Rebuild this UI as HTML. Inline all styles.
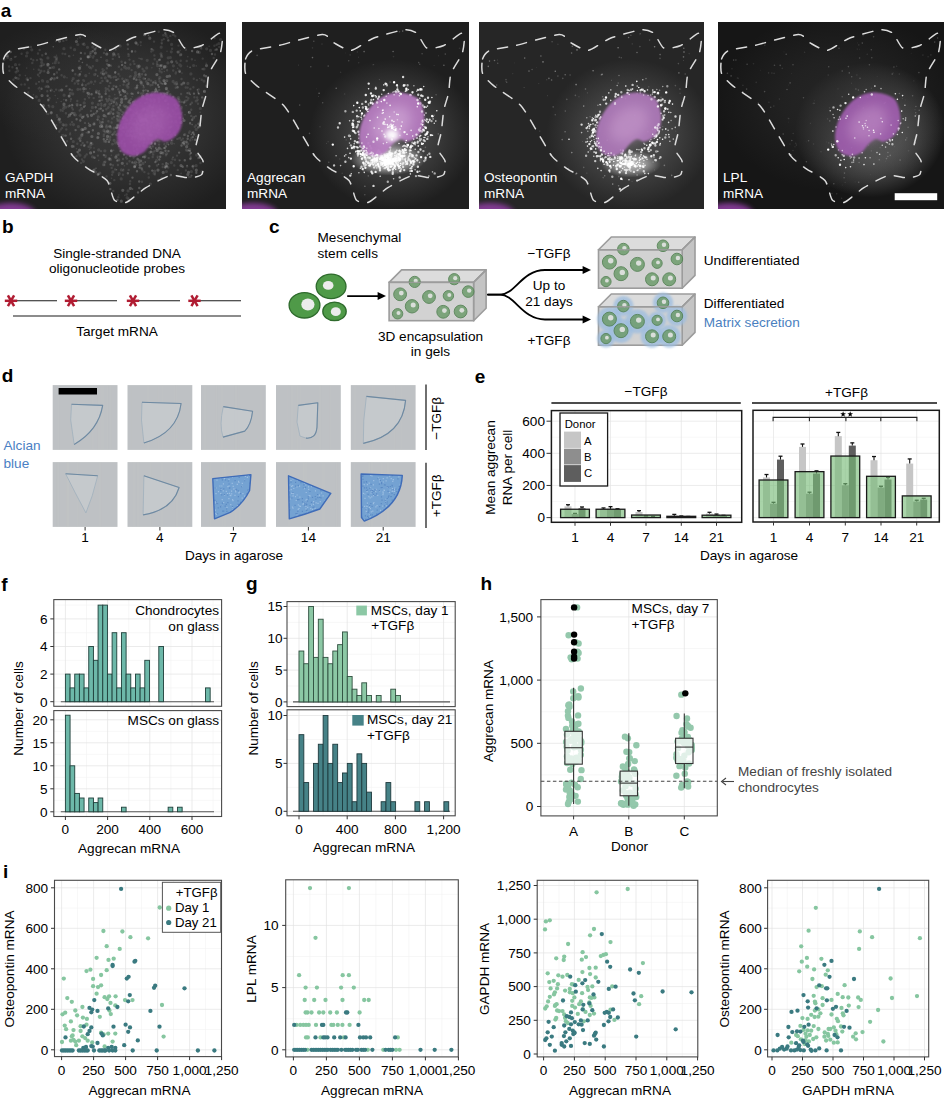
<!DOCTYPE html>
<html><head><meta charset="utf-8"><title>Figure</title>
<style>
html,body{margin:0;padding:0;background:#fff;}
body{width:946px;height:1099px;overflow:hidden;}
svg{display:block;font-family:"Liberation Sans", sans-serif;}
</style></head><body>
<svg width="946" height="1099" viewBox="0 0 946 1099">
<defs>
<filter id="blur05" x="-20%" y="-20%" width="140%" height="140%"><feGaussianBlur stdDeviation="0.75"/></filter>
<filter id="blur1" x="-20%" y="-20%" width="140%" height="140%"><feGaussianBlur stdDeviation="1"/></filter>
<filter id="blur2" x="-50%" y="-50%" width="200%" height="200%"><feGaussianBlur stdDeviation="2.5"/></filter>
<filter id="blur6" x="-50%" y="-50%" width="200%" height="200%"><feGaussianBlur stdDeviation="6"/></filter>
<filter id="blur10" x="-80%" y="-80%" width="260%" height="260%"><feGaussianBlur stdDeviation="10"/></filter>
</defs>
<rect x="0" y="0" width="946" height="1099" fill="#fff"/>
<text x="0.8" y="16.8" font-size="19" fill="#000" font-weight="bold">a</text>
<clipPath id="clipa1"><rect x="0" y="0" width="226" height="187"/></clipPath>
<g transform="translate(0,22)" clip-path="url(#clipa1)">
<rect x="0.00" y="0.00" width="226.00" height="187.00" fill="#1f1f1f"/>
<radialGradient id="ga1_0"><stop offset="0" stop-color="#404040" stop-opacity="0.9"/><stop offset="0.45" stop-color="#404040" stop-opacity="0.63"/><stop offset="1" stop-color="#404040" stop-opacity="0"/></radialGradient>
<ellipse cx="130" cy="95" rx="127.5" ry="105.0" fill="url(#ga1_0)"/>
<radialGradient id="ga1_1"><stop offset="0" stop-color="#303030" stop-opacity="0.7"/><stop offset="0.45" stop-color="#303030" stop-opacity="0.49"/><stop offset="1" stop-color="#303030" stop-opacity="0"/></radialGradient>
<ellipse cx="60" cy="60" rx="82.5" ry="60.0" fill="url(#ga1_1)"/>
<g filter="url(#blur05)"><path d="M147.8 115.1h0M26.7 46.1h0M3.7 50.3h0M39.8 69.0h0M156.2 109.3h0M187.5 44.4h0M124.4 143.7h0M127.2 91.8h0M209.1 24.2h0M113.6 128.2h0M116.5 80.4h0M11.4 36.5h0M61.2 79.5h0M123.6 147.4h0M163.6 62.0h0M87.2 62.0h0M187.8 34.7h0M86.3 110.7h0M128.4 62.1h0M55.1 56.0h0M89.8 66.7h0M99.5 98.8h0M195.0 38.3h0M156.2 67.8h0M70.6 79.3h0M66.0 64.5h0M196.3 43.9h0M158.5 103.4h0M73.4 33.2h0M211.0 47.0h0M180.1 28.4h0M136.3 129.9h0M156.8 87.2h0M168.0 112.4h0M151.9 45.8h0M123.7 74.8h0M124.8 173.4h0M150.6 102.5h0M110.0 43.3h0M164.3 49.5h0M193.3 146.8h0M16.2 34.6h0M214.1 15.2h0M140.8 23.4h0M119.3 35.4h0M159.5 85.4h0M56.4 33.3h0M122.8 109.1h0M70.2 110.7h0M33.5 72.8h0M198.2 71.2h0M25.4 53.6h0M114.8 72.6h0M139.0 36.2h0M32.5 75.5h0M84.1 21.1h0M200.2 90.3h0M48.3 83.4h0M157.4 136.1h0M208.2 56.6h0M95.9 52.0h0M104.5 48.1h0M189.6 71.4h0M67.0 55.7h0M191.8 153.6h0M153.8 102.5h0M89.2 51.4h0M185.0 92.8h0M118.9 173.0h0M52.7 41.4h0M97.9 115.2h0M55.2 73.5h0M54.2 69.6h0M182.0 51.1h0M177.6 46.4h0M173.7 92.0h0M167.0 29.2h0M136.4 98.2h0M33.7 47.3h0M82.4 61.3h0M68.7 34.1h0M87.6 74.0h0M194.6 94.8h0M192.7 117.8h0M158.5 38.7h0M81.1 49.8h0M120.1 63.7h0M76.5 126.8h0M128.0 32.0h0M132.2 74.7h0M140.3 36.8h0M39.1 54.4h0M206.2 41.3h0M125.0 43.7h0M89.5 127.2h0M128.9 60.3h0M178.3 105.5h0M93.7 62.3h0M161.9 22.0h0M57.7 76.5h0M179.8 138.5h0M39.6 65.3h0M138.0 55.1h0M131.1 102.4h0M111.5 156.2h0M149.9 123.4h0M190.5 82.2h0M136.3 98.8h0M136.4 87.6h0M145.9 97.2h0M203.8 69.4h0M156.8 100.4h0M147.8 91.8h0M63.8 77.6h0M140.7 99.4h0M186.1 83.5h0M56.4 80.4h0M129.4 55.0h0M142.2 103.1h0M164.5 102.0h0M133.1 88.9h0M137.4 105.8h0M77.6 16.9h0M181.1 151.4h0M124.8 106.3h0M137.3 111.9h0M146.1 96.6h0M133.5 126.0h0M163.1 110.4h0M143.6 97.1h0M111.4 133.2h0M143.5 98.9h0M108.9 76.6h0M144.1 105.2h0M160.2 107.0h0M159.6 107.0h0M143.9 104.7h0M167.1 59.2h0M120.0 114.1h0M155.3 112.5h0M116.1 76.5h0M157.1 110.6h0M199.7 56.5h0M164.1 91.4h0M94.0 126.1h0M169.9 74.1h0M140.0 93.3h0M117.3 105.7h0M118.4 122.2h0M117.7 103.6h0M196.0 114.6h0M136.9 140.4h0M150.4 108.4h0M141.1 114.8h0M181.9 90.7h0M140.7 80.6h0M72.9 83.3h0M155.0 78.0h0M147.7 95.3h0M174.2 121.8h0M160.9 131.7h0M90.5 45.0h0M137.1 92.5h0M98.7 138.4h0M138.3 101.2h0M119.9 54.1h0" stroke="#fff" stroke-width="1.6" stroke-linecap="round" stroke-opacity="0.1" fill="none"/><path d="M158.5 142.4h0M82.4 40.5h0M173.0 135.3h0M198.8 71.4h0M187.1 143.6h0M159.4 46.8h0M180.3 95.7h0M148.5 13.4h0M126.9 101.8h0M143.5 115.0h0M191.3 112.5h0M88.6 101.3h0M118.7 153.2h0M62.9 89.0h0M39.0 59.9h0M175.1 84.7h0M97.7 54.0h0M132.6 167.1h0M188.6 128.4h0M140.3 107.1h0M136.8 100.0h0M119.4 71.3h0M154.0 80.2h0M174.4 82.9h0M122.1 92.8h0M147.0 98.2h0M142.7 93.8h0M150.0 101.6h0M143.4 63.6h0M192.1 102.6h0M190.1 45.4h0M151.4 126.6h0M171.5 118.3h0M188.6 90.1h0M160.8 100.1h0M101.0 35.2h0M145.2 140.1h0M111.6 81.3h0M147.1 106.9h0M168.6 122.7h0M148.6 109.1h0M50.5 68.7h0M135.0 96.8h0M138.0 106.7h0M190.2 72.5h0M124.9 121.5h0M149.6 109.1h0M125.0 85.0h0M197.4 67.9h0M96.0 146.2h0M158.9 37.7h0M141.7 97.5h0M157.2 69.7h0M116.5 147.8h0M85.2 83.9h0M153.7 105.5h0M99.1 69.0h0M155.9 66.4h0M141.4 103.7h0M145.3 56.6h0M53.3 24.8h0M107.1 117.5h0M175.2 87.3h0M136.5 91.4h0M155.7 126.0h0M183.2 96.4h0M162.2 61.9h0" stroke="#fff" stroke-width="1.6" stroke-linecap="round" stroke-opacity="0.2" fill="none"/><path d="M114.8 109.8h0M142.4 148.3h0M117.3 119.7h0M189.9 132.4h0M175.9 50.4h0M180.1 33.2h0M48.2 48.3h0M129.9 162.0h0M141.2 71.5h0M164.6 72.6h0M108.7 43.1h0M73.9 124.5h0M198.9 71.9h0M62.6 31.6h0M48.4 77.4h0M142.2 83.5h0M154.7 37.3h0M161.4 33.5h0M193.4 65.2h0M214.5 16.1h0M144.4 97.8h0M129.5 37.6h0M60.8 88.5h0M107.7 59.3h0M43.9 42.5h0M56.6 37.0h0M84.9 77.3h0M58.6 18.1h0M178.5 23.6h0M124.7 96.3h0M104.4 143.0h0M158.4 157.9h0M167.1 75.8h0M142.2 75.6h0M168.2 145.5h0M157.0 143.5h0M163.3 13.2h0M150.5 63.2h0M139.1 138.2h0M119.0 111.8h0M118.3 175.3h0M136.4 21.5h0M119.4 23.2h0M103.0 49.0h0M177.3 116.9h0M154.8 105.6h0M124.4 118.0h0M182.9 116.6h0M95.9 48.3h0M127.5 90.7h0M175.3 14.2h0M18.5 56.8h0M82.8 22.0h0M181.5 57.0h0M56.1 67.6h0M89.4 72.5h0M180.1 101.1h0M117.9 143.0h0M111.6 100.5h0M118.4 132.8h0M84.9 31.4h0M13.4 57.7h0M134.4 41.9h0M70.5 102.5h0M181.1 72.0h0M161.2 113.3h0M191.2 153.7h0M161.9 18.2h0M193.8 56.8h0M186.7 39.0h0M105.6 133.7h0M160.5 44.4h0M180.7 38.7h0M85.0 100.9h0M88.6 124.7h0M153.2 132.5h0M189.1 110.8h0M77.3 121.7h0M115.1 147.5h0M79.7 93.6h0M141.7 37.0h0M122.8 104.9h0M45.1 87.5h0M128.7 32.5h0M106.2 76.9h0M165.4 111.7h0M118.9 44.7h0M202.7 36.6h0M50.5 57.4h0M19.7 53.3h0M113.0 33.6h0M81.3 123.1h0M114.3 158.1h0M215.0 32.5h0M177.8 147.9h0M128.6 101.6h0M140.4 98.3h0M38.8 47.7h0M201.2 26.5h0M172.5 137.3h0M48.7 65.0h0M37.0 38.1h0M161.6 50.2h0M159.7 48.7h0M33.3 38.3h0M74.2 93.0h0M91.0 88.9h0M77.3 79.0h0M132.4 87.7h0M141.8 116.1h0M43.5 42.7h0M89.0 44.8h0M110.9 105.4h0M169.3 99.9h0M57.4 94.9h0M161.8 47.1h0M190.5 154.9h0M28.3 70.5h0M219.3 25.0h0M122.6 90.3h0M156.9 102.1h0M127.9 26.9h0M51.4 90.2h0M201.7 57.8h0M109.4 77.5h0M81.1 140.9h0M130.4 42.5h0M148.5 151.6h0M21.3 62.6h0M168.0 102.1h0M23.9 26.7h0M49.6 76.3h0M143.4 70.7h0M155.9 84.8h0M86.9 43.0h0M141.8 83.6h0M111.0 43.8h0M198.1 136.1h0M76.7 59.0h0M166.4 67.4h0M78.3 131.6h0M202.4 47.1h0M84.6 135.2h0M106.0 67.6h0M47.3 69.2h0M167.6 15.6h0M165.2 145.1h0M68.2 94.9h0M115.8 55.0h0M49.2 84.5h0M166.0 133.3h0M113.2 169.0h0M167.1 48.3h0M107.8 67.0h0M84.1 58.8h0M82.6 111.8h0M137.7 110.2h0M56.9 50.5h0M194.4 75.2h0M176.6 82.4h0M101.2 81.7h0M126.6 172.5h0M45.7 64.8h0M133.7 97.2h0M190.4 67.0h0M85.3 134.0h0M128.4 103.1h0M177.2 40.9h0M137.8 22.6h0M121.4 47.4h0M61.6 53.3h0M137.7 101.7h0M119.1 34.5h0M112.8 36.9h0M30.5 56.1h0M133.5 128.2h0M187.5 128.7h0M188.3 76.2h0M59.3 109.5h0M39.7 28.0h0M177.1 62.2h0M41.7 43.4h0M164.2 126.1h0M213.7 36.0h0M69.4 34.2h0M122.1 106.2h0M36.2 61.8h0M103.9 112.8h0M112.8 122.1h0M9.4 48.7h0M106.9 116.7h0M94.2 101.0h0M65.2 32.0h0M60.8 107.4h0M113.7 64.0h0M181.1 33.0h0M196.9 58.1h0M128.6 176.4h0M156.9 96.5h0M75.3 52.2h0M121.0 88.5h0M93.7 76.1h0M216.7 22.8h0M164.3 59.7h0M16.1 50.4h0M129.5 139.2h0M160.0 83.8h0M102.4 59.0h0M90.7 125.5h0M148.2 125.1h0M173.2 48.5h0M168.7 108.3h0M62.0 106.1h0M94.9 27.2h0M17.0 56.2h0M187.2 71.1h0M84.6 122.9h0M179.5 138.2h0M38.7 66.4h0M39.9 51.0h0M72.9 87.4h0M80.4 67.3h0M191.2 87.7h0M200.5 141.0h0M156.5 93.6h0M113.9 87.6h0M180.0 116.0h0M154.5 129.3h0M133.8 108.9h0M49.0 83.6h0M72.6 48.5h0M127.3 71.6h0M14.9 34.9h0M141.9 71.6h0M112.9 143.2h0M38.0 31.5h0M86.7 132.4h0M142.1 52.3h0M59.3 68.4h0M191.9 37.2h0M95.1 59.4h0M167.6 86.6h0M93.6 34.3h0M109.4 74.4h0M153.2 28.2h0M136.1 142.8h0M56.2 103.2h0M168.1 142.0h0M21.6 31.7h0M145.7 68.2h0M135.1 114.7h0M91.9 121.2h0M82.7 121.0h0M87.3 120.2h0M79.7 88.5h0M144.4 150.1h0M151.3 29.5h0M116.5 133.4h0M178.3 154.3h0M99.2 87.0h0M15.7 50.0h0M150.7 77.2h0M31.1 36.9h0M28.8 65.9h0M162.7 145.1h0M105.7 69.2h0M160.8 61.0h0M83.3 58.2h0M68.4 84.5h0M181.9 22.7h0M93.2 102.2h0M152.4 62.8h0M198.6 67.4h0M177.5 104.1h0M152.3 86.3h0M175.7 51.4h0M24.8 62.4h0M51.6 45.7h0M115.1 50.7h0M152.7 124.4h0M181.4 86.4h0M89.9 45.8h0M137.6 136.8h0M69.0 73.9h0M65.9 91.3h0M58.7 40.8h0M214.4 23.7h0M130.8 77.3h0M79.9 15.4h0M157.0 41.8h0M63.6 103.5h0M137.0 89.1h0M30.9 25.0h0M181.0 154.6h0M188.7 155.0h0M178.3 106.6h0M96.0 25.7h0M195.9 103.5h0M189.7 109.4h0M131.6 48.1h0M140.7 108.9h0M123.6 96.9h0M153.3 104.3h0M66.3 107.5h0M19.3 42.6h0M118.3 32.2h0M141.2 89.8h0M139.3 102.6h0M162.4 115.2h0M167.7 112.9h0M150.8 104.7h0M144.1 86.0h0M106.5 103.4h0M110.2 53.9h0M98.9 78.9h0M123.5 62.6h0M99.1 75.0h0M54.6 35.0h0M115.2 33.2h0M44.3 49.2h0M155.4 59.3h0M115.7 27.5h0M91.2 46.3h0M154.5 79.5h0M134.7 86.1h0M145.9 76.9h0M187.1 144.4h0M56.0 19.1h0M138.4 102.7h0M72.1 58.7h0M101.4 83.5h0M187.4 78.1h0M112.1 152.8h0M142.0 159.8h0M106.3 87.2h0M154.4 33.4h0M87.1 70.8h0M170.4 13.9h0M190.3 118.2h0M78.7 45.4h0M74.4 135.2h0M110.9 55.6h0M123.0 137.0h0M108.3 53.5h0M154.0 19.6h0M92.4 122.1h0M47.0 91.6h0M12.4 45.3h0M139.1 91.7h0M40.5 36.9h0M104.0 31.0h0M105.3 139.7h0M126.1 135.4h0M150.7 82.0h0M82.0 137.4h0M118.2 56.9h0M109.2 68.6h0M175.7 94.8h0M121.6 39.8h0M158.8 9.8h0M42.2 33.3h0M32.3 41.0h0M70.1 112.2h0M175.8 65.8h0M56.9 93.1h0M134.4 123.6h0M138.6 114.6h0M138.9 140.8h0M63.3 18.9h0M154.9 152.4h0M175.0 137.7h0M215.3 27.9h0M163.8 17.1h0M63.7 84.2h0M79.1 39.1h0M99.0 152.1h0M102.6 47.3h0M9.1 44.5h0M174.4 100.9h0M66.4 17.7h0M145.5 86.4h0M121.9 109.3h0M168.1 82.0h0M122.4 56.8h0M178.5 77.0h0M147.7 80.8h0M144.8 56.9h0M130.5 54.3h0M74.8 61.4h0M111.7 145.9h0M93.0 35.5h0M133.5 39.2h0M191.2 93.9h0M151.1 58.6h0M114.1 94.9h0M186.5 74.9h0M142.6 85.2h0M148.1 106.0h0M104.8 109.8h0M149.6 99.0h0M143.2 87.8h0M128.2 85.4h0M103.8 114.0h0M102.9 97.3h0M115.5 112.6h0M135.3 86.2h0M132.1 29.3h0M81.4 94.4h0M113.5 55.2h0M161.4 127.1h0M130.4 85.9h0M159.2 119.4h0M105.5 134.7h0M132.4 99.6h0M66.5 63.9h0M181.7 85.2h0M191.9 80.8h0M153.2 41.7h0M143.4 76.0h0M123.9 127.9h0M146.2 59.5h0M171.4 100.8h0M38.0 52.8h0M190.4 82.4h0M137.7 85.3h0M148.2 93.2h0M101.5 55.9h0M203.9 77.7h0M138.5 121.5h0M150.5 93.1h0M154.9 92.3h0M144.4 106.1h0M125.9 92.6h0M118.5 52.0h0M140.5 97.0h0M90.2 32.3h0M179.2 116.2h0M143.9 97.9h0M177.1 100.5h0M105.4 82.3h0M125.6 57.8h0M143.3 105.2h0M71.0 77.3h0M149.5 86.2h0M105.5 119.3h0M155.0 122.0h0M160.6 91.1h0M109.2 91.3h0M154.1 97.3h0M106.5 154.4h0M131.3 94.7h0M150.0 99.8h0M137.1 111.1h0M181.4 118.1h0M123.0 152.8h0M161.7 20.9h0M130.4 93.5h0M113.4 84.0h0M124.8 77.0h0M130.2 159.2h0M126.4 84.3h0M154.7 99.3h0M142.6 100.4h0M179.6 90.9h0M107.9 85.9h0M139.5 57.7h0M139.9 111.7h0M150.1 89.1h0M121.7 107.7h0M172.3 118.4h0M100.4 60.9h0M154.7 93.9h0M143.4 102.7h0M169.0 93.2h0M71.9 85.5h0M134.9 117.2h0M126.6 63.4h0M105.7 66.2h0M191.3 116.1h0M179.4 96.4h0M133.3 106.8h0M109.0 64.3h0M168.0 94.8h0M151.8 89.9h0M155.9 99.8h0M110.5 105.2h0M145.7 98.3h0M128.8 61.7h0M141.5 99.2h0M129.8 98.7h0M117.0 96.8h0M190.7 135.3h0M174.5 61.4h0M107.1 42.1h0M130.0 88.2h0M152.1 94.0h0M142.6 98.4h0M150.9 106.1h0M85.9 67.0h0M151.6 121.8h0M198.1 69.9h0M110.3 60.9h0M97.9 133.6h0M154.5 72.3h0M155.7 115.6h0M159.8 49.2h0M143.0 123.3h0M106.3 110.1h0M142.3 100.4h0M144.1 94.2h0M106.9 46.2h0M152.3 97.2h0M137.1 101.7h0M117.5 90.5h0M161.3 104.7h0M128.7 147.9h0M132.1 101.9h0M140.9 102.6h0M151.5 79.3h0M117.5 76.1h0M89.1 75.6h0M137.8 94.4h0M143.2 97.0h0M80.3 44.5h0M76.8 59.6h0M145.8 98.6h0M109.3 137.8h0M159.2 57.1h0M192.3 111.0h0M162.7 142.3h0M161.1 72.0h0M78.8 116.7h0M157.0 39.7h0M102.0 78.1h0M126.9 136.6h0M180.7 91.9h0M147.1 80.4h0M185.7 65.5h0M101.7 75.7h0M72.0 100.1h0M152.7 135.0h0M175.4 94.8h0M141.7 121.7h0M143.2 97.2h0M112.2 96.4h0M177.6 91.6h0M157.7 134.8h0M124.7 59.9h0M159.3 67.9h0M159.7 112.4h0M140.7 95.2h0M142.7 121.4h0M142.1 96.4h0M131.6 95.2h0M135.6 87.8h0M118.2 67.2h0M105.9 94.4h0M161.0 92.1h0M117.5 98.7h0M133.6 135.5h0M153.7 90.6h0M136.4 91.5h0M140.2 81.5h0M133.6 88.2h0M162.7 130.6h0M140.2 117.0h0M124.4 122.4h0M105.3 27.8h0M143.1 86.0h0M134.4 93.3h0M143.7 111.3h0M134.9 93.2h0M197.1 75.5h0M122.6 128.4h0M127.7 88.5h0M174.3 143.5h0M144.1 117.2h0M172.1 26.7h0M184.2 112.9h0M164.4 122.3h0M152.5 130.3h0M85.7 63.3h0M129.8 119.7h0M177.0 133.6h0M156.7 83.7h0M140.2 96.4h0M141.8 98.1h0M130.6 93.2h0M185.9 27.8h0M135.3 29.4h0M148.8 155.5h0M143.1 95.7h0M143.7 65.2h0M176.0 93.1h0M116.9 105.7h0M164.9 92.1h0M130.8 110.0h0M173.7 111.3h0M185.9 148.4h0M140.7 98.7h0M113.8 80.3h0M198.0 81.8h0M123.8 99.1h0M142.2 97.7h0M88.7 61.5h0M83.6 69.4h0M95.9 91.1h0M142.0 97.6h0M143.6 56.5h0M142.6 46.9h0M140.9 138.9h0M113.9 111.2h0M135.9 125.1h0M72.0 68.2h0M88.2 35.1h0M136.4 97.4h0M101.0 129.1h0M140.5 105.1h0M93.1 148.3h0M132.9 71.9h0M166.0 90.7h0M179.6 80.1h0M104.3 119.4h0M160.2 110.2h0M194.8 104.7h0M123.2 148.4h0M139.7 125.3h0M112.3 122.2h0M108.5 85.2h0M159.1 122.6h0M134.5 141.4h0M146.5 113.5h0M158.2 108.2h0M142.0 98.5h0M149.6 91.1h0M60.7 88.0h0M181.8 80.0h0M145.4 112.1h0M105.1 110.2h0M92.8 44.3h0M190.1 137.0h0M195.9 94.1h0M187.6 65.6h0M174.5 95.4h0M133.5 125.9h0M148.7 136.1h0M139.7 83.9h0M78.2 61.7h0M152.4 109.9h0M136.6 106.6h0M162.5 110.0h0M197.7 77.8h0M156.3 126.7h0M134.5 100.9h0M141.8 77.8h0M83.9 94.4h0M133.7 109.6h0M148.6 117.2h0M147.5 120.8h0M115.2 54.6h0M157.4 90.6h0M170.3 72.2h0M118.4 104.8h0M144.2 95.9h0M80.7 92.6h0M144.1 98.4h0M76.6 134.1h0M67.1 119.2h0M159.5 59.3h0M142.0 98.0h0M137.1 90.9h0M128.6 33.9h0M162.9 71.3h0M146.3 98.6h0M77.2 83.5h0M148.1 92.6h0M70.8 25.7h0M154.7 103.5h0M146.5 59.5h0M48.2 92.0h0M140.7 20.3h0M149.8 89.3h0M120.8 102.8h0M136.7 113.9h0M127.4 62.8h0M178.6 104.2h0M127.1 141.8h0M142.2 98.3h0M140.2 105.1h0M176.2 39.5h0M108.4 99.2h0M122.5 68.0h0M123.4 90.8h0M134.1 89.3h0M157.7 118.7h0" stroke="#fff" stroke-width="2.4" stroke-linecap="round" stroke-opacity="0.1" fill="none"/><path d="M102.2 104.7h0M173.2 74.9h0M47.6 73.7h0M84.0 84.7h0M138.8 52.4h0M94.3 147.8h0M45.8 31.7h0M189.8 128.9h0M144.3 99.0h0M120.5 72.9h0M124.3 95.0h0M97.1 89.3h0M123.0 106.1h0M72.7 48.5h0M165.3 61.6h0M151.6 27.1h0M84.2 123.8h0M51.8 56.3h0M110.6 142.4h0M82.3 63.0h0M77.6 129.9h0M69.7 83.6h0M91.6 72.3h0M127.9 151.2h0M69.7 67.4h0M80.0 52.2h0M41.5 66.8h0M139.3 166.0h0M102.6 100.3h0M80.8 36.7h0M152.9 85.1h0M192.1 29.0h0M127.8 22.4h0M110.1 104.3h0M199.5 135.8h0M131.9 29.5h0M108.9 119.9h0M138.0 170.4h0M206.0 54.3h0M80.3 98.5h0M102.9 88.6h0M158.0 63.0h0M128.8 113.9h0M16.8 46.2h0M116.3 57.9h0M54.2 52.2h0M190.9 131.0h0M92.8 29.2h0M10.7 30.0h0M170.9 153.0h0M212.0 32.0h0M66.1 78.3h0M165.3 11.3h0M137.0 65.4h0M110.3 167.1h0M94.0 130.0h0M138.8 119.4h0M187.7 116.8h0M192.7 144.4h0M115.3 50.3h0M138.4 116.3h0M172.7 88.5h0M184.8 138.3h0M126.3 76.5h0M159.0 80.0h0M80.9 30.9h0M71.2 91.8h0M193.2 110.5h0M132.4 140.4h0M97.9 152.5h0M57.2 55.7h0M15.5 55.8h0M163.3 106.3h0M198.5 101.8h0M95.7 85.3h0M196.3 150.8h0M216.7 27.4h0M49.8 46.0h0M179.1 130.6h0M184.2 122.3h0M65.7 113.6h0M186.5 119.7h0M113.2 91.8h0M103.9 133.1h0M121.5 121.0h0M94.3 102.2h0M144.9 96.8h0M122.1 42.9h0M158.9 64.9h0M128.6 80.3h0M133.9 56.7h0M156.5 103.4h0M123.9 102.1h0M76.6 97.3h0M124.0 94.8h0M109.3 104.4h0M80.3 118.8h0M48.3 78.3h0M80.5 83.1h0M157.1 89.4h0M121.9 118.9h0M146.3 95.8h0M155.0 121.5h0M140.4 93.2h0M143.5 111.4h0M131.0 109.2h0M147.4 101.7h0M112.5 112.6h0M179.7 49.7h0M129.9 107.5h0M101.6 74.6h0M141.7 94.9h0M149.3 144.2h0M153.3 60.4h0M152.8 89.4h0M99.5 72.2h0M135.7 123.6h0M145.5 92.4h0M137.0 149.2h0M139.2 159.5h0M147.9 69.0h0M164.9 78.9h0M137.2 63.6h0M164.7 125.9h0M159.8 37.7h0M120.3 103.8h0M123.0 68.1h0M97.6 97.6h0M199.8 104.2h0M176.6 86.0h0M83.2 107.8h0M123.1 96.3h0M153.7 82.8h0M130.3 101.1h0M155.4 140.1h0M150.1 111.9h0M143.9 102.0h0M155.7 61.3h0M134.9 91.4h0M175.1 112.7h0M138.6 116.7h0M132.7 114.3h0M150.9 129.7h0M159.9 87.2h0M168.5 129.1h0M142.2 98.5h0M92.9 108.2h0M142.0 97.9h0M159.6 104.3h0M158.9 75.4h0M143.4 68.6h0M121.5 112.5h0M140.8 103.3h0M140.0 112.4h0M125.8 102.0h0M169.5 92.5h0M105.7 71.8h0M160.2 134.8h0M124.0 132.6h0M108.1 91.7h0M171.3 94.4h0M131.8 96.1h0M182.6 121.1h0M144.4 117.5h0M194.0 112.4h0M125.5 96.1h0M204.2 53.5h0M125.9 103.5h0M151.2 84.8h0M156.0 114.1h0M192.2 97.8h0M145.4 97.7h0M145.1 81.1h0M120.1 83.3h0M151.5 101.0h0M155.1 70.0h0M164.5 71.6h0M147.9 100.6h0M125.2 40.7h0M178.6 83.6h0M162.0 89.6h0M27.8 58.0h0M59.2 47.4h0M152.3 148.6h0M156.7 106.1h0M147.0 77.1h0M177.6 65.2h0M136.1 102.5h0M166.6 109.4h0M155.2 93.6h0M153.2 97.6h0M143.1 98.0h0M139.4 110.7h0M168.3 82.2h0M141.7 146.5h0M88.8 109.9h0M126.5 90.8h0M82.3 95.7h0M134.3 112.3h0M119.6 105.7h0M150.4 113.0h0M159.3 137.5h0M138.7 96.4h0M141.6 96.2h0M134.6 123.0h0M119.1 123.9h0M152.5 89.7h0M96.1 70.4h0M120.5 129.1h0M151.0 103.8h0M166.3 141.3h0M117.4 178.0h0M87.9 94.4h0M100.9 86.6h0M137.0 132.8h0M195.2 117.8h0M192.8 115.0h0M132.5 155.6h0M171.0 104.9h0M75.6 108.1h0M168.1 85.7h0M100.1 78.6h0M131.2 120.3h0M134.4 129.1h0M111.2 128.8h0M72.3 90.9h0M168.3 18.4h0M164.5 73.9h0M145.2 97.5h0M190.1 101.2h0M131.6 71.6h0M187.9 114.0h0M129.4 78.8h0M146.9 109.0h0M140.4 92.5h0M144.6 135.3h0M123.8 59.2h0M125.5 74.3h0M194.0 71.6h0M109.7 136.6h0M140.3 107.4h0M152.5 91.0h0M143.1 134.9h0M165.5 128.8h0M151.7 95.5h0M119.5 69.8h0M90.9 121.0h0M159.0 107.7h0M142.3 97.8h0M181.5 123.5h0M118.5 85.4h0M99.2 71.8h0M138.5 94.7h0M93.7 92.0h0M94.5 135.7h0M165.8 124.4h0M190.6 136.6h0M129.7 112.4h0M169.8 109.9h0M144.0 120.7h0M132.2 116.8h0M160.8 43.4h0M152.5 93.6h0M138.2 70.8h0M146.7 102.7h0M161.4 102.5h0M103.8 117.3h0M82.9 95.0h0M144.6 86.5h0M133.5 123.4h0M123.2 69.1h0M179.5 95.5h0M120.6 106.9h0M50.9 57.2h0M144.1 98.4h0M134.8 144.6h0M167.0 144.4h0M142.3 102.8h0M140.3 99.7h0M72.1 83.0h0M136.4 57.7h0M133.6 91.6h0M158.3 75.6h0M157.6 89.7h0M171.9 99.4h0M181.6 62.4h0M87.3 93.0h0M116.2 64.7h0M130.8 87.8h0M117.2 138.6h0M202.2 75.4h0M184.0 80.4h0M121.4 113.3h0M198.2 105.4h0M130.2 134.0h0M140.8 98.3h0M137.0 98.9h0M141.2 93.4h0M146.5 98.8h0M78.5 58.6h0M151.8 120.4h0M148.0 110.6h0M158.9 104.6h0M145.6 52.7h0M71.1 116.7h0M165.3 145.6h0M139.6 145.6h0M130.2 81.1h0M142.3 98.2h0M149.9 84.2h0M139.4 51.9h0M182.7 144.7h0M123.9 109.8h0M117.5 94.0h0M150.2 125.2h0M161.4 103.6h0M131.1 105.6h0M142.3 98.3h0" stroke="#fff" stroke-width="2.4" stroke-linecap="round" stroke-opacity="0.2" fill="none"/><path d="M56.4 35.5h0M134.8 54.9h0M15.5 42.7h0M109.0 136.6h0M166.6 131.6h0M160.2 106.7h0M157.6 97.3h0M147.2 38.3h0M145.0 134.2h0M121.4 147.9h0M180.8 32.3h0M31.8 27.8h0M70.4 71.3h0M80.3 115.9h0M193.6 43.5h0M204.0 59.1h0M200.6 25.0h0M4.0 37.6h0M218.9 21.6h0M41.7 38.1h0M201.9 149.9h0M144.3 116.7h0M148.1 104.8h0M165.9 44.6h0M170.3 35.5h0M47.6 64.3h0M73.5 102.6h0M96.6 69.1h0M63.9 26.7h0M146.7 45.9h0M95.0 27.3h0M41.7 40.6h0M206.6 64.0h0M60.2 100.0h0M115.6 121.0h0M161.7 156.2h0M130.3 130.4h0M81.6 86.6h0M184.8 112.5h0M148.8 57.5h0M171.3 140.6h0M92.4 81.1h0M118.9 98.2h0M150.4 162.0h0M128.1 168.9h0M106.8 38.6h0M161.2 25.2h0M40.9 44.0h0M135.5 53.2h0M63.1 102.5h0M104.3 140.4h0M137.4 44.0h0M134.9 133.7h0M98.2 82.6h0M124.7 45.2h0M200.3 86.5h0M41.1 49.1h0M72.8 71.9h0M123.9 116.8h0M174.5 89.9h0M159.8 116.5h0M64.1 73.2h0M148.5 116.5h0M119.2 151.5h0M91.2 60.1h0M114.1 106.2h0M210.5 28.4h0M166.8 58.5h0M196.6 133.1h0M177.9 91.8h0M193.2 144.1h0M26.5 34.0h0M92.4 85.4h0M94.7 52.6h0M133.5 102.1h0M187.3 121.5h0M90.7 122.7h0M140.8 138.8h0M121.1 99.8h0M17.7 48.8h0M74.3 91.4h0M187.9 61.4h0M166.5 78.2h0M166.0 13.4h0M121.2 156.9h0M97.6 70.6h0M111.6 128.9h0M157.6 43.7h0M52.8 84.7h0M127.9 65.2h0M152.5 85.1h0M58.8 97.8h0M55.2 40.7h0M87.5 25.3h0M85.8 53.7h0M206.7 26.8h0M84.1 22.5h0M199.3 30.4h0M78.4 104.6h0M180.8 43.8h0M113.9 79.7h0M110.7 90.2h0M154.8 149.1h0M196.1 143.7h0M179.8 42.8h0M172.3 103.8h0M204.0 47.0h0M110.0 109.9h0M27.1 56.9h0M115.0 76.8h0M88.4 110.4h0M176.4 60.7h0M128.7 178.3h0M107.1 58.7h0M77.1 82.3h0M51.2 68.1h0M127.1 175.7h0M143.9 49.0h0M161.6 34.6h0M74.6 27.7h0M7.6 35.4h0M140.0 139.5h0M64.3 54.8h0M161.8 43.5h0M186.3 127.9h0M120.1 24.0h0M77.8 22.5h0M199.8 103.6h0M65.6 85.2h0M136.4 88.0h0M191.4 149.6h0M196.2 107.4h0M171.3 120.8h0M176.0 62.0h0M188.8 71.0h0M27.2 30.8h0M42.7 59.0h0M179.4 48.9h0M189.7 127.3h0M169.8 94.1h0M170.0 115.2h0M110.5 137.5h0M53.6 45.3h0M162.0 88.4h0M73.3 119.5h0M150.9 113.4h0M95.6 150.0h0M79.0 53.2h0M141.1 113.1h0M163.0 131.2h0M111.6 78.5h0M158.7 43.5h0M164.3 45.7h0M99.8 151.1h0M125.2 100.3h0M154.1 151.2h0M10.9 37.4h0M63.3 113.4h0M138.0 45.2h0M128.8 46.2h0M104.9 128.8h0M84.2 80.9h0M161.0 31.8h0M135.4 50.7h0M140.1 88.5h0M98.7 127.9h0M100.6 100.6h0M173.3 12.6h0M173.4 43.8h0M54.1 56.8h0M142.9 141.4h0M132.5 133.3h0M66.0 103.1h0M118.7 137.9h0M137.5 123.1h0M36.3 74.8h0M80.0 133.2h0M101.5 50.8h0M171.3 29.8h0M137.8 137.3h0M105.9 50.8h0M187.7 121.8h0M145.9 124.6h0M169.0 112.3h0M167.3 121.4h0M104.4 83.4h0M63.5 86.5h0M62.4 113.5h0M166.4 149.5h0M171.6 22.4h0M157.2 69.6h0M112.9 149.9h0M39.1 78.4h0M156.5 138.5h0M98.2 152.1h0M47.9 43.4h0M220.7 17.5h0M47.9 35.9h0M42.4 58.6h0M47.5 59.6h0M193.6 95.6h0M149.8 130.6h0M144.3 87.8h0M171.8 121.3h0M176.8 102.8h0M173.1 59.4h0M152.8 70.4h0M92.5 134.8h0M136.5 83.8h0M103.9 108.5h0M133.3 93.7h0M139.6 98.3h0M83.4 139.3h0M119.4 87.5h0M161.3 92.7h0M92.8 24.9h0M114.1 118.3h0M126.6 106.1h0M119.1 91.6h0M139.7 95.0h0M179.2 78.4h0M154.4 150.9h0M167.8 95.9h0M109.8 115.2h0M132.8 108.9h0M151.7 86.4h0M149.1 108.3h0M96.9 38.4h0M135.9 66.1h0M117.2 112.6h0M129.5 110.0h0M137.2 88.8h0M108.7 110.3h0M154.2 109.8h0M127.0 85.9h0M103.5 142.7h0M153.1 100.3h0M142.4 97.4h0M131.3 99.4h0M147.5 89.2h0M147.6 77.3h0M160.8 71.6h0M128.6 101.6h0M168.2 35.8h0M185.3 79.1h0M137.3 87.0h0M149.8 95.0h0M144.2 100.5h0M135.4 140.1h0M131.3 83.6h0M112.6 87.2h0M133.8 101.4h0M167.9 40.9h0M142.1 98.0h0M124.5 121.0h0M139.8 54.4h0M159.7 89.1h0M149.1 109.7h0M105.3 55.8h0M178.4 75.5h0M161.4 105.2h0M153.3 77.1h0M144.5 97.1h0M135.6 90.1h0M56.2 38.4h0M141.6 91.7h0M106.5 105.1h0M168.0 69.6h0M77.9 67.3h0M119.5 94.9h0M146.3 121.0h0M122.5 105.3h0M132.9 89.5h0M75.4 92.9h0M132.3 114.8h0M155.7 118.0h0M151.9 117.0h0M160.4 97.2h0M147.2 99.1h0M161.6 116.5h0M141.7 61.9h0M109.9 82.1h0M136.5 106.3h0M143.9 100.9h0M109.8 91.3h0M105.9 119.6h0M90.2 34.3h0M147.8 103.5h0M107.4 78.9h0M141.5 114.4h0M132.3 83.1h0M126.1 46.1h0M141.7 98.3h0M159.8 55.5h0M196.2 79.0h0M131.3 93.8h0M109.7 117.7h0M135.0 79.2h0M127.3 58.4h0M190.9 51.9h0M87.9 34.7h0M142.0 97.4h0M109.1 54.5h0M174.9 82.7h0M175.0 91.5h0M48.5 42.5h0M157.3 117.8h0M174.5 109.9h0M148.3 100.2h0M148.5 95.2h0M90.8 30.4h0M116.7 82.1h0M153.3 84.8h0M125.8 107.0h0M98.3 94.8h0M144.4 97.4h0M127.0 98.7h0M124.2 83.8h0M73.2 56.6h0M157.1 104.0h0M161.9 96.3h0" stroke="#fff" stroke-width="3.2" stroke-linecap="round" stroke-opacity="0.1" fill="none"/><path d="M103.4 52.0h0M48.1 50.5h0M79.5 128.1h0M85.2 106.4h0M121.7 77.4h0M175.8 99.3h0M186.7 124.7h0M90.6 130.9h0M7.2 33.7h0M69.6 93.2h0M106.8 32.1h0M164.0 58.5h0M82.0 107.7h0M157.2 128.4h0M142.7 74.2h0M151.6 113.2h0M91.9 114.5h0M155.8 68.1h0M197.5 29.9h0M83.8 66.7h0M206.5 43.6h0M188.5 150.3h0M89.8 103.4h0M42.0 73.6h0M81.8 113.2h0M130.4 166.4h0M43.3 83.7h0M137.2 127.5h0M147.3 87.9h0M76.4 19.5h0M98.4 111.5h0M59.5 19.1h0M47.8 42.3h0M144.5 12.7h0M158.4 111.2h0M72.3 124.3h0M61.7 68.0h0M123.8 104.8h0M147.1 72.4h0M108.9 43.3h0M51.2 90.8h0M135.3 114.8h0M166.4 66.4h0M109.9 161.3h0M159.2 126.2h0M171.7 39.8h0M146.1 93.3h0M121.5 80.3h0M165.7 78.5h0M189.4 90.4h0M136.3 108.5h0M122.8 168.3h0M183.7 61.0h0M178.1 30.0h0M134.6 144.7h0M145.7 97.3h0M132.7 93.3h0M107.6 109.1h0M113.7 31.8h0M112.7 67.0h0M64.0 82.2h0M97.8 115.6h0M130.8 97.5h0M167.2 54.5h0M143.8 97.0h0M184.0 98.5h0M196.3 148.2h0M122.3 141.3h0M142.8 98.0h0M151.5 73.1h0M118.5 121.6h0M139.7 95.9h0M59.5 97.1h0M143.1 97.9h0M156.9 52.6h0M142.3 98.3h0M154.7 78.2h0M104.1 93.6h0M69.2 74.1h0M151.2 79.0h0M126.7 98.0h0M139.1 44.2h0M148.0 85.6h0M143.2 87.6h0M95.3 31.1h0M184.0 120.2h0M141.0 60.2h0M127.8 109.1h0M149.6 83.3h0M150.7 121.2h0M165.3 61.5h0M136.9 90.8h0M88.3 34.9h0M147.9 61.7h0M149.8 16.2h0M91.5 93.3h0M187.9 152.4h0M141.3 117.4h0M133.4 80.3h0M142.7 88.2h0M166.9 71.5h0M149.3 113.0h0M138.8 93.1h0M141.2 99.2h0M166.0 143.8h0M137.9 101.5h0M141.5 111.9h0M115.9 135.2h0M116.6 105.5h0M133.9 102.3h0M163.2 150.4h0M158.3 101.4h0M88.3 71.3h0M100.5 104.3h0M126.8 113.7h0M158.0 148.1h0M129.9 87.5h0M152.2 93.6h0M160.9 130.7h0M169.5 54.0h0M150.2 77.8h0M107.5 114.3h0M141.2 98.7h0M121.3 179.2h0M169.4 105.6h0M79.6 46.3h0M143.6 123.9h0M152.4 92.9h0M117.6 103.3h0M125.8 105.2h0M131.0 113.4h0M134.1 82.3h0M137.5 131.2h0M146.8 99.0h0M142.1 97.2h0M139.8 123.6h0M127.8 129.0h0M124.8 123.8h0M181.0 143.6h0M164.5 44.7h0M136.0 104.4h0M124.8 69.7h0M140.3 98.0h0M181.0 100.4h0M145.9 93.7h0M135.9 20.8h0M159.1 77.6h0M200.0 134.6h0M162.6 75.3h0M204.5 69.4h0M171.3 113.0h0M126.3 112.1h0M140.2 143.0h0M162.8 93.5h0M140.4 98.4h0M101.4 103.5h0" stroke="#fff" stroke-width="3.2" stroke-linecap="round" stroke-opacity="0.2" fill="none"/></g>
<path d="M155.6,70.4 C161.7,70.4 170.6,72.5 175.0,75.8 C179.4,79.1 180.8,85.5 181.8,90.4 C182.8,95.3 182.2,101.0 181.1,105.0 C180.0,109.0 177.6,112.3 175.0,114.7 C172.4,117.1 168.1,119.2 165.3,119.6 C162.5,120.0 160.4,116.7 158.0,117.1 C155.6,117.5 153.1,119.8 150.7,122.0 C148.3,124.2 146.4,128.5 143.4,130.5 C140.4,132.5 136.1,134.3 132.5,134.1 C128.9,133.9 124.1,132.1 121.6,129.3 C119.0,126.5 117.6,121.6 117.2,117.1 C116.8,112.6 117.6,107.3 119.1,102.5 C120.6,97.7 123.2,92.5 126.4,88.0 C129.7,83.5 133.7,78.7 138.6,75.8 C143.5,72.9 149.5,70.4 155.6,70.4Z" fill="#9a4ea6" opacity="0.93" filter="url(#blur1)"/>
<ellipse cx="150" cy="102" rx="22" ry="16" transform="rotate(-40 150 102)" fill="#b070b8" opacity="0.35" filter="url(#blur6)"/>
<g></g>
<ellipse cx="11" cy="191" rx="24" ry="10" fill="#8c3c9e" opacity="0.9" filter="url(#blur2)"/>
<path d="M3.6,36.9 C4.4,34.3 7.2,29.9 10.9,28.4 C14.6,26.9 28.8,25.3 36.5,23.5 C44.2,21.7 74.0,12.9 80.2,12.6 C86.4,12.3 89.2,19.3 92.4,21.1 C95.6,22.9 105.1,28.9 109.4,28.4 C113.7,27.9 125.4,18.5 131.3,16.2 C137.2,13.9 158.0,8.2 162.9,7.7 C167.8,7.2 172.6,9.4 175.0,11.4 C177.4,13.4 181.8,24.7 184.8,26.0 C187.8,27.3 198.0,25.1 201.8,23.5 C205.6,21.9 216.5,12.2 218.8,11.4 C221.1,10.6 222.3,13.9 222.4,16.2 C222.5,18.5 221.5,28.1 220.0,32.0 C218.5,35.9 210.5,47.2 209.0,51.5 C207.5,55.8 207.4,66.9 206.6,71.0 C205.8,75.1 202.6,83.7 201.8,88.0 C201.0,92.3 200.0,105.5 199.3,109.8 C198.6,114.1 195.3,123.6 195.7,126.8 C196.1,130.0 202.3,136.2 203.0,139.0 C203.7,141.8 203.3,150.5 201.8,152.4 C200.3,154.3 193.1,155.9 189.6,156.0 C186.1,156.1 175.1,152.5 170.2,153.6 C165.3,154.7 150.8,162.7 145.9,165.7 C141.0,168.7 129.9,178.9 126.4,180.3 C122.9,181.7 116.5,180.3 114.3,177.9 C112.1,175.5 110.0,161.9 107.0,158.4 C104.0,154.9 91.3,149.0 87.5,146.3 C83.7,143.6 76.1,138.2 72.9,134.1 C69.7,130.0 61.8,115.5 58.3,109.8 C54.8,104.1 46.2,88.1 41.3,83.0 C36.4,77.9 18.8,67.1 14.6,63.6 C10.4,60.1 4.8,54.5 3.6,51.5 C2.4,48.5 2.8,39.5 3.6,36.9Z" fill="none" stroke="#dcdcdc" stroke-width="1.5" stroke-dasharray="10 9.5" stroke-linecap="round"/>
<text x="5.0" y="159.7" font-size="13.6" fill="#fff">GAPDH</text>
<text x="5.0" y="176.2" font-size="13.6" fill="#fff">mRNA</text>
</g>
<clipPath id="clipa2"><rect x="0" y="0" width="227" height="187"/></clipPath>
<g transform="translate(242,22)" clip-path="url(#clipa2)">
<rect x="0.00" y="0.00" width="227.00" height="187.00" fill="#1f1f1f"/>
<radialGradient id="ga2_0"><stop offset="0" stop-color="#555555" stop-opacity="0.85"/><stop offset="0.45" stop-color="#555555" stop-opacity="0.59"/><stop offset="1" stop-color="#555555" stop-opacity="0"/></radialGradient>
<ellipse cx="150" cy="112" rx="82.5" ry="75.0" fill="url(#ga2_0)"/>
<radialGradient id="ga2_1"><stop offset="0" stop-color="#f0f0f0" stop-opacity="0.95"/><stop offset="0.45" stop-color="#f0f0f0" stop-opacity="0.66"/><stop offset="1" stop-color="#f0f0f0" stop-opacity="0"/></radialGradient>
<ellipse cx="146" cy="137" rx="37.5" ry="16.5" fill="url(#ga2_1)"/>
<g><path d="M74.5 66.8h0M154.5 133.5h0M103.3 31.0h0" stroke="#fff" stroke-width="0.8" stroke-linecap="round" stroke-opacity="0.1" fill="none"/><path d="M196.6 33.8h0M56.5 43.1h0M192.1 43.6h0M116.4 35.2h0M172.9 72.3h0M109.1 149.9h0M76.6 74.4h0M131.8 42.6h0M84.6 121.4h0" stroke="#fff" stroke-width="0.8" stroke-linecap="round" stroke-opacity="0.2" fill="none"/><path d="M155.8 150.8h0M137.3 57.6h0" stroke="#fff" stroke-width="0.8" stroke-linecap="round" stroke-opacity="0.3" fill="none"/><path d="M217.5 26.2h0M151.5 34.6h0M152.8 98.8h0M144.0 63.7h0M98.6 50.3h0M80.0 22.1h0M86.2 119.7h0M116.7 40.7h0M70.5 25.9h0M104.2 117.9h0M130.0 112.6h0M100.2 151.2h0M115.4 30.0h0M108.1 32.9h0M131.1 42.7h0M97.7 137.0h0M78.0 104.8h0M102.6 72.0h0" stroke="#fff" stroke-width="1.6" stroke-linecap="round" stroke-opacity="0.1" fill="none"/><path d="M41.8 22.6h0M158.5 114.5h0M114.9 96.7h0M208.0 57.5h0M67.5 111.4h0M80.7 80.7h0M203.3 32.1h0M121.5 148.8h0M157.5 9.7h0M192.2 93.2h0M107.4 136.0h0M178.0 153.3h0M106.7 38.8h0M86.8 140.3h0M190.4 95.3h0M86.2 44.1h0M196.3 111.9h0M15.1 33.4h0M141.3 138.3h0M148.1 60.1h0M71.8 19.3h0M183.4 125.4h0M176.7 40.6h0M68.8 44.8h0M126.3 153.9h0M177.7 42.2h0M57.7 83.1h0M122.8 172.7h0M194.1 72.7h0M180.1 31.7h0" stroke="#fff" stroke-width="1.6" stroke-linecap="round" stroke-opacity="0.2" fill="none"/><path d="M201.9 43.3h0M160.7 9.1h0M70.5 35.6h0M151.1 29.5h0M94.2 66.2h0M122.9 164.2h0M77.1 71.2h0M122.1 29.6h0" stroke="#fff" stroke-width="1.6" stroke-linecap="round" stroke-opacity="0.3" fill="none"/><path d="M150.8 70.3h0M116.9 112.1h0" stroke="#fff" stroke-width="1.6" stroke-linecap="round" stroke-opacity="0.5" fill="none"/><path d="M142.9 142.2h0M131.5 73.8h0M170.1 120.9h0M136.6 141.3h0M151.9 69.7h0M191.1 96.9h0M187.5 98.0h0M115.9 134.1h0M126.8 83.1h0M147.7 132.5h0M171.9 63.8h0M163.6 136.3h0M120.3 126.6h0M110.7 105.4h0M186.0 114.8h0M120.8 128.0h0M128.8 80.0h0M136.5 141.9h0M186.1 100.7h0M119.5 93.1h0M160.9 137.2h0M134.1 75.5h0M177.3 113.9h0M126.4 82.1h0M153.2 137.0h0M154.6 133.1h0M116.8 116.2h0M174.7 69.3h0M155.6 68.7h0M179.6 120.9h0M155.5 65.1h0M163.4 128.6h0M124.0 135.9h0M115.6 125.2h0M184.1 106.6h0M176.4 123.9h0M107.5 121.1h0M133.8 65.2h0M170.4 70.8h0M170.2 120.3h0M167.7 73.7h0M146.6 139.2h0M146.9 138.5h0M163.5 142.4h0M145.1 133.6h0M151.6 136.9h0M169.3 128.6h0M134.7 145.9h0M142.1 146.6h0M149.7 140.5h0M145.3 139.3h0M94.1 133.7h0M190.5 149.9h0M140.6 141.2h0M158.0 132.3h0M141.2 140.3h0M138.6 137.8h0M136.8 128.1h0M153.5 140.9h0M110.2 101.2h0M164.8 122.4h0" stroke="#fff" stroke-width="1.6" stroke-linecap="round" stroke-opacity="0.6" fill="none"/><path d="M112.0 126.6h0M166.2 135.4h0M162.2 130.7h0M145.1 138.5h0M130.9 134.9h0M147.0 132.1h0M178.9 73.7h0M172.3 135.7h0M120.1 136.7h0M163.0 137.0h0M130.2 133.5h0M177.9 118.9h0M142.8 139.9h0M139.4 140.1h0M111.5 105.2h0M139.7 72.2h0M103.9 132.7h0M173.2 122.8h0M122.3 132.0h0M119.7 97.1h0M183.4 98.5h0M118.7 134.4h0M130.8 137.5h0M140.0 140.9h0M116.4 129.2h0M177.8 76.4h0M115.2 131.7h0M160.4 128.1h0M183.1 115.5h0M146.1 140.3h0M161.9 129.6h0M187.7 80.2h0M141.7 62.9h0M112.9 124.9h0M113.8 129.9h0M114.5 124.9h0M148.6 136.9h0M141.5 140.8h0M177.5 140.4h0M147.5 135.5h0M173.1 147.8h0M116.9 150.7h0M154.2 138.5h0M128.8 138.3h0M157.8 130.9h0M138.3 135.1h0M151.6 156.7h0M151.2 140.0h0M185.5 133.0h0M170.5 138.8h0M140.6 142.7h0M145.2 139.0h0M146.8 133.9h0M150.6 140.5h0M123.2 131.5h0M135.7 139.2h0M156.3 140.9h0M143.4 140.9h0M142.3 137.8h0M132.8 141.4h0M186.9 154.1h0M167.9 143.1h0M166.7 134.5h0M142.6 132.6h0M106.7 135.6h0M177.7 149.3h0M138.4 131.7h0M170.2 144.2h0M98.6 143.6h0M140.1 134.1h0M150.8 139.3h0M107.6 98.8h0M148.4 128.0h0" stroke="#fff" stroke-width="1.6" stroke-linecap="round" stroke-opacity="0.7" fill="none"/><path d="M132.9 136.3h0M120.0 137.4h0M112.6 124.6h0M179.3 117.0h0M192.3 101.2h0M182.2 97.7h0M108.7 116.9h0M184.6 99.6h0M185.5 84.1h0M161.7 123.7h0M115.9 125.8h0M128.9 140.1h0M184.0 91.1h0M166.4 67.5h0M112.2 121.8h0M181.7 64.5h0M126.5 87.0h0M105.5 126.4h0M112.6 110.4h0M139.6 138.1h0M173.2 127.3h0M139.3 133.9h0M116.8 94.7h0M160.4 127.9h0M157.4 128.2h0M123.3 84.6h0M130.1 80.2h0M162.2 123.3h0M144.6 61.8h0M157.3 139.0h0M138.0 139.6h0M111.0 105.5h0M176.2 124.0h0M130.9 140.4h0M157.0 137.0h0M143.4 136.2h0M168.4 151.9h0M129.4 142.1h0M144.7 142.7h0M151.9 139.1h0M139.6 131.2h0M160.5 134.7h0M144.9 138.2h0M166.0 138.4h0M161.3 129.9h0M151.2 141.7h0M121.6 142.2h0M118.4 146.2h0M109.3 151.7h0M122.3 150.4h0M126.3 131.9h0M143.2 142.1h0M138.2 154.3h0M169.4 132.3h0M164.4 130.4h0M127.1 131.2h0M148.2 144.2h0M126.6 143.6h0M163.4 140.1h0M184.3 85.2h0M134.3 74.5h0M182.1 104.6h0" stroke="#fff" stroke-width="1.6" stroke-linecap="round" stroke-opacity="0.8" fill="none"/><path d="M136.6 144.3h0M118.3 88.9h0M152.8 143.9h0M193.8 99.0h0M163.4 69.3h0M111.7 83.6h0M119.9 125.3h0M117.4 129.2h0M171.4 121.4h0M144.3 139.7h0M177.7 114.8h0M140.3 137.7h0M119.2 128.5h0M131.5 77.6h0M194.8 88.7h0M171.7 117.2h0M133.5 73.7h0M171.4 116.6h0M154.9 128.2h0M102.6 115.1h0M163.6 120.5h0M186.1 100.2h0M161.6 63.0h0M154.9 134.4h0M170.7 124.1h0M191.0 94.5h0M168.4 128.3h0M186.6 99.7h0M160.9 124.3h0M149.1 134.5h0M189.9 75.5h0M178.7 113.6h0M115.6 99.7h0M173.9 136.2h0M162.7 126.7h0M138.2 135.1h0M134.9 135.7h0M154.0 138.5h0M156.7 69.4h0M150.9 137.2h0M134.3 131.6h0M144.6 135.5h0M147.0 137.1h0M146.7 141.6h0M145.2 139.0h0M148.8 138.7h0M170.0 144.6h0M140.5 142.3h0M153.7 147.3h0M131.2 137.8h0M140.7 141.2h0M149.9 144.5h0M147.3 125.2h0M119.4 136.8h0M145.9 139.0h0M155.0 138.7h0M168.1 146.6h0M154.4 141.0h0M144.6 139.2h0M149.5 144.2h0M143.6 140.9h0M148.3 138.3h0M102.6 134.0h0M141.2 138.6h0M142.2 136.1h0M146.4 138.9h0M146.6 138.8h0M147.8 138.6h0M147.2 138.2h0M149.4 134.2h0M147.0 138.6h0M158.1 145.5h0M117.0 112.7h0M173.0 137.2h0M122.7 93.2h0M126.6 66.7h0" stroke="#fff" stroke-width="1.6" stroke-linecap="round" stroke-opacity="0.9" fill="none"/><path d="M181.3 121.6h0M158.5 141.5h0M190.5 113.2h0M128.3 142.4h0M147.8 138.3h0M117.3 85.6h0M132.4 136.6h0M119.1 95.2h0M121.0 130.6h0M115.8 130.1h0M182.1 115.5h0M148.5 137.8h0M114.0 129.2h0M146.4 71.5h0M172.0 121.8h0M138.1 133.2h0M130.3 134.2h0M146.9 138.9h0M139.6 133.3h0M127.6 132.1h0M108.0 131.3h0M163.7 139.4h0M163.1 137.9h0M152.9 133.6h0M143.8 141.1h0M158.3 143.5h0M157.0 146.4h0M145.9 138.2h0M163.2 128.4h0M182.2 93.0h0M157.0 121.5h0" stroke="#fff" stroke-width="1.6" stroke-linecap="round" stroke-opacity="1.0" fill="none"/><path d="M131.5 73.5h0M120.9 85.5h0M129.3 77.9h0M107.0 113.8h0M115.9 102.8h0M137.5 144.6h0M165.6 63.2h0M180.7 83.5h0M181.4 129.1h0M154.2 134.5h0M156.0 142.9h0M177.7 117.0h0M189.5 99.1h0M172.7 121.3h0M122.2 93.9h0M115.9 132.8h0M107.9 114.0h0M154.9 142.1h0M162.4 128.2h0M108.9 123.4h0M168.1 73.0h0M178.3 81.2h0M144.9 63.2h0M179.7 67.5h0M116.6 120.4h0M115.5 125.4h0M150.6 131.6h0M147.4 129.4h0M110.8 89.9h0M103.4 89.2h0M175.5 120.8h0M119.4 128.5h0M182.9 119.1h0M143.7 137.9h0M174.9 115.9h0M149.7 133.5h0M178.3 118.0h0M145.8 159.7h0M146.5 139.9h0M159.1 147.3h0M146.5 139.0h0M141.4 140.9h0M151.4 139.2h0M144.8 141.7h0M134.3 137.5h0M146.1 137.6h0M174.0 154.1h0M146.7 138.8h0M187.4 131.7h0M126.4 121.2h0M149.1 135.2h0M182.3 139.0h0M146.9 134.9h0M135.5 132.3h0M168.3 149.1h0M192.7 151.4h0M171.1 134.3h0M183.4 137.8h0M129.2 126.2h0M122.4 143.8h0M149.2 141.0h0M135.6 134.0h0M140.4 137.2h0M142.3 138.3h0M160.2 135.8h0M145.9 137.9h0M120.2 81.9h0" stroke="#fff" stroke-width="2.4" stroke-linecap="round" stroke-opacity="0.6" fill="none"/><path d="M153.0 131.2h0M190.1 93.9h0M118.2 124.5h0M187.7 97.6h0M172.8 120.4h0M178.7 109.0h0M163.3 124.1h0M143.5 139.1h0M113.5 111.1h0M130.2 141.0h0M120.7 131.9h0M142.3 132.5h0M114.7 105.3h0M131.6 136.7h0M162.6 130.7h0M166.6 137.0h0M112.9 119.2h0M116.8 129.4h0M162.7 63.1h0M147.4 138.2h0M154.4 70.5h0M111.4 104.7h0M162.9 127.4h0M178.0 67.5h0M156.5 69.7h0M167.8 128.5h0M114.7 88.6h0M176.2 72.8h0M123.6 137.3h0M110.4 103.1h0M175.8 119.6h0M158.4 131.8h0M180.0 109.5h0M115.2 104.6h0M159.0 134.3h0M178.2 81.9h0M176.4 130.0h0M181.8 118.2h0M122.8 135.5h0M168.0 138.5h0M149.8 140.3h0M123.8 142.7h0M155.5 132.2h0M103.4 139.7h0M149.3 136.7h0M147.9 148.0h0M161.1 145.0h0M143.9 138.3h0M161.3 141.1h0M144.5 134.3h0M143.9 140.1h0M143.6 140.6h0M147.1 141.4h0M157.7 155.4h0M134.2 139.7h0M132.4 134.5h0M146.7 138.9h0M143.8 139.3h0M126.1 140.5h0M165.0 139.9h0M144.7 134.9h0M152.8 142.9h0M147.2 138.1h0M126.1 135.5h0M143.3 146.0h0M119.5 144.8h0M160.5 142.2h0M157.1 132.8h0M120.2 136.3h0M152.8 136.0h0M145.9 141.8h0M150.4 138.3h0M92.1 143.4h0M164.7 141.6h0M127.7 141.5h0M148.7 136.5h0M171.4 138.9h0M142.2 141.6h0M171.4 141.3h0M144.5 132.3h0M123.0 141.6h0M148.2 125.5h0M141.5 137.8h0M141.2 144.1h0M143.4 139.1h0M167.6 133.6h0M132.2 145.4h0M155.5 139.3h0M128.1 124.0h0M145.0 134.3h0M170.0 134.2h0M145.9 133.6h0M156.8 133.7h0M155.0 136.7h0M144.1 139.3h0M150.8 150.1h0M136.3 129.4h0M156.5 137.3h0M129.7 133.0h0M147.5 140.8h0M96.0 105.5h0M164.0 127.9h0M117.1 99.7h0M185.3 116.9h0" stroke="#fff" stroke-width="2.4" stroke-linecap="round" stroke-opacity="0.7" fill="none"/><path d="M165.2 124.5h0M174.5 133.4h0M115.1 94.3h0M133.8 66.5h0M124.2 85.3h0M153.7 69.5h0M161.1 55.0h0M117.6 129.4h0M111.2 103.0h0M161.8 63.7h0M125.6 131.3h0M123.8 79.7h0M116.4 109.8h0M188.0 79.6h0M145.4 133.6h0M180.6 74.1h0M135.0 138.4h0M175.9 67.9h0M170.5 70.3h0M140.7 137.7h0M161.0 128.5h0M158.7 129.6h0M139.8 133.9h0M110.9 108.8h0M143.0 135.5h0M182.0 108.4h0M186.0 75.8h0M137.0 74.7h0M190.2 94.1h0M170.5 133.2h0M168.6 73.3h0M187.6 80.8h0M123.6 132.0h0M179.4 73.5h0M136.0 76.7h0M178.5 127.5h0M97.7 101.2h0M142.3 134.3h0M111.2 98.6h0M184.8 97.5h0M183.8 105.8h0M136.6 144.4h0M169.3 146.3h0M126.3 141.3h0M108.3 153.6h0M144.5 142.2h0M157.4 128.9h0M162.2 148.1h0M139.1 142.7h0M155.8 143.1h0M146.4 145.7h0M161.1 130.7h0M146.2 132.0h0M175.3 138.3h0M150.2 142.4h0M139.0 141.1h0M135.4 130.6h0M146.1 136.6h0M139.5 142.3h0M150.1 139.1h0M165.2 141.8h0M137.9 146.2h0M148.8 141.0h0M156.5 138.0h0M131.5 163.9h0M138.0 148.3h0M138.0 130.0h0M142.9 140.9h0M168.9 141.0h0M146.7 136.6h0M152.0 138.8h0M148.2 140.2h0M144.3 140.2h0M168.0 131.6h0M147.9 139.6h0M172.4 139.6h0M146.2 143.6h0M169.3 123.8h0M130.5 138.8h0M152.3 137.4h0M127.8 135.7h0M175.9 144.8h0M153.7 129.9h0M146.8 140.5h0M188.3 134.9h0M171.4 142.6h0M148.5 139.0h0M145.0 138.4h0M144.0 138.6h0M157.8 135.9h0M150.7 151.8h0M133.9 143.5h0M147.7 138.6h0" stroke="#fff" stroke-width="2.4" stroke-linecap="round" stroke-opacity="0.8" fill="none"/><path d="M116.4 131.5h0M135.7 141.9h0M182.5 85.0h0M153.7 139.6h0M115.7 128.9h0M109.9 126.0h0M123.8 73.0h0M183.2 77.8h0M121.1 130.6h0M146.6 148.2h0M141.0 136.0h0M155.4 67.4h0M112.1 109.2h0M111.7 124.8h0M122.8 135.1h0M152.9 144.4h0M185.5 110.3h0M141.7 68.1h0M115.2 120.2h0M183.4 105.6h0M180.0 121.9h0M178.8 67.2h0M135.0 137.2h0M132.4 139.6h0M155.0 63.3h0M188.9 113.1h0M123.4 145.8h0M142.7 140.3h0M157.7 138.2h0M183.5 112.8h0M129.0 71.4h0M132.5 138.5h0M149.1 131.6h0M160.7 133.8h0M164.5 68.2h0M143.6 61.7h0M126.7 61.6h0M128.7 81.0h0M139.8 135.4h0M134.2 137.9h0M135.5 135.7h0M129.5 149.8h0M150.8 147.5h0M154.1 136.4h0M169.8 148.9h0M108.9 136.6h0M133.6 149.9h0M124.3 139.5h0M175.5 149.7h0M144.0 137.7h0M143.7 142.5h0M130.3 151.3h0M162.4 133.8h0M145.9 147.1h0M147.0 140.4h0M142.8 142.6h0M148.3 142.0h0M147.5 139.2h0M148.2 141.5h0M135.3 135.9h0M146.3 141.5h0M169.0 139.8h0M143.3 133.9h0M151.7 138.8h0M146.3 138.5h0M122.5 133.3h0M148.6 138.7h0M148.8 144.8h0M120.7 147.0h0M151.0 137.3h0M148.8 141.0h0M152.7 138.7h0M121.3 133.3h0M146.5 138.8h0M140.8 138.0h0M146.2 135.7h0M158.3 149.1h0M133.1 136.8h0M147.0 139.0h0M152.3 145.7h0M147.7 130.7h0M168.6 125.5h0M150.2 140.2h0M138.1 136.9h0M131.3 142.6h0M183.6 135.7h0M144.7 144.9h0" stroke="#fff" stroke-width="2.4" stroke-linecap="round" stroke-opacity="0.9" fill="none"/><path d="M157.1 132.1h0M124.1 86.7h0M184.8 111.7h0M186.8 80.5h0M130.2 74.0h0M168.7 124.8h0M156.4 135.6h0M120.0 91.4h0M130.2 138.1h0M124.7 133.1h0M118.6 132.0h0M179.1 135.1h0M149.7 131.6h0M110.7 101.8h0M124.9 87.5h0M120.2 132.7h0M181.1 107.6h0M148.4 133.3h0M164.4 66.8h0M121.3 140.8h0M115.3 80.7h0M152.1 60.3h0M147.1 139.9h0M160.3 134.2h0M141.5 138.6h0M146.0 135.4h0M147.0 139.1h0M141.9 138.4h0M145.3 138.8h0M151.2 142.2h0M127.8 143.6h0M111.7 144.2h0M146.7 139.4h0M158.3 137.2h0M143.8 138.8h0M90.8 122.6h0M146.5 137.7h0M136.2 142.8h0M153.5 138.1h0M150.4 140.1h0M166.0 122.9h0M156.9 144.5h0M146.6 140.4h0M139.6 136.0h0M148.2 133.2h0M158.8 134.0h0M145.3 133.8h0M171.4 139.5h0M143.1 143.0h0M121.3 131.5h0M130.8 81.7h0" stroke="#fff" stroke-width="2.4" stroke-linecap="round" stroke-opacity="1.0" fill="none"/></g>
<path d="M155.6,70.4 C161.7,70.4 170.6,72.5 175.0,75.8 C179.4,79.1 180.8,85.5 181.8,90.4 C182.8,95.3 182.2,101.0 181.1,105.0 C180.0,109.0 177.6,112.3 175.0,114.7 C172.4,117.1 168.1,119.2 165.3,119.6 C162.5,120.0 160.4,116.7 158.0,117.1 C155.6,117.5 153.1,119.8 150.7,122.0 C148.3,124.2 146.4,128.5 143.4,130.5 C140.4,132.5 136.1,134.3 132.5,134.1 C128.9,133.9 124.1,132.1 121.6,129.3 C119.0,126.5 117.6,121.6 117.2,117.1 C116.8,112.6 117.6,107.3 119.1,102.5 C120.6,97.7 123.2,92.5 126.4,88.0 C129.7,83.5 133.7,78.7 138.6,75.8 C143.5,72.9 149.5,70.4 155.6,70.4Z" fill="#b87cc2" opacity="0.93" filter="url(#blur1)"/>
<ellipse cx="150" cy="102" rx="22" ry="16" transform="rotate(-40 150 102)" fill="#dcb8e0" opacity="0.5" filter="url(#blur6)"/>
<ellipse cx="150" cy="113" rx="7" ry="6" fill="#fff" opacity="0.95" filter="url(#blur2)"/>
<g><path d="M153.5 104.7h0M152.1 105.0h0M152.2 90.0h0M155.4 97.8h0M157.9 113.4h0" stroke="#fff" stroke-width="1.6" stroke-linecap="round" stroke-opacity="0.5" fill="none"/><path d="M131.4 131.2h0M134.0 133.6h0M122.6 125.5h0M144.2 74.3h0M124.8 126.2h0M141.4 121.6h0M141.9 102.1h0M144.9 81.1h0M151.5 105.3h0M147.7 103.2h0M141.2 88.1h0M135.9 85.3h0" stroke="#fff" stroke-width="1.6" stroke-linecap="round" stroke-opacity="0.6" fill="none"/><path d="M180.4 98.3h0M179.2 102.1h0M128.2 131.5h0M119.9 121.1h0M152.1 72.8h0M150.1 99.0h0M160.1 100.0h0M136.9 106.5h0M157.4 73.8h0M151.0 114.2h0M147.6 94.7h0M149.3 105.8h0M145.3 102.5h0M144.7 120.5h0" stroke="#fff" stroke-width="1.6" stroke-linecap="round" stroke-opacity="0.7" fill="none"/><path d="M178.2 106.0h0M133.2 133.4h0M180.6 103.1h0M130.9 133.0h0M134.6 132.5h0M154.0 106.6h0M132.2 106.0h0M135.5 95.4h0M154.8 92.4h0M156.3 92.6h0M151.5 107.2h0M140.3 91.3h0M151.2 102.7h0M141.1 101.1h0M150.1 105.6h0M145.4 102.9h0M169.1 108.4h0M143.0 102.4h0M142.1 112.3h0M150.6 103.8h0M158.1 107.0h0" stroke="#fff" stroke-width="1.6" stroke-linecap="round" stroke-opacity="0.8" fill="none"/><path d="M139.3 79.6h0M158.0 71.2h0M124.1 128.5h0M180.7 102.5h0M121.1 126.4h0M170.7 114.0h0M150.0 98.3h0M141.3 90.8h0M145.8 105.4h0M143.2 97.1h0M126.1 112.3h0M140.6 88.4h0M148.1 83.4h0M148.9 104.2h0M125.9 89.5h0M128.0 98.6h0M164.3 118.5h0M175.3 84.7h0M135.1 118.0h0M140.0 109.0h0M124.6 115.0h0M151.9 99.6h0" stroke="#fff" stroke-width="1.6" stroke-linecap="round" stroke-opacity="0.9" fill="none"/><path d="M165.0 112.3h0M149.0 102.2h0M159.3 104.1h0" stroke="#fff" stroke-width="1.6" stroke-linecap="round" stroke-opacity="1.0" fill="none"/><path d="M141.3 101.8h0" stroke="#fff" stroke-width="2.4" stroke-linecap="round" stroke-opacity="0.5" fill="none"/><path d="M180.0 89.5h0M135.1 80.5h0M180.6 99.5h0M177.7 108.5h0M124.7 130.4h0M177.0 107.8h0M129.6 130.8h0M149.9 117.4h0M131.5 119.7h0M146.9 104.8h0M143.2 114.5h0" stroke="#fff" stroke-width="2.4" stroke-linecap="round" stroke-opacity="0.6" fill="none"/><path d="M122.1 129.0h0M175.5 78.0h0M142.0 100.1h0" stroke="#fff" stroke-width="2.4" stroke-linecap="round" stroke-opacity="0.7" fill="none"/><path d="M121.9 124.4h0M174.5 112.6h0" stroke="#fff" stroke-width="2.4" stroke-linecap="round" stroke-opacity="0.8" fill="none"/><path d="M158.9 72.0h0M142.3 78.0h0M135.3 133.1h0M149.9 103.9h0M162.5 110.1h0" stroke="#fff" stroke-width="2.4" stroke-linecap="round" stroke-opacity="0.9" fill="none"/><path d="M176.2 81.5h0M150.0 106.1h0M153.4 107.9h0M135.2 116.4h0" stroke="#fff" stroke-width="2.4" stroke-linecap="round" stroke-opacity="1.0" fill="none"/></g>
<ellipse cx="11" cy="191" rx="24" ry="10" fill="#8c3c9e" opacity="0.9" filter="url(#blur2)"/>
<path d="M3.6,36.9 C4.4,34.3 7.2,29.9 10.9,28.4 C14.6,26.9 28.8,25.3 36.5,23.5 C44.2,21.7 74.0,12.9 80.2,12.6 C86.4,12.3 89.2,19.3 92.4,21.1 C95.6,22.9 105.1,28.9 109.4,28.4 C113.7,27.9 125.4,18.5 131.3,16.2 C137.2,13.9 158.0,8.2 162.9,7.7 C167.8,7.2 172.6,9.4 175.0,11.4 C177.4,13.4 181.8,24.7 184.8,26.0 C187.8,27.3 198.0,25.1 201.8,23.5 C205.6,21.9 216.5,12.2 218.8,11.4 C221.1,10.6 222.3,13.9 222.4,16.2 C222.5,18.5 221.5,28.1 220.0,32.0 C218.5,35.9 210.5,47.2 209.0,51.5 C207.5,55.8 207.4,66.9 206.6,71.0 C205.8,75.1 202.6,83.7 201.8,88.0 C201.0,92.3 200.0,105.5 199.3,109.8 C198.6,114.1 195.3,123.6 195.7,126.8 C196.1,130.0 202.3,136.2 203.0,139.0 C203.7,141.8 203.3,150.5 201.8,152.4 C200.3,154.3 193.1,155.9 189.6,156.0 C186.1,156.1 175.1,152.5 170.2,153.6 C165.3,154.7 150.8,162.7 145.9,165.7 C141.0,168.7 129.9,178.9 126.4,180.3 C122.9,181.7 116.5,180.3 114.3,177.9 C112.1,175.5 110.0,161.9 107.0,158.4 C104.0,154.9 91.3,149.0 87.5,146.3 C83.7,143.6 76.1,138.2 72.9,134.1 C69.7,130.0 61.8,115.5 58.3,109.8 C54.8,104.1 46.2,88.1 41.3,83.0 C36.4,77.9 18.8,67.1 14.6,63.6 C10.4,60.1 4.8,54.5 3.6,51.5 C2.4,48.5 2.8,39.5 3.6,36.9Z" fill="none" stroke="#dcdcdc" stroke-width="1.5" stroke-dasharray="10 9.5" stroke-linecap="round"/>
<text x="5.0" y="159.7" font-size="13.6" fill="#fff">Aggrecan</text>
<text x="5.0" y="176.2" font-size="13.6" fill="#fff">mRNA</text>
</g>
<clipPath id="clipa3"><rect x="0" y="0" width="225" height="187"/></clipPath>
<g transform="translate(479,22)" clip-path="url(#clipa3)">
<rect x="0.00" y="0.00" width="225.00" height="187.00" fill="#262626"/>
<radialGradient id="ga3_0"><stop offset="0" stop-color="#5a5a5a" stop-opacity="0.85"/><stop offset="0.45" stop-color="#5a5a5a" stop-opacity="0.59"/><stop offset="1" stop-color="#5a5a5a" stop-opacity="0"/></radialGradient>
<ellipse cx="150" cy="112" rx="82.5" ry="75.0" fill="url(#ga3_0)"/>
<radialGradient id="ga3_1"><stop offset="0" stop-color="#e0e0e0" stop-opacity="0.8"/><stop offset="0.45" stop-color="#e0e0e0" stop-opacity="0.56"/><stop offset="1" stop-color="#e0e0e0" stop-opacity="0"/></radialGradient>
<ellipse cx="152" cy="142" rx="30.0" ry="13.5" fill="url(#ga3_1)"/>
<g><path d="M183.1 25.8h0M35.6 40.9h0M57.3 45.5h0M201.9 67.2h0M156.3 63.0h0M160.7 12.8h0" stroke="#fff" stroke-width="0.8" stroke-linecap="round" stroke-opacity="0.1" fill="none"/><path d="M68.5 73.7h0M168.2 104.7h0M140.6 134.9h0M175.6 148.0h0M18.5 38.0h0M103.5 119.5h0M204.6 38.5h0M196.8 109.1h0M59.8 61.6h0M33.8 51.7h0" stroke="#fff" stroke-width="0.8" stroke-linecap="round" stroke-opacity="0.2" fill="none"/><path d="M67.8 57.8h0M108.3 70.9h0M60.8 109.1h0M132.5 58.3h0M45.1 65.6h0M183.8 104.5h0M89.5 146.3h0M176.5 109.4h0M107.9 151.1h0" stroke="#fff" stroke-width="0.8" stroke-linecap="round" stroke-opacity="0.3" fill="none"/><path d="M177.6 72.2h0M169.8 64.9h0" stroke="#fff" stroke-width="0.8" stroke-linecap="round" stroke-opacity="0.4" fill="none"/><path d="M153.3 21.9h0M26.9 59.2h0M99.9 74.7h0M78.9 22.3h0M210.2 31.6h0M174.1 71.2h0M201.1 71.4h0M153.1 159.5h0" stroke="#fff" stroke-width="1.6" stroke-linecap="round" stroke-opacity="0.1" fill="none"/><path d="M136.7 137.6h0M27.7 60.2h0M122.0 83.0h0M135.4 136.4h0M73.1 19.7h0M139.2 61.1h0M76.3 92.7h0M17.7 63.1h0M140.3 35.3h0M96.8 151.9h0M86.3 89.1h0M170.6 18.1h0M111.1 94.7h0M122.3 52.9h0M53.1 47.5h0M181.0 36.4h0M139.8 154.6h0M78.9 54.1h0M161.2 11.7h0M97.1 62.4h0M160.9 24.6h0M83.8 56.4h0M120.4 109.2h0M142.3 35.8h0M155.8 93.2h0M200.8 67.0h0M124.2 155.6h0M111.1 128.6h0M96.4 73.4h0M199.4 41.6h0M196.4 63.6h0M27.0 57.6h0M18.7 41.3h0M182.0 75.3h0M174.1 140.1h0M74.2 84.9h0M104.7 145.4h0M151.9 13.3h0M206.2 52.0h0M91.1 53.0h0M87.8 77.4h0" stroke="#fff" stroke-width="1.6" stroke-linecap="round" stroke-opacity="0.2" fill="none"/><path d="M128.3 118.2h0M204.5 34.9h0M45.7 36.1h0M106.5 67.0h0M158.0 30.5h0M140.0 53.5h0M168.9 109.7h0M93.3 24.3h0M86.2 52.7h0M9.3 44.4h0M86.1 109.8h0M203.1 81.0h0M123.8 138.1h0M92.6 31.0h0M149.6 15.5h0M123.7 74.8h0M137.5 133.5h0M139.6 163.8h0M10.5 39.1h0M146.4 76.8h0M125.7 153.7h0M192.7 153.4h0M15.5 38.5h0M199.9 50.9h0M165.2 68.9h0M158.1 71.7h0M72.6 58.0h0M141.2 142.1h0M97.1 62.8h0M204.8 26.2h0M50.0 49.1h0M61.9 34.0h0M83.2 117.6h0M69.9 56.4h0M181.1 32.6h0M185.4 143.4h0M167.0 56.6h0" stroke="#fff" stroke-width="1.6" stroke-linecap="round" stroke-opacity="0.3" fill="none"/><path d="M118.9 83.3h0M64.0 39.9h0M114.1 48.7h0M97.6 151.4h0M173.7 107.3h0M123.1 52.4h0M180.6 68.3h0M175.0 135.2h0M158.1 153.0h0M175.6 24.7h0M139.1 25.7h0M76.3 49.2h0M133.7 162.1h0M92.8 130.6h0M104.7 84.1h0M205.0 30.0h0M98.0 27.9h0" stroke="#fff" stroke-width="1.6" stroke-linecap="round" stroke-opacity="0.4" fill="none"/><path d="M145.9 133.2h0M107.8 95.8h0M177.8 67.5h0M117.4 105.5h0M114.7 115.1h0M127.3 142.7h0M164.9 121.4h0M108.2 116.8h0M138.2 63.5h0M116.9 105.3h0M118.1 123.9h0M154.9 138.9h0M155.1 140.5h0M108.8 109.2h0M183.5 107.6h0M139.4 142.0h0M192.1 98.5h0M115.1 117.6h0M183.7 64.5h0M176.9 112.3h0" stroke="#fff" stroke-width="1.6" stroke-linecap="round" stroke-opacity="0.5" fill="none"/><path d="M158.2 64.1h0M119.8 125.4h0M186.7 106.9h0M118.7 103.8h0M177.0 112.9h0M145.4 145.2h0M123.3 137.8h0M163.8 57.8h0M193.1 106.8h0M102.6 110.6h0M113.4 95.9h0M124.7 137.9h0M145.8 133.3h0M178.9 78.5h0M189.1 108.3h0M117.8 100.5h0M131.8 67.9h0M173.4 72.1h0M161.2 71.0h0M151.4 140.0h0M151.4 132.5h0M145.8 134.2h0M171.9 117.5h0M151.6 137.5h0M170.9 123.5h0M171.7 73.1h0M171.6 122.3h0M196.3 105.4h0M194.3 117.1h0M162.3 127.6h0M145.3 147.7h0M149.5 141.5h0M142.3 148.7h0M143.2 157.5h0M150.9 128.8h0M160.7 143.3h0M143.5 139.7h0M167.7 135.2h0M139.5 142.8h0" stroke="#fff" stroke-width="1.6" stroke-linecap="round" stroke-opacity="0.6" fill="none"/><path d="M110.3 106.5h0M170.4 129.5h0M120.6 92.3h0M151.6 130.1h0M129.8 70.9h0M121.4 138.7h0M183.5 97.8h0M116.8 93.4h0M165.8 122.2h0M125.4 136.0h0M160.0 127.8h0M162.6 127.0h0M163.8 136.4h0M129.0 137.4h0M169.5 129.4h0M140.3 143.2h0M123.3 136.0h0M179.7 111.8h0M175.0 70.1h0M114.8 134.2h0M178.8 129.4h0M121.7 94.9h0M164.9 138.5h0M173.8 70.1h0M168.5 67.9h0M134.9 137.4h0M191.8 90.5h0M128.4 141.4h0M175.3 116.3h0M141.6 136.9h0M143.4 131.9h0M110.6 104.7h0M179.4 70.6h0M138.0 143.5h0M190.9 119.2h0M112.6 118.6h0M142.9 74.2h0M138.8 134.7h0M141.2 137.1h0M180.5 136.5h0M113.0 124.2h0M156.6 133.0h0M143.7 139.5h0M147.7 139.8h0M161.3 134.2h0M158.2 148.5h0M151.2 144.9h0M160.9 146.3h0M155.1 137.1h0M150.6 142.2h0M130.8 149.9h0M147.0 150.9h0M150.8 140.8h0M155.4 142.5h0M146.4 142.7h0M151.9 149.1h0M149.3 141.4h0" stroke="#fff" stroke-width="1.6" stroke-linecap="round" stroke-opacity="0.7" fill="none"/><path d="M126.4 132.0h0M186.7 107.1h0M113.0 108.6h0M117.0 120.8h0M115.5 109.7h0M109.2 130.0h0M138.6 136.3h0M185.7 93.0h0M171.7 123.6h0M155.0 137.7h0M109.5 101.5h0M189.6 100.4h0M157.9 127.5h0M115.6 121.4h0M152.2 134.5h0M150.1 68.6h0M108.5 119.6h0M131.7 78.4h0M115.5 119.8h0M124.3 139.9h0M176.9 115.5h0M173.8 68.1h0M112.8 114.6h0M126.4 77.8h0M115.2 106.4h0M130.7 133.8h0M114.0 101.9h0M150.0 157.7h0M136.7 143.8h0M156.3 133.7h0M142.2 143.5h0M158.5 144.1h0M145.5 142.5h0M122.1 148.6h0M149.1 143.2h0M118.8 146.4h0M165.8 151.4h0M149.5 142.0h0M159.0 148.0h0M138.3 138.7h0M168.0 137.2h0M169.4 151.6h0M144.2 138.4h0M144.8 142.3h0M160.6 140.6h0M153.0 142.8h0M151.0 146.2h0M166.0 143.4h0M164.4 141.8h0" stroke="#fff" stroke-width="1.6" stroke-linecap="round" stroke-opacity="0.8" fill="none"/><path d="M187.0 112.7h0M180.4 109.1h0M180.9 105.7h0M169.3 125.5h0M108.6 104.9h0M145.2 141.2h0M117.0 123.6h0M163.1 128.5h0M180.8 115.8h0M193.5 82.1h0M116.0 108.2h0M129.4 133.6h0M147.7 134.9h0M170.8 119.2h0M189.8 90.2h0M121.9 95.3h0M180.9 122.9h0M116.7 126.9h0M190.1 115.0h0M169.0 73.6h0M165.6 134.9h0M121.1 82.6h0M153.8 136.6h0M114.3 114.4h0M131.0 135.5h0M189.8 112.6h0M179.0 108.5h0M162.5 67.3h0M181.3 121.5h0M159.5 142.7h0M107.0 120.1h0M181.9 91.4h0M108.5 124.1h0M152.4 140.2h0M150.1 132.0h0M151.9 140.2h0M143.6 146.5h0M130.7 140.3h0M175.9 138.0h0M125.1 142.2h0M146.0 141.8h0M139.3 138.6h0M160.4 135.9h0M150.8 141.5h0M147.2 149.2h0M128.6 141.4h0M151.5 141.2h0M141.6 128.0h0M151.7 142.3h0M146.5 140.4h0M158.6 140.3h0M156.3 144.4h0M138.3 142.7h0M150.0 145.2h0M160.6 138.0h0M160.4 138.4h0M150.6 144.1h0" stroke="#fff" stroke-width="1.6" stroke-linecap="round" stroke-opacity="0.9" fill="none"/><path d="M161.7 137.2h0M135.6 135.0h0M114.5 96.8h0M115.1 130.1h0M146.4 132.2h0M178.5 117.6h0M186.0 78.5h0M167.8 123.2h0M170.6 122.6h0M157.8 59.4h0M163.0 127.6h0M183.6 117.2h0M146.8 64.0h0M181.7 83.1h0M116.7 122.1h0M111.3 119.8h0M188.8 87.1h0M138.5 138.5h0M159.8 65.5h0M111.8 102.5h0M158.4 68.6h0M90.0 117.3h0M115.9 113.2h0M164.6 134.0h0M153.6 67.0h0M162.1 132.8h0M134.8 139.5h0M157.3 141.4h0M134.4 143.2h0M147.6 138.8h0M150.0 142.0h0M128.8 133.8h0M163.4 128.2h0M152.7 139.9h0M146.6 141.5h0M158.1 158.4h0" stroke="#fff" stroke-width="1.6" stroke-linecap="round" stroke-opacity="1.0" fill="none"/><path d="M110.9 115.3h0M148.2 135.9h0M151.8 135.3h0M151.1 130.7h0M177.2 129.5h0M117.2 122.1h0M116.6 95.0h0M184.1 93.7h0M183.0 82.8h0M163.4 136.2h0M188.3 64.2h0" stroke="#fff" stroke-width="2.4" stroke-linecap="round" stroke-opacity="0.5" fill="none"/><path d="M171.8 128.1h0M148.7 67.9h0M162.2 130.0h0M124.7 77.7h0M143.2 131.0h0M186.3 115.5h0M152.1 67.7h0M185.8 80.1h0M116.5 109.5h0M121.0 89.7h0M178.3 112.5h0M141.3 138.1h0M142.3 70.3h0M142.3 131.1h0M113.5 111.6h0M151.2 136.4h0M150.0 129.9h0M178.8 70.9h0M116.5 103.1h0M107.1 133.8h0M186.5 86.7h0M183.6 97.4h0M147.0 151.1h0M148.2 140.7h0M150.0 141.0h0M149.0 139.5h0M151.1 145.1h0M151.0 143.5h0M133.3 154.8h0" stroke="#fff" stroke-width="2.4" stroke-linecap="round" stroke-opacity="0.6" fill="none"/><path d="M110.3 103.5h0M176.4 123.6h0M175.7 75.0h0M142.6 135.3h0M181.8 78.5h0M138.6 142.7h0M152.5 140.9h0M165.5 126.2h0M120.9 96.5h0M146.6 137.2h0M136.1 135.8h0M153.6 62.9h0M118.3 123.5h0M140.6 135.3h0M146.5 147.9h0M118.2 100.4h0M116.2 139.1h0M149.8 134.8h0M152.7 129.8h0M114.2 124.3h0M185.1 89.2h0M179.9 110.3h0M178.4 79.2h0M170.0 125.4h0M112.4 126.9h0M142.5 136.7h0M146.9 142.1h0M150.5 128.4h0M140.9 166.9h0M142.5 135.6h0M164.8 149.2h0M150.4 147.6h0M131.8 145.5h0M147.8 147.9h0M155.6 144.0h0M128.7 142.9h0M137.4 144.6h0M154.9 149.9h0M176.9 138.2h0M135.1 132.7h0M181.5 135.3h0M163.7 144.2h0M152.6 139.9h0" stroke="#fff" stroke-width="2.4" stroke-linecap="round" stroke-opacity="0.7" fill="none"/><path d="M139.2 72.9h0M196.5 94.5h0M143.3 136.2h0M183.6 77.4h0M127.2 81.6h0M176.3 121.5h0M129.3 136.7h0M117.9 134.2h0M116.3 98.3h0M136.4 74.5h0M136.8 72.0h0M102.6 102.6h0M117.0 130.8h0M112.8 113.6h0M163.7 67.8h0M153.5 140.2h0M132.7 137.4h0M174.5 121.4h0M107.6 106.1h0M121.2 134.3h0M171.0 123.5h0M140.8 136.6h0M174.8 133.2h0M116.8 98.0h0M161.5 68.2h0M118.3 94.6h0M171.6 122.7h0M130.6 139.5h0M126.7 135.1h0M118.9 134.1h0M190.1 80.7h0M153.9 141.3h0M149.5 141.9h0M151.8 143.1h0M141.1 140.4h0M156.7 144.5h0M149.5 142.4h0M155.2 136.7h0M130.5 137.3h0" stroke="#fff" stroke-width="2.4" stroke-linecap="round" stroke-opacity="0.8" fill="none"/><path d="M110.4 122.1h0M175.5 114.0h0M165.6 69.2h0M111.8 126.5h0M144.9 141.9h0M146.4 133.3h0M113.3 98.3h0M172.3 134.3h0M182.0 83.4h0M177.9 119.9h0M130.4 148.5h0M166.6 135.4h0M121.9 137.0h0M169.1 127.3h0M122.9 132.5h0M175.7 70.1h0M142.1 135.8h0M119.4 93.0h0M190.8 79.0h0M148.5 71.0h0M179.1 71.2h0M113.9 107.8h0M184.7 95.8h0M148.5 143.3h0M179.7 78.2h0M146.2 138.8h0M137.8 147.0h0M150.8 138.8h0M153.7 142.1h0M164.4 144.8h0M140.7 150.2h0M156.2 143.6h0M141.6 144.4h0M149.4 144.3h0M151.7 141.7h0M143.9 128.5h0M156.7 137.2h0M143.6 142.1h0" stroke="#fff" stroke-width="2.4" stroke-linecap="round" stroke-opacity="0.9" fill="none"/><path d="M127.0 75.5h0M131.2 143.9h0M173.3 120.8h0M177.3 113.9h0M123.7 137.4h0M186.3 86.5h0M114.9 107.5h0M114.1 110.2h0M142.2 156.7h0M187.2 70.4h0M142.2 141.3h0M127.4 140.3h0M152.2 142.9h0M124.2 139.2h0M140.8 144.2h0M161.2 144.0h0" stroke="#fff" stroke-width="2.4" stroke-linecap="round" stroke-opacity="1.0" fill="none"/></g>
<path d="M155.6,70.4 C161.7,70.4 170.6,72.5 175.0,75.8 C179.4,79.1 180.8,85.5 181.8,90.4 C182.8,95.3 182.2,101.0 181.1,105.0 C180.0,109.0 177.6,112.3 175.0,114.7 C172.4,117.1 168.1,119.2 165.3,119.6 C162.5,120.0 160.4,116.7 158.0,117.1 C155.6,117.5 153.1,119.8 150.7,122.0 C148.3,124.2 146.4,128.5 143.4,130.5 C140.4,132.5 136.1,134.3 132.5,134.1 C128.9,133.9 124.1,132.1 121.6,129.3 C119.0,126.5 117.6,121.6 117.2,117.1 C116.8,112.6 117.6,107.3 119.1,102.5 C120.6,97.7 123.2,92.5 126.4,88.0 C129.7,83.5 133.7,78.7 138.6,75.8 C143.5,72.9 149.5,70.4 155.6,70.4Z" fill="#b47cc0" opacity="0.88" filter="url(#blur1)"/>
<ellipse cx="150" cy="102" rx="22" ry="16" transform="rotate(-40 150 102)" fill="#cca0d0" opacity="0.5" filter="url(#blur6)"/>
<g><path d="M122.3 125.7h0M164.6 73.0h0M178.6 108.6h0M120.2 120.9h0" stroke="#fff" stroke-width="1.6" stroke-linecap="round" stroke-opacity="0.5" fill="none"/><path d="M120.2 124.5h0M178.2 105.8h0" stroke="#fff" stroke-width="1.6" stroke-linecap="round" stroke-opacity="0.6" fill="none"/><path d="M117.4 116.5h0M122.1 125.0h0M150.2 72.5h0M142.8 75.2h0M118.1 119.4h0M129.4 131.5h0M136.1 80.7h0" stroke="#fff" stroke-width="1.6" stroke-linecap="round" stroke-opacity="0.7" fill="none"/><path d="M173.7 112.2h0M119.3 116.4h0M119.5 121.2h0M132.1 131.1h0" stroke="#fff" stroke-width="1.6" stroke-linecap="round" stroke-opacity="0.8" fill="none"/><path d="M125.1 129.3h0" stroke="#fff" stroke-width="1.6" stroke-linecap="round" stroke-opacity="0.9" fill="none"/><path d="M136.0 81.9h0M178.8 103.6h0M172.5 77.2h0" stroke="#fff" stroke-width="2.4" stroke-linecap="round" stroke-opacity="0.5" fill="none"/><path d="M178.4 106.8h0M179.7 102.2h0" stroke="#fff" stroke-width="2.4" stroke-linecap="round" stroke-opacity="0.6" fill="none"/><path d="M176.2 105.5h0" stroke="#fff" stroke-width="2.4" stroke-linecap="round" stroke-opacity="0.8" fill="none"/><path d="M122.0 128.3h0M178.9 84.4h0" stroke="#fff" stroke-width="2.4" stroke-linecap="round" stroke-opacity="0.9" fill="none"/></g>
<ellipse cx="11" cy="191" rx="24" ry="10" fill="#8c3c9e" opacity="0.9" filter="url(#blur2)"/>
<path d="M3.6,36.9 C4.4,34.3 7.2,29.9 10.9,28.4 C14.6,26.9 28.8,25.3 36.5,23.5 C44.2,21.7 74.0,12.9 80.2,12.6 C86.4,12.3 89.2,19.3 92.4,21.1 C95.6,22.9 105.1,28.9 109.4,28.4 C113.7,27.9 125.4,18.5 131.3,16.2 C137.2,13.9 158.0,8.2 162.9,7.7 C167.8,7.2 172.6,9.4 175.0,11.4 C177.4,13.4 181.8,24.7 184.8,26.0 C187.8,27.3 198.0,25.1 201.8,23.5 C205.6,21.9 216.5,12.2 218.8,11.4 C221.1,10.6 222.3,13.9 222.4,16.2 C222.5,18.5 221.5,28.1 220.0,32.0 C218.5,35.9 210.5,47.2 209.0,51.5 C207.5,55.8 207.4,66.9 206.6,71.0 C205.8,75.1 202.6,83.7 201.8,88.0 C201.0,92.3 200.0,105.5 199.3,109.8 C198.6,114.1 195.3,123.6 195.7,126.8 C196.1,130.0 202.3,136.2 203.0,139.0 C203.7,141.8 203.3,150.5 201.8,152.4 C200.3,154.3 193.1,155.9 189.6,156.0 C186.1,156.1 175.1,152.5 170.2,153.6 C165.3,154.7 150.8,162.7 145.9,165.7 C141.0,168.7 129.9,178.9 126.4,180.3 C122.9,181.7 116.5,180.3 114.3,177.9 C112.1,175.5 110.0,161.9 107.0,158.4 C104.0,154.9 91.3,149.0 87.5,146.3 C83.7,143.6 76.1,138.2 72.9,134.1 C69.7,130.0 61.8,115.5 58.3,109.8 C54.8,104.1 46.2,88.1 41.3,83.0 C36.4,77.9 18.8,67.1 14.6,63.6 C10.4,60.1 4.8,54.5 3.6,51.5 C2.4,48.5 2.8,39.5 3.6,36.9Z" fill="none" stroke="#dcdcdc" stroke-width="1.5" stroke-dasharray="10 9.5" stroke-linecap="round"/>
<text x="5.0" y="159.7" font-size="13.6" fill="#fff">Osteopontin</text>
<text x="5.0" y="176.2" font-size="13.6" fill="#fff">mRNA</text>
</g>
<clipPath id="clipa4"><rect x="0" y="0" width="226" height="187"/></clipPath>
<g transform="translate(718,22)" clip-path="url(#clipa4)">
<rect x="0.00" y="0.00" width="226.00" height="187.00" fill="#161616"/>
<radialGradient id="ga4_0"><stop offset="0" stop-color="#8a8a8a" stop-opacity="0.9"/><stop offset="0.45" stop-color="#8a8a8a" stop-opacity="0.63"/><stop offset="1" stop-color="#8a8a8a" stop-opacity="0"/></radialGradient>
<ellipse cx="152" cy="108" rx="75.0" ry="67.5" fill="url(#ga4_0)"/>
<radialGradient id="ga4_1"><stop offset="0" stop-color="#2a2a2a" stop-opacity="0.8"/><stop offset="0.45" stop-color="#2a2a2a" stop-opacity="0.56"/><stop offset="1" stop-color="#2a2a2a" stop-opacity="0"/></radialGradient>
<ellipse cx="120" cy="80" rx="120.0" ry="90.0" fill="url(#ga4_1)"/>
<g><path d="M139.5 20.9h0M42.6 48.3h0M152.3 152.7h0M70.3 100.2h0M113.3 119.4h0M179.8 21.9h0M108.6 120.0h0M96.5 78.7h0M73.6 51.4h0M88.2 119.9h0M70.7 63.1h0M167.5 139.3h0M176.4 124.7h0M187.2 77.9h0M124.5 163.0h0M110.8 164.5h0M137.1 131.6h0M159.2 54.6h0M193.2 31.3h0M66.0 29.9h0M137.1 159.9h0M141.6 27.3h0" stroke="#fff" stroke-width="0.8" stroke-linecap="round" stroke-opacity="0.1" fill="none"/><path d="M92.3 101.3h0M72.0 122.1h0M127.1 160.4h0M77.0 124.8h0M180.2 89.2h0M120.0 66.9h0M70.1 96.2h0M139.2 27.1h0M184.3 76.6h0M159.8 113.6h0M195.9 58.9h0M133.7 61.2h0M159.9 93.9h0M197.0 87.7h0M175.1 51.0h0M96.6 81.3h0" stroke="#fff" stroke-width="0.8" stroke-linecap="round" stroke-opacity="0.2" fill="none"/><path d="M35.5 41.7h0M140.8 22.9h0M188.8 115.9h0M110.2 53.1h0M123.6 176.3h0M61.4 77.1h0M155.2 84.0h0M153.4 128.9h0M56.1 51.4h0M149.2 32.2h0M198.4 92.8h0M181.3 52.1h0M50.9 80.3h0M86.6 30.3h0M142.6 108.1h0M118.7 171.8h0M157.3 74.8h0M110.8 120.9h0M40.2 80.9h0M19.4 56.0h0M70.8 96.8h0M190.6 128.7h0M150.5 123.1h0M95.5 122.0h0M77.8 121.2h0M64.3 46.4h0M178.6 44.3h0M95.4 81.4h0M162.1 125.6h0M46.8 23.4h0M24.9 63.4h0M75.0 128.5h0M14.0 46.8h0M145.1 13.7h0M53.9 51.1h0M144.9 105.7h0M78.4 123.1h0M109.6 96.9h0M103.0 129.7h0M111.6 85.8h0M38.2 60.4h0M138.9 53.0h0M212.9 32.9h0M153.4 66.3h0M55.8 84.1h0M50.6 50.9h0M20.1 56.4h0M114.0 171.6h0M204.9 33.1h0M75.2 111.5h0M140.5 83.9h0M170.2 100.6h0M210.1 34.7h0" stroke="#fff" stroke-width="1.6" stroke-linecap="round" stroke-opacity="0.1" fill="none"/><path d="M85.5 75.7h0M216.7 20.1h0M161.3 137.8h0M187.7 117.9h0M52.7 85.2h0M146.2 101.6h0M141.6 36.0h0M115.8 161.7h0M174.2 52.1h0M56.5 43.3h0M72.1 60.9h0M181.4 71.5h0M201.2 88.3h0M68.2 32.3h0M73.3 132.9h0M133.7 54.7h0M126.1 155.7h0M75.0 42.8h0M144.3 21.1h0M133.5 125.8h0M62.2 43.4h0M73.8 118.5h0M172.3 133.4h0M65.2 112.0h0M110.7 44.7h0M175.9 45.0h0M197.7 90.7h0M124.2 74.8h0M90.6 118.7h0M145.4 86.0h0M153.8 35.8h0M130.4 44.6h0M46.6 69.6h0M88.4 139.8h0M151.4 42.8h0M13.1 53.9h0M182.1 138.1h0M166.3 81.4h0M197.9 84.5h0M169.9 130.5h0M140.7 160.2h0M190.1 105.4h0M155.6 14.8h0M168.5 136.6h0M126.5 151.1h0M120.9 97.4h0M121.0 26.2h0M149.8 75.2h0M15.6 38.1h0M153.3 27.8h0M169.8 134.5h0M17.9 38.0h0M200.9 50.6h0M167.3 80.5h0M24.8 69.7h0M194.6 73.8h0M219.6 16.0h0M137.9 67.0h0M151.4 94.2h0M111.8 98.9h0M141.1 140.5h0M69.0 67.5h0M28.6 67.1h0M124.2 49.0h0M131.3 50.9h0M9.4 51.3h0M142.0 56.3h0M29.1 42.2h0M140.4 68.0h0" stroke="#fff" stroke-width="1.6" stroke-linecap="round" stroke-opacity="0.2" fill="none"/><path d="M152.1 135.7h0M113.5 122.1h0M148.2 67.5h0M120.6 127.9h0M135.6 140.1h0M132.4 136.0h0M134.0 140.4h0" stroke="#fff" stroke-width="1.6" stroke-linecap="round" stroke-opacity="0.5" fill="none"/><path d="M197.3 94.0h0M113.7 123.4h0M180.3 108.1h0M168.4 120.3h0M171.3 122.1h0M133.4 135.1h0M186.9 83.2h0M120.5 97.5h0M159.0 130.6h0M185.2 96.8h0M163.0 66.6h0M167.6 125.1h0M115.1 92.5h0M182.2 101.7h0M121.6 95.0h0M196.7 120.9h0" stroke="#fff" stroke-width="1.6" stroke-linecap="round" stroke-opacity="0.6" fill="none"/><path d="M182.8 101.1h0M132.0 134.1h0M116.1 95.8h0M187.7 96.0h0M146.5 69.7h0M164.3 123.3h0M112.2 88.7h0M141.1 136.0h0M135.6 138.1h0M169.4 120.8h0" stroke="#fff" stroke-width="1.6" stroke-linecap="round" stroke-opacity="0.7" fill="none"/><path d="M155.9 142.1h0M171.3 117.3h0M127.7 145.6h0M115.8 122.6h0M179.4 112.5h0M124.2 132.7h0M161.6 132.2h0M187.5 98.1h0M130.7 72.2h0M118.1 105.0h0M144.1 130.8h0" stroke="#fff" stroke-width="1.6" stroke-linecap="round" stroke-opacity="0.8" fill="none"/><path d="M122.9 138.3h0M184.6 73.6h0M147.4 135.8h0M177.4 71.7h0M146.0 142.6h0M132.5 144.7h0M119.6 87.5h0M156.9 64.1h0M121.9 88.2h0M184.3 110.5h0M120.2 135.7h0" stroke="#fff" stroke-width="1.6" stroke-linecap="round" stroke-opacity="0.9" fill="none"/><path d="M114.9 109.1h0M174.4 117.9h0M183.7 89.1h0M126.2 137.5h0M179.4 77.2h0" stroke="#fff" stroke-width="1.6" stroke-linecap="round" stroke-opacity="1.0" fill="none"/><path d="M136.1 135.5h0" stroke="#fff" stroke-width="2.4" stroke-linecap="round" stroke-opacity="0.5" fill="none"/><path d="M174.4 122.2h0M172.1 118.5h0M117.7 133.2h0M115.5 85.4h0M122.6 83.6h0" stroke="#fff" stroke-width="2.4" stroke-linecap="round" stroke-opacity="0.6" fill="none"/><path d="M125.8 133.8h0" stroke="#fff" stroke-width="2.4" stroke-linecap="round" stroke-opacity="0.7" fill="none"/><path d="M127.5 81.1h0M114.8 124.9h0M122.0 142.7h0" stroke="#fff" stroke-width="2.4" stroke-linecap="round" stroke-opacity="0.9" fill="none"/><path d="M180.5 106.4h0M135.2 75.4h0M110.2 127.6h0" stroke="#fff" stroke-width="2.4" stroke-linecap="round" stroke-opacity="1.0" fill="none"/></g>
<path d="M155.6,70.4 C161.7,70.4 170.6,72.5 175.0,75.8 C179.4,79.1 180.8,85.5 181.8,90.4 C182.8,95.3 182.2,101.0 181.1,105.0 C180.0,109.0 177.6,112.3 175.0,114.7 C172.4,117.1 168.1,119.2 165.3,119.6 C162.5,120.0 160.4,116.7 158.0,117.1 C155.6,117.5 153.1,119.8 150.7,122.0 C148.3,124.2 146.4,128.5 143.4,130.5 C140.4,132.5 136.1,134.3 132.5,134.1 C128.9,133.9 124.1,132.1 121.6,129.3 C119.0,126.5 117.6,121.6 117.2,117.1 C116.8,112.6 117.6,107.3 119.1,102.5 C120.6,97.7 123.2,92.5 126.4,88.0 C129.7,83.5 133.7,78.7 138.6,75.8 C143.5,72.9 149.5,70.4 155.6,70.4Z" fill="#a860b8" opacity="0.85" filter="url(#blur1)"/>
<ellipse cx="150" cy="102" rx="22" ry="16" transform="rotate(-40 150 102)" fill="#c898cc" opacity="0.5" filter="url(#blur6)"/>
<g><path d="M173.1 103.1h0M163.0 96.2h0M148.2 98.5h0M145.5 107.0h0" stroke="#fff" stroke-width="1.6" stroke-linecap="round" stroke-opacity="0.5" fill="none"/><path d="M180.2 98.5h0M175.4 111.9h0M124.3 128.6h0M147.5 103.8h0M145.4 105.5h0M122.3 97.1h0M147.1 101.5h0M151.0 113.7h0M151.1 108.5h0M134.4 132.4h0M162.6 111.9h0" stroke="#fff" stroke-width="1.6" stroke-linecap="round" stroke-opacity="0.6" fill="none"/><path d="M136.8 116.0h0" stroke="#fff" stroke-width="1.6" stroke-linecap="round" stroke-opacity="0.7" fill="none"/><path d="M149.5 105.3h0M141.1 100.1h0M128.0 96.3h0M164.3 99.8h0" stroke="#fff" stroke-width="1.6" stroke-linecap="round" stroke-opacity="0.8" fill="none"/><path d="M142.3 75.5h0M129.2 94.1h0M144.5 103.7h0" stroke="#fff" stroke-width="1.6" stroke-linecap="round" stroke-opacity="0.9" fill="none"/><path d="M156.0 110.3h0M155.5 108.2h0" stroke="#fff" stroke-width="1.6" stroke-linecap="round" stroke-opacity="1.0" fill="none"/><path d="M153.8 72.5h0" stroke="#fff" stroke-width="2.4" stroke-linecap="round" stroke-opacity="0.7" fill="none"/><path d="M119.3 119.2h0" stroke="#fff" stroke-width="2.4" stroke-linecap="round" stroke-opacity="0.9" fill="none"/></g>
<ellipse cx="11" cy="191" rx="24" ry="10" fill="#8c3c9e" opacity="0.9" filter="url(#blur2)"/>
<path d="M3.6,36.9 C4.4,34.3 7.2,29.9 10.9,28.4 C14.6,26.9 28.8,25.3 36.5,23.5 C44.2,21.7 74.0,12.9 80.2,12.6 C86.4,12.3 89.2,19.3 92.4,21.1 C95.6,22.9 105.1,28.9 109.4,28.4 C113.7,27.9 125.4,18.5 131.3,16.2 C137.2,13.9 158.0,8.2 162.9,7.7 C167.8,7.2 172.6,9.4 175.0,11.4 C177.4,13.4 181.8,24.7 184.8,26.0 C187.8,27.3 198.0,25.1 201.8,23.5 C205.6,21.9 216.5,12.2 218.8,11.4 C221.1,10.6 222.3,13.9 222.4,16.2 C222.5,18.5 221.5,28.1 220.0,32.0 C218.5,35.9 210.5,47.2 209.0,51.5 C207.5,55.8 207.4,66.9 206.6,71.0 C205.8,75.1 202.6,83.7 201.8,88.0 C201.0,92.3 200.0,105.5 199.3,109.8 C198.6,114.1 195.3,123.6 195.7,126.8 C196.1,130.0 202.3,136.2 203.0,139.0 C203.7,141.8 203.3,150.5 201.8,152.4 C200.3,154.3 193.1,155.9 189.6,156.0 C186.1,156.1 175.1,152.5 170.2,153.6 C165.3,154.7 150.8,162.7 145.9,165.7 C141.0,168.7 129.9,178.9 126.4,180.3 C122.9,181.7 116.5,180.3 114.3,177.9 C112.1,175.5 110.0,161.9 107.0,158.4 C104.0,154.9 91.3,149.0 87.5,146.3 C83.7,143.6 76.1,138.2 72.9,134.1 C69.7,130.0 61.8,115.5 58.3,109.8 C54.8,104.1 46.2,88.1 41.3,83.0 C36.4,77.9 18.8,67.1 14.6,63.6 C10.4,60.1 4.8,54.5 3.6,51.5 C2.4,48.5 2.8,39.5 3.6,36.9Z" fill="none" stroke="#dcdcdc" stroke-width="1.5" stroke-dasharray="10 9.5" stroke-linecap="round"/>
<text x="5.0" y="159.7" font-size="13.6" fill="#fff">LPL</text>
<text x="5.0" y="176.2" font-size="13.6" fill="#fff">mRNA</text>
<rect x="176.70" y="171.20" width="42.50" height="7.00" fill="#fff"/>
</g>
<text x="2.0" y="233.4" font-size="19" fill="#000" font-weight="bold">b</text>
<text x="117.0" y="257.8" font-size="13.6" text-anchor="middle">Single-stranded DNA</text>
<text x="117.0" y="273.3" font-size="13.6" text-anchor="middle">oligonucleotide probes</text>
<line x1="11.00" y1="300.80" x2="57.00" y2="300.80" stroke="#1a1a1a" stroke-width="1.1"/>
<line x1="4.80" y1="300.80" x2="17.20" y2="300.80" stroke="#b01c32" stroke-width="2.5"/><line x1="7.90" y1="295.43" x2="14.10" y2="306.17" stroke="#b01c32" stroke-width="2.5"/><line x1="7.90" y1="306.17" x2="14.10" y2="295.43" stroke="#b01c32" stroke-width="2.5"/>
<line x1="71.00" y1="300.80" x2="117.00" y2="300.80" stroke="#1a1a1a" stroke-width="1.1"/>
<line x1="64.80" y1="300.80" x2="77.20" y2="300.80" stroke="#b01c32" stroke-width="2.5"/><line x1="67.90" y1="295.43" x2="74.10" y2="306.17" stroke="#b01c32" stroke-width="2.5"/><line x1="67.90" y1="306.17" x2="74.10" y2="295.43" stroke="#b01c32" stroke-width="2.5"/>
<line x1="133.00" y1="300.80" x2="180.00" y2="300.80" stroke="#1a1a1a" stroke-width="1.1"/>
<line x1="126.80" y1="300.80" x2="139.20" y2="300.80" stroke="#b01c32" stroke-width="2.5"/><line x1="129.90" y1="295.43" x2="136.10" y2="306.17" stroke="#b01c32" stroke-width="2.5"/><line x1="129.90" y1="306.17" x2="136.10" y2="295.43" stroke="#b01c32" stroke-width="2.5"/>
<line x1="194.50" y1="300.80" x2="241.00" y2="300.80" stroke="#1a1a1a" stroke-width="1.1"/>
<line x1="188.30" y1="300.80" x2="200.70" y2="300.80" stroke="#b01c32" stroke-width="2.5"/><line x1="191.40" y1="295.43" x2="197.60" y2="306.17" stroke="#b01c32" stroke-width="2.5"/><line x1="191.40" y1="306.17" x2="197.60" y2="295.43" stroke="#b01c32" stroke-width="2.5"/>
<line x1="13.00" y1="316.00" x2="241.00" y2="316.00" stroke="#666" stroke-width="1.6"/>
<text x="117.0" y="335.8" font-size="13.6" text-anchor="middle">Target mRNA</text>
<text x="269.0" y="233.0" font-size="19" fill="#000" font-weight="bold">c</text>
<text x="317.5" y="242.0" font-size="13.6">Mesenchymal</text>
<text x="317.5" y="257.5" font-size="13.6">stem cells</text>
<ellipse cx="331.1" cy="286.4" rx="14.9" ry="12.3" fill="#4f9a48" stroke="#2e6a2c" stroke-width="1.3"/><ellipse cx="328.2" cy="285.4" rx="5.3" ry="4.4" fill="#ececec"/>
<ellipse cx="304.5" cy="305.3" rx="15.4" ry="12.7" fill="#4f9a48" stroke="#2e6a2c" stroke-width="1.3"/><ellipse cx="307.9" cy="304.4" rx="6.6" ry="6.0" fill="#ececec"/>
<ellipse cx="334.5" cy="311.4" rx="11.7" ry="9.3" fill="#4f9a48" stroke="#2e6a2c" stroke-width="1.3"/><ellipse cx="335.8" cy="311.7" rx="5.0" ry="4.4" fill="#ececec"/>
<line x1="347.20" y1="296.10" x2="380.00" y2="296.10" stroke="#000" stroke-width="1.6"/>
<polygon points="386,296.1 377.6,292.1 377.6,300.1" fill="#000"/>
<polygon points="389.1,282.4 401.6,269.9 486.1,269.9 473.6,282.4" fill="#dcdcdc" stroke="#9c9c9c" stroke-width="1.6" stroke-linejoin="round"/>
<polygon points="473.6,282.4 486.1,269.9 486.1,308.2 473.6,320.7" fill="#c4c4c4" stroke="#9c9c9c" stroke-width="1.6" stroke-linejoin="round"/>
<rect x="389.1" y="282.4" width="84.5" height="38.30000000000001" fill="#d2d2d2" stroke="#9c9c9c" stroke-width="1.6"/>
<circle cx="400.1" cy="294.3" r="6.4" fill="#6e9c6c" stroke="#4d7d4d" stroke-width="1.0" opacity="0.85"/><circle cx="401.3" cy="293.1" r="2.4" fill="#dfe2df" opacity="0.95"/>
<circle cx="412" cy="306.3" r="6.7" fill="#6e9c6c" stroke="#4d7d4d" stroke-width="1.0" opacity="0.85"/><circle cx="413.2" cy="305.1" r="2.5" fill="#dfe2df" opacity="0.95"/>
<circle cx="397.6" cy="313.8" r="5.2" fill="#6e9c6c" stroke="#4d7d4d" stroke-width="1.0" opacity="0.85"/><circle cx="398.5" cy="312.9" r="2.0" fill="#dfe2df" opacity="0.95"/>
<circle cx="414.7" cy="281.9" r="5.6" fill="#6e9c6c" stroke="#4d7d4d" stroke-width="1.0" opacity="0.85"/><circle cx="415.7" cy="280.9" r="2.1" fill="#dfe2df" opacity="0.95"/>
<circle cx="429" cy="297" r="6.4" fill="#6e9c6c" stroke="#4d7d4d" stroke-width="1.0" opacity="0.85"/><circle cx="430.2" cy="295.8" r="2.4" fill="#dfe2df" opacity="0.95"/>
<circle cx="448.4" cy="295.8" r="5.2" fill="#6e9c6c" stroke="#4d7d4d" stroke-width="1.0" opacity="0.85"/><circle cx="449.3" cy="294.9" r="2.0" fill="#dfe2df" opacity="0.95"/>
<circle cx="443.2" cy="311.8" r="6.4" fill="#6e9c6c" stroke="#4d7d4d" stroke-width="1.0" opacity="0.85"/><circle cx="444.4" cy="310.6" r="2.4" fill="#dfe2df" opacity="0.95"/>
<circle cx="460.6" cy="311.5" r="6.4" fill="#6e9c6c" stroke="#4d7d4d" stroke-width="1.0" opacity="0.85"/><circle cx="461.8" cy="310.3" r="2.4" fill="#dfe2df" opacity="0.95"/>
<circle cx="454.2" cy="279.2" r="5.6" fill="#6e9c6c" stroke="#4d7d4d" stroke-width="1.0" opacity="0.85"/><circle cx="455.2" cy="278.2" r="2.1" fill="#dfe2df" opacity="0.95"/>
<circle cx="468.2" cy="291.6" r="5.8" fill="#6e9c6c" stroke="#4d7d4d" stroke-width="1.0" opacity="0.85"/><circle cx="469.2" cy="290.6" r="2.2" fill="#dfe2df" opacity="0.95"/>
<path d="M389.1,282.4 L473.6,282.4 L486.1,269.9" fill="none" stroke="#9c9c9c" stroke-width="1.4" opacity="0.85"/>
<text x="430.5" y="340.6" font-size="13.6" text-anchor="middle">3D encapsulation</text>
<text x="430.5" y="355.8" font-size="13.6" text-anchor="middle">in gels</text>
<path d="M487,294.7 L500,294.7 C515,294.7 522,270 545,270 L583,270" fill="none" stroke="#000" stroke-width="1.8"/>
<path d="M488,294.7 L500,294.7 C515,294.7 522,319.5 545,319.5 L583,319.5" fill="none" stroke="#000" stroke-width="1.8"/>
<polygon points="591,270 582.6,266 582.6,274" fill="#000"/>
<polygon points="591,319.5 582.6,315.5 582.6,323.5" fill="#000"/>
<text x="549.0" y="258.4" font-size="13.6" text-anchor="middle">−TGFβ</text>
<text x="549.0" y="290.0" font-size="13.6" text-anchor="middle">Up to</text>
<text x="549.0" y="305.6" font-size="13.6" text-anchor="middle">21 days</text>
<text x="549.0" y="345.0" font-size="13.6" text-anchor="middle">+TGFβ</text>
<polygon points="598.5,249.8 611.3,237.0 695.0,237.0 682.2,249.8" fill="#dcdcdc" stroke="#9c9c9c" stroke-width="1.6" stroke-linejoin="round"/>
<polygon points="682.2,249.8 695.0,237.0 695.0,275.4 682.2,288.2" fill="#c4c4c4" stroke="#9c9c9c" stroke-width="1.6" stroke-linejoin="round"/>
<rect x="598.5" y="249.8" width="83.70000000000005" height="38.39999999999998" fill="#d2d2d2" stroke="#9c9c9c" stroke-width="1.6"/>
<circle cx="623.4" cy="249.1" r="5.8" fill="#6e9c6c" stroke="#4d7d4d" stroke-width="1.0" opacity="0.85"/><circle cx="624.4" cy="248.1" r="2.2" fill="#dfe2df" opacity="0.95"/>
<circle cx="663" cy="245.8" r="5.8" fill="#6e9c6c" stroke="#4d7d4d" stroke-width="1.0" opacity="0.85"/><circle cx="664.0" cy="244.8" r="2.2" fill="#dfe2df" opacity="0.95"/>
<circle cx="609.4" cy="262.1" r="7" fill="#6e9c6c" stroke="#4d7d4d" stroke-width="1.0" opacity="0.85"/><circle cx="610.7" cy="260.8" r="2.7" fill="#dfe2df" opacity="0.95"/>
<circle cx="637.4" cy="264.4" r="7" fill="#6e9c6c" stroke="#4d7d4d" stroke-width="1.0" opacity="0.85"/><circle cx="638.7" cy="263.1" r="2.7" fill="#dfe2df" opacity="0.95"/>
<circle cx="657.1" cy="263.3" r="5.1" fill="#6e9c6c" stroke="#4d7d4d" stroke-width="1.0" opacity="0.85"/><circle cx="658.0" cy="262.4" r="1.9" fill="#dfe2df" opacity="0.95"/>
<circle cx="676.9" cy="259" r="5.8" fill="#6e9c6c" stroke="#4d7d4d" stroke-width="1.0" opacity="0.85"/><circle cx="677.9" cy="258.0" r="2.2" fill="#dfe2df" opacity="0.95"/>
<circle cx="621" cy="273.7" r="7" fill="#6e9c6c" stroke="#4d7d4d" stroke-width="1.0" opacity="0.85"/><circle cx="622.3" cy="272.4" r="2.7" fill="#dfe2df" opacity="0.95"/>
<circle cx="606" cy="281.6" r="5.1" fill="#6e9c6c" stroke="#4d7d4d" stroke-width="1.0" opacity="0.85"/><circle cx="606.9" cy="280.7" r="1.9" fill="#dfe2df" opacity="0.95"/>
<circle cx="652" cy="279.3" r="6.5" fill="#6e9c6c" stroke="#4d7d4d" stroke-width="1.0" opacity="0.85"/><circle cx="653.2" cy="278.1" r="2.5" fill="#dfe2df" opacity="0.95"/>
<circle cx="669.2" cy="279.3" r="6.5" fill="#6e9c6c" stroke="#4d7d4d" stroke-width="1.0" opacity="0.85"/><circle cx="670.4" cy="278.1" r="2.5" fill="#dfe2df" opacity="0.95"/>
<path d="M598.5,249.8 L682.2,249.8 L695.0,237.0" fill="none" stroke="#9c9c9c" stroke-width="1.4" opacity="0.85"/>
<polygon points="598.5,306.8 611.3,294.0 695.0,294.0 682.2,306.8" fill="#dcdcdc" stroke="#9c9c9c" stroke-width="1.6" stroke-linejoin="round"/>
<polygon points="682.2,306.8 695.0,294.0 695.0,332.4 682.2,345.2" fill="#c4c4c4" stroke="#9c9c9c" stroke-width="1.6" stroke-linejoin="round"/>
<rect x="598.5" y="306.8" width="83.70000000000005" height="38.39999999999998" fill="#d2d2d2" stroke="#9c9c9c" stroke-width="1.6"/>
<circle cx="623.4" cy="306.1" r="10.2" fill="#9cbde0" opacity="0.75" filter="url(#blur1)"/>
<circle cx="663" cy="302.8" r="10.2" fill="#9cbde0" opacity="0.75" filter="url(#blur1)"/>
<circle cx="609.4" cy="319.1" r="12.2" fill="#9cbde0" opacity="0.75" filter="url(#blur1)"/>
<circle cx="637.4" cy="321.4" r="12.2" fill="#9cbde0" opacity="0.75" filter="url(#blur1)"/>
<circle cx="657.1" cy="320.3" r="8.9" fill="#9cbde0" opacity="0.75" filter="url(#blur1)"/>
<circle cx="676.9" cy="316" r="10.2" fill="#9cbde0" opacity="0.75" filter="url(#blur1)"/>
<circle cx="621" cy="330.7" r="12.2" fill="#9cbde0" opacity="0.75" filter="url(#blur1)"/>
<circle cx="606" cy="338.6" r="8.9" fill="#9cbde0" opacity="0.75" filter="url(#blur1)"/>
<circle cx="652" cy="336.3" r="11.4" fill="#9cbde0" opacity="0.75" filter="url(#blur1)"/>
<circle cx="669.2" cy="336.3" r="11.4" fill="#9cbde0" opacity="0.75" filter="url(#blur1)"/>
<circle cx="623.4" cy="306.1" r="5.8" fill="#6e9c6c" stroke="#4d7d4d" stroke-width="1.0" opacity="0.85"/><circle cx="624.4" cy="305.1" r="2.2" fill="#dfe2df" opacity="0.95"/>
<circle cx="663" cy="302.8" r="5.8" fill="#6e9c6c" stroke="#4d7d4d" stroke-width="1.0" opacity="0.85"/><circle cx="664.0" cy="301.8" r="2.2" fill="#dfe2df" opacity="0.95"/>
<circle cx="609.4" cy="319.1" r="7" fill="#6e9c6c" stroke="#4d7d4d" stroke-width="1.0" opacity="0.85"/><circle cx="610.7" cy="317.8" r="2.7" fill="#dfe2df" opacity="0.95"/>
<circle cx="637.4" cy="321.4" r="7" fill="#6e9c6c" stroke="#4d7d4d" stroke-width="1.0" opacity="0.85"/><circle cx="638.7" cy="320.1" r="2.7" fill="#dfe2df" opacity="0.95"/>
<circle cx="657.1" cy="320.3" r="5.1" fill="#6e9c6c" stroke="#4d7d4d" stroke-width="1.0" opacity="0.85"/><circle cx="658.0" cy="319.4" r="1.9" fill="#dfe2df" opacity="0.95"/>
<circle cx="676.9" cy="316" r="5.8" fill="#6e9c6c" stroke="#4d7d4d" stroke-width="1.0" opacity="0.85"/><circle cx="677.9" cy="315.0" r="2.2" fill="#dfe2df" opacity="0.95"/>
<circle cx="621" cy="330.7" r="7" fill="#6e9c6c" stroke="#4d7d4d" stroke-width="1.0" opacity="0.85"/><circle cx="622.3" cy="329.4" r="2.7" fill="#dfe2df" opacity="0.95"/>
<circle cx="606" cy="338.6" r="5.1" fill="#6e9c6c" stroke="#4d7d4d" stroke-width="1.0" opacity="0.85"/><circle cx="606.9" cy="337.7" r="1.9" fill="#dfe2df" opacity="0.95"/>
<circle cx="652" cy="336.3" r="6.5" fill="#6e9c6c" stroke="#4d7d4d" stroke-width="1.0" opacity="0.85"/><circle cx="653.2" cy="335.1" r="2.5" fill="#dfe2df" opacity="0.95"/>
<circle cx="669.2" cy="336.3" r="6.5" fill="#6e9c6c" stroke="#4d7d4d" stroke-width="1.0" opacity="0.85"/><circle cx="670.4" cy="335.1" r="2.5" fill="#dfe2df" opacity="0.95"/>
<path d="M598.5,306.8 L682.2,306.8 L695.0,294.0" fill="none" stroke="#9c9c9c" stroke-width="1.4" opacity="0.85"/>
<text x="703.8" y="264.5" font-size="13.6">Undifferentiated</text>
<text x="703.8" y="307.9" font-size="13.6">Differentiated</text>
<text x="703.8" y="326.5" font-size="13.6" fill="#4a7fc0">Matrix secretion</text>
<text x="1.8" y="382.0" font-size="19" fill="#000" font-weight="bold">d</text>
<rect x="52.70" y="385.10" width="64.80" height="64.80" fill="#bec1c4"/>
<rect x="91.2" y="385.1" width="2.5" height="64.8" fill="#c6c8ca" opacity="0.18"/>
<rect x="101.0" y="385.1" width="2.9" height="64.8" fill="#c6c8ca" opacity="0.18"/>
<rect x="97.9" y="385.1" width="2.8" height="64.8" fill="#c6c8ca" opacity="0.18"/>
<rect x="57.4" y="385.1" width="1.9" height="64.8" fill="#c6c8ca" opacity="0.18"/>
<rect x="109.5" y="385.1" width="2.3" height="64.8" fill="#c6c8ca" opacity="0.18"/>
<rect x="107.1" y="385.1" width="1.2" height="64.8" fill="#c6c8ca" opacity="0.18"/>
<g transform="translate(52.7,385.1)"><path d="M18.8,19.2 L50,20.3 Q46,45 21.5,59.4 L18,35 Z" fill="#c7ccd0" fill-opacity="0.7" stroke="#9fb0bd" stroke-width="0.8" stroke-linejoin="round"/><path d="M18.8,19.2 L50,20.3 Q46,45 21.5,59.4" fill="none" stroke="#6f8aa2" stroke-width="1.1" stroke-linejoin="round"/></g>
<rect x="127.50" y="385.10" width="64.80" height="64.80" fill="#bec1c4"/>
<rect x="157.2" y="385.1" width="1.5" height="64.8" fill="#c6c8ca" opacity="0.18"/>
<rect x="161.5" y="385.1" width="2.1" height="64.8" fill="#c6c8ca" opacity="0.18"/>
<rect x="131.2" y="385.1" width="1.4" height="64.8" fill="#c6c8ca" opacity="0.18"/>
<rect x="146.4" y="385.1" width="2.8" height="64.8" fill="#c6c8ca" opacity="0.18"/>
<rect x="174.1" y="385.1" width="1.3" height="64.8" fill="#c6c8ca" opacity="0.18"/>
<rect x="175.9" y="385.1" width="1.3" height="64.8" fill="#c6c8ca" opacity="0.18"/>
<g transform="translate(127.5,385.1)"><path d="M14.5,17.2 L53.6,18.4 Q50,48 16.4,57.9 L14,35 Z" fill="#c7ccd0" fill-opacity="0.7" stroke="#9fb0bd" stroke-width="0.8" stroke-linejoin="round"/><path d="M14.5,17.2 L53.6,18.4 Q50,48 16.4,57.9" fill="none" stroke="#6f8aa2" stroke-width="1.1" stroke-linejoin="round"/></g>
<rect x="201.00" y="385.10" width="64.80" height="64.80" fill="#bec1c4"/>
<rect x="239.2" y="385.1" width="1.3" height="64.8" fill="#c6c8ca" opacity="0.18"/>
<rect x="204.1" y="385.1" width="2.7" height="64.8" fill="#c6c8ca" opacity="0.18"/>
<rect x="215.9" y="385.1" width="1.4" height="64.8" fill="#c6c8ca" opacity="0.18"/>
<rect x="260.0" y="385.1" width="2.7" height="64.8" fill="#c6c8ca" opacity="0.18"/>
<rect x="220.5" y="385.1" width="2.9" height="64.8" fill="#c6c8ca" opacity="0.18"/>
<rect x="234.7" y="385.1" width="2.4" height="64.8" fill="#c6c8ca" opacity="0.18"/>
<g transform="translate(201.0,385.1)"><path d="M22.3,21.5 L51.6,26.2 Q50,40 43.8,46 L22,52 Q18,40 22.3,21.5 Z" fill="#c7ccd0" fill-opacity="0.7" stroke="#9fb0bd" stroke-width="0.8" stroke-linejoin="round"/><path d="M22.3,21.5 L51.6,26.2 Q50,40 43.8,46 L22,52" fill="none" stroke="#6f8aa2" stroke-width="1.1" stroke-linejoin="round"/></g>
<rect x="276.00" y="385.10" width="64.80" height="64.80" fill="#bec1c4"/>
<rect x="290.7" y="385.1" width="2.9" height="64.8" fill="#c6c8ca" opacity="0.18"/>
<rect x="318.4" y="385.1" width="2.9" height="64.8" fill="#c6c8ca" opacity="0.18"/>
<rect x="329.9" y="385.1" width="1.6" height="64.8" fill="#c6c8ca" opacity="0.18"/>
<rect x="299.6" y="385.1" width="1.3" height="64.8" fill="#c6c8ca" opacity="0.18"/>
<rect x="287.3" y="385.1" width="1.1" height="64.8" fill="#c6c8ca" opacity="0.18"/>
<rect x="296.2" y="385.1" width="2.2" height="64.8" fill="#c6c8ca" opacity="0.18"/>
<g transform="translate(276.0,385.1)"><path d="M22.3,20.3 L41.8,17.6 L41,42 Q40,54 30,53 L24,51 L21,37 Z" fill="#c7ccd0" fill-opacity="0.7" stroke="#9fb0bd" stroke-width="0.8" stroke-linejoin="round"/><path d="M22.3,20.3 L41.8,17.6 L41,42 Q40,54 30,53" fill="none" stroke="#6f8aa2" stroke-width="1.1" stroke-linejoin="round"/></g>
<rect x="350.80" y="385.10" width="64.80" height="64.80" fill="#bec1c4"/>
<rect x="354.0" y="385.1" width="2.4" height="64.8" fill="#c6c8ca" opacity="0.18"/>
<rect x="373.1" y="385.1" width="1.6" height="64.8" fill="#c6c8ca" opacity="0.18"/>
<rect x="400.5" y="385.1" width="2.0" height="64.8" fill="#c6c8ca" opacity="0.18"/>
<rect x="371.8" y="385.1" width="2.0" height="64.8" fill="#c6c8ca" opacity="0.18"/>
<rect x="394.0" y="385.1" width="1.1" height="64.8" fill="#c6c8ca" opacity="0.18"/>
<rect x="409.4" y="385.1" width="1.0" height="64.8" fill="#c6c8ca" opacity="0.18"/>
<g transform="translate(350.8,385.1)"><path d="M15.6,11.3 L54.8,15.3 Q52,50 12.5,58.3 L13,35 Z" fill="#c7ccd0" fill-opacity="0.7" stroke="#9fb0bd" stroke-width="0.8" stroke-linejoin="round"/><path d="M15.6,11.3 L54.8,15.3 Q52,50 12.5,58.3" fill="none" stroke="#6f8aa2" stroke-width="1.1" stroke-linejoin="round"/></g>
<rect x="52.70" y="462.10" width="64.80" height="64.80" fill="#bec1c4"/>
<rect x="98.4" y="462.1" width="2.7" height="64.8" fill="#c6c8ca" opacity="0.18"/>
<rect x="56.7" y="462.1" width="2.6" height="64.8" fill="#c6c8ca" opacity="0.18"/>
<rect x="76.6" y="462.1" width="2.2" height="64.8" fill="#c6c8ca" opacity="0.18"/>
<rect x="56.2" y="462.1" width="1.1" height="64.8" fill="#c6c8ca" opacity="0.18"/>
<rect x="66.0" y="462.1" width="2.9" height="64.8" fill="#c6c8ca" opacity="0.18"/>
<rect x="66.9" y="462.1" width="2.5" height="64.8" fill="#c6c8ca" opacity="0.18"/>
<g transform="translate(52.7,462.1)"><path d="M12.9,11.7 L45,13.7 Q40,35 33.2,50.8 Q22,30 12.9,11.7 Z" fill="#c7ccd0" fill-opacity="0.7" stroke="#9fb0bd" stroke-width="0.8" stroke-linejoin="round"/><path d="M12.9,11.7 L45,13.7" fill="none" stroke="#6f8aa2" stroke-width="1.1" stroke-linejoin="round"/></g>
<rect x="127.50" y="462.10" width="64.80" height="64.80" fill="#bec1c4"/>
<rect x="183.5" y="462.1" width="2.9" height="64.8" fill="#c6c8ca" opacity="0.18"/>
<rect x="150.1" y="462.1" width="1.7" height="64.8" fill="#c6c8ca" opacity="0.18"/>
<rect x="160.4" y="462.1" width="2.6" height="64.8" fill="#c6c8ca" opacity="0.18"/>
<rect x="136.7" y="462.1" width="2.5" height="64.8" fill="#c6c8ca" opacity="0.18"/>
<rect x="175.9" y="462.1" width="2.7" height="64.8" fill="#c6c8ca" opacity="0.18"/>
<rect x="132.6" y="462.1" width="2.9" height="64.8" fill="#c6c8ca" opacity="0.18"/>
<g transform="translate(127.5,462.1)"><path d="M16.4,13.7 L51.6,25.4 Q45,48 15.6,52.8 L16,33 Z" fill="#c7ccd0" fill-opacity="0.7" stroke="#9fb0bd" stroke-width="0.8" stroke-linejoin="round"/><path d="M16.4,13.7 L51.6,25.4 Q45,48 15.6,52.8" fill="none" stroke="#6f8aa2" stroke-width="1.1" stroke-linejoin="round"/></g>
<rect x="201.00" y="462.10" width="64.80" height="64.80" fill="#bec1c4"/>
<rect x="209.2" y="462.1" width="1.7" height="64.8" fill="#c6c8ca" opacity="0.18"/>
<rect x="238.8" y="462.1" width="2.8" height="64.8" fill="#c6c8ca" opacity="0.18"/>
<rect x="223.4" y="462.1" width="2.8" height="64.8" fill="#c6c8ca" opacity="0.18"/>
<rect x="235.1" y="462.1" width="1.6" height="64.8" fill="#c6c8ca" opacity="0.18"/>
<rect x="222.1" y="462.1" width="1.4" height="64.8" fill="#c6c8ca" opacity="0.18"/>
<rect x="208.5" y="462.1" width="1.3" height="64.8" fill="#c6c8ca" opacity="0.18"/>
<g transform="translate(201.0,462.1)"><path d="M11.8,16.5 L49.9,12.5 L48.6,28.4 Q42,42 29.2,50.3 L13.5,56.7 Z" fill="#74a2d2"/><clipPath id="gclip12"><path d="M11.8,16.5 L49.9,12.5 L48.6,28.4 Q42,42 29.2,50.3 L13.5,56.7 Z"/></clipPath><g clip-path="url(#gclip12)" stroke-width="1.2" stroke-opacity="0.8"><path d="M41.1 59.8h1.2M10.3 59.3h1.2M47.7 32.8h1.2M10.7 55.8h1.2M31.7 51.9h1.2M45.8 15.3h1.2M15.2 52.2h1.2M54.8 32.7h1.2M43.0 34.0h1.2M27.4 17.3h1.2M32.0 26.9h1.2M25.4 45.2h1.2M35.9 10.6h1.2M20.0 43.6h1.2M53.9 35.9h1.2M35.9 43.3h1.2M42.6 11.4h1.2M29.2 42.5h1.2M40.9 41.5h1.2M30.6 21.3h1.2M14.4 25.9h1.2M17.3 11.8h1.2M19.4 55.2h1.2M27.5 23.9h1.2M13.5 51.6h1.2M9.7 40.7h1.2M54.0 50.9h1.2M47.0 42.1h1.2M24.9 54.7h1.2M26.0 31.6h1.2M22.0 58.6h1.2M20.5 59.0h1.2M31.6 24.3h1.2M13.9 41.1h1.2M8.6 36.6h1.2M52.9 49.1h1.2M22.1 40.4h1.2M13.7 48.0h1.2M33.6 26.8h1.2M33.4 33.2h1.2M43.8 39.5h1.2M50.6 37.3h1.2M42.0 41.6h1.2M51.8 29.3h1.2M48.9 19.8h1.2M41.3 31.6h1.2M45.5 55.5h1.2M31.0 37.5h1.2M47.0 13.4h1.2M55.9 45.1h1.2M53.7 45.6h1.2M22.0 55.9h1.2M37.3 30.7h1.2M37.9 12.2h1.2M26.2 13.6h1.2M14.4 31.6h1.2M15.3 41.6h1.2M20.6 37.6h1.2M44.0 35.8h1.2M12.1 43.4h1.2M14.0 39.7h1.2M50.1 34.0h1.2M40.7 21.2h1.2M14.7 41.2h1.2M24.7 29.3h1.2M28.8 52.6h1.2M27.0 14.8h1.2M31.1 48.0h1.2M28.6 33.3h1.2M15.4 18.0h1.2M26.5 54.0h1.2M20.2 23.9h1.2M21.8 21.8h1.2M9.5 56.2h1.2M30.6 57.3h1.2M43.0 18.2h1.2M9.2 21.5h1.2M27.3 58.7h1.2M23.0 33.4h1.2M43.2 45.9h1.2M27.7 12.2h1.2M55.5 35.9h1.2M31.6 56.8h1.2M19.7 12.5h1.2M10.9 22.8h1.2M22.7 12.6h1.2M54.6 19.0h1.2M27.3 36.6h1.2M23.1 15.4h1.2M18.3 10.9h1.2M31.4 38.6h1.2M18.8 15.8h1.2M23.0 16.5h1.2M19.8 14.2h1.2M35.7 22.3h1.2M41.6 12.4h1.2M21.7 28.7h1.2M44.5 38.7h1.2M42.9 45.1h1.2M47.0 29.1h1.2M11.2 18.5h1.2M40.4 24.3h1.2M44.7 37.9h1.2M10.4 16.5h1.2M19.1 31.4h1.2M47.7 46.3h1.2M30.1 31.7h1.2M44.8 56.8h1.2M54.5 39.8h1.2M47.1 31.0h1.2M31.1 54.1h1.2M18.3 23.9h1.2M19.6 27.6h1.2M37.7 30.0h1.2M47.9 34.5h1.2M37.9 50.0h1.2M16.9 29.5h1.2M9.3 25.6h1.2M30.9 45.2h1.2M41.3 43.5h1.2M40.6 36.1h1.2M11.7 14.4h1.2M22.7 56.5h1.2M37.3 20.4h1.2M34.1 29.7h1.2M34.6 45.8h1.2M50.6 20.6h1.2M28.0 31.3h1.2M51.4 25.1h1.2M37.1 58.3h1.2M37.0 19.2h1.2M43.0 13.1h1.2M48.1 57.9h1.2M30.9 15.0h1.2M15.5 14.6h1.2M38.0 58.3h1.2M12.9 13.2h1.2M43.7 14.2h1.2M34.1 28.8h1.2M22.2 15.8h1.2M26.3 24.5h1.2M32.9 12.5h1.2M19.4 43.3h1.2M21.0 14.8h1.2M55.3 37.1h1.2M52.8 14.6h1.2M25.3 10.8h1.2M30.0 29.1h1.2M29.2 33.6h1.2M32.4 12.6h1.2" stroke="#a6c6e6"/><path d="M27.5 21.9h1.2M43.1 57.5h1.2M29.8 60.0h1.2M55.4 58.0h1.2M21.1 49.1h1.2M25.3 49.3h1.2M41.3 43.2h1.2M31.3 48.5h1.2M22.1 57.3h1.2M47.2 42.4h1.2M24.7 42.2h1.2M47.8 27.5h1.2M49.8 44.4h1.2M16.0 51.8h1.2M30.9 44.6h1.2M43.1 18.6h1.2M37.9 48.7h1.2M26.3 40.6h1.2M34.2 27.0h1.2M14.8 39.8h1.2M53.9 58.4h1.2M13.2 38.3h1.2M14.8 41.5h1.2M54.1 55.7h1.2M27.9 26.0h1.2M22.1 49.1h1.2M20.8 17.7h1.2M39.0 40.2h1.2M20.1 32.8h1.2M45.4 31.4h1.2M47.8 13.3h1.2M23.9 17.7h1.2M47.3 49.6h1.2M9.2 46.1h1.2M48.4 21.0h1.2M35.6 47.1h1.2M36.8 34.5h1.2M26.0 12.8h1.2M51.7 37.7h1.2M19.3 28.6h1.2M16.6 45.7h1.2M46.2 11.5h1.2M10.6 17.5h1.2M54.7 43.3h1.2M19.3 26.7h1.2M47.9 42.4h1.2M36.4 38.7h1.2M17.7 12.0h1.2M30.6 54.5h1.2M53.0 44.4h1.2M40.1 24.6h1.2M19.5 43.6h1.2M39.0 31.5h1.2M8.3 13.0h1.2M12.5 13.6h1.2M52.2 39.9h1.2M38.0 46.3h1.2M22.8 32.5h1.2M12.2 48.6h1.2M28.2 25.7h1.2M34.7 54.8h1.2M47.2 42.8h1.2M49.3 57.5h1.2M23.9 10.6h1.2M33.5 18.6h1.2M29.4 56.9h1.2M13.7 25.9h1.2M54.9 11.6h1.2M35.0 27.8h1.2M55.2 52.0h1.2M16.1 14.9h1.2M51.2 20.0h1.2M23.6 44.1h1.2M8.5 35.6h1.2M55.2 50.8h1.2M46.3 28.1h1.2M35.9 48.0h1.2M42.4 13.6h1.2M40.2 57.8h1.2M41.0 51.9h1.2M51.0 22.0h1.2M26.7 18.9h1.2M51.2 55.5h1.2M26.6 15.4h1.2M20.8 41.1h1.2M16.0 41.6h1.2M18.8 13.1h1.2M47.9 53.9h1.2M9.5 15.8h1.2M36.5 42.3h1.2M48.8 42.3h1.2M19.0 44.8h1.2M37.6 15.2h1.2M43.3 50.8h1.2M42.2 56.2h1.2M26.0 32.9h1.2M36.7 28.7h1.2M31.8 58.1h1.2M11.5 48.0h1.2M25.0 46.9h1.2M41.4 49.5h1.2M22.2 26.8h1.2M46.9 10.3h1.2M10.6 20.9h1.2M21.4 57.7h1.2M45.4 31.7h1.2M51.3 42.3h1.2M9.7 11.2h1.2M27.8 53.7h1.2M51.9 28.9h1.2" stroke="#5684c0"/></g><path d="M11.8,16.5 L49.9,12.5 L48.6,28.4 Q42,42 29.2,50.3 L13.5,56.7 Z" fill="none" stroke="#3f6cb8" stroke-width="1.4" stroke-linejoin="round"/></g>
<rect x="276.00" y="462.10" width="64.80" height="64.80" fill="#bec1c4"/>
<rect x="322.1" y="462.1" width="2.8" height="64.8" fill="#c6c8ca" opacity="0.18"/>
<rect x="287.4" y="462.1" width="2.6" height="64.8" fill="#c6c8ca" opacity="0.18"/>
<rect x="303.1" y="462.1" width="2.9" height="64.8" fill="#c6c8ca" opacity="0.18"/>
<rect x="335.7" y="462.1" width="1.4" height="64.8" fill="#c6c8ca" opacity="0.18"/>
<rect x="303.0" y="462.1" width="1.5" height="64.8" fill="#c6c8ca" opacity="0.18"/>
<rect x="305.8" y="462.1" width="1.6" height="64.8" fill="#c6c8ca" opacity="0.18"/>
<g transform="translate(276.0,462.1)"><path d="M12.5,13.7 L54.8,31.3 L43.8,46.9 Q30,52 13.3,56.7 Z" fill="#74a2d2"/><clipPath id="gclip13"><path d="M12.5,13.7 L54.8,31.3 L43.8,46.9 Q30,52 13.3,56.7 Z"/></clipPath><g clip-path="url(#gclip13)" stroke-width="1.2" stroke-opacity="0.8"><path d="M40.0 16.2h1.2M30.0 13.7h1.2M51.1 54.3h1.2M36.7 16.8h1.2M52.2 56.9h1.2M16.9 31.5h1.2M41.7 14.5h1.2M38.9 28.7h1.2M19.6 38.4h1.2M34.2 46.6h1.2M31.1 45.3h1.2M45.0 30.9h1.2M37.3 49.6h1.2M32.0 11.9h1.2M24.6 11.1h1.2M14.6 27.5h1.2M35.2 20.4h1.2M10.9 14.4h1.2M14.9 58.4h1.2M26.7 41.4h1.2M20.6 53.8h1.2M51.1 18.8h1.2M31.7 53.6h1.2M37.3 40.6h1.2M53.6 15.6h1.2M40.8 14.6h1.2M20.4 24.9h1.2M30.3 17.8h1.2M20.6 57.3h1.2M12.2 27.6h1.2M16.4 16.9h1.2M51.8 17.3h1.2M34.7 43.1h1.2M45.6 51.8h1.2M13.2 23.0h1.2M38.8 57.8h1.2M45.0 26.8h1.2M10.4 58.6h1.2M38.5 46.2h1.2M27.6 26.5h1.2M11.1 45.8h1.2M49.7 13.1h1.2M51.0 35.3h1.2M28.0 21.3h1.2M35.1 24.5h1.2M13.5 36.9h1.2M55.4 37.1h1.2M28.5 20.5h1.2M33.4 17.0h1.2M53.1 33.3h1.2M52.0 38.7h1.2M21.6 47.2h1.2M14.4 18.4h1.2M15.8 44.9h1.2M35.9 22.6h1.2M10.5 46.0h1.2M52.1 24.1h1.2M50.1 16.6h1.2M27.9 58.8h1.2M8.1 57.2h1.2M48.9 43.1h1.2M48.2 43.8h1.2M37.5 49.8h1.2M45.0 51.9h1.2M33.7 33.9h1.2M26.5 42.2h1.2M35.9 47.2h1.2M29.3 44.3h1.2M20.5 52.0h1.2M13.1 32.9h1.2M46.5 33.8h1.2M17.7 13.3h1.2M12.8 28.5h1.2M18.6 10.2h1.2M22.4 46.4h1.2M41.1 20.9h1.2M29.6 30.4h1.2M50.4 45.7h1.2M17.2 26.4h1.2M40.7 48.5h1.2M33.6 52.0h1.2M12.5 40.3h1.2M14.9 24.4h1.2M15.1 31.3h1.2M11.8 17.5h1.2M30.9 50.2h1.2M52.1 40.4h1.2M16.2 31.3h1.2M47.5 21.5h1.2M47.2 13.5h1.2M12.5 46.5h1.2M22.9 43.9h1.2M52.0 41.8h1.2M32.6 33.5h1.2M15.3 23.9h1.2M11.4 43.7h1.2M21.9 14.5h1.2M52.7 24.6h1.2M24.6 57.3h1.2M23.7 44.3h1.2M49.8 12.9h1.2M32.1 27.3h1.2M48.6 38.5h1.2M39.5 40.8h1.2M28.5 16.6h1.2M50.2 25.3h1.2M37.0 39.5h1.2M29.4 46.7h1.2M21.7 42.8h1.2M29.9 18.1h1.2M16.5 33.7h1.2M42.9 32.9h1.2M29.0 40.7h1.2M39.6 22.2h1.2M45.4 25.3h1.2M10.2 35.0h1.2M33.3 12.3h1.2M55.5 49.4h1.2M29.9 11.6h1.2M17.2 59.2h1.2M19.9 13.3h1.2M48.1 49.1h1.2M16.1 23.5h1.2M16.4 46.0h1.2M51.8 37.9h1.2M35.5 24.1h1.2M20.5 32.9h1.2M11.9 22.4h1.2M43.7 39.6h1.2M49.0 49.5h1.2M18.9 10.3h1.2M17.9 56.1h1.2M41.2 14.0h1.2M30.4 37.3h1.2M43.6 27.3h1.2M33.1 51.9h1.2M23.0 24.0h1.2M36.8 42.2h1.2M29.4 38.0h1.2M12.9 56.4h1.2M31.9 24.7h1.2M21.0 18.1h1.2M51.7 14.0h1.2M41.4 41.2h1.2M29.2 22.9h1.2M42.6 33.9h1.2M23.9 44.2h1.2M18.9 34.6h1.2M42.7 48.3h1.2M49.3 17.3h1.2M46.5 51.4h1.2M23.3 35.0h1.2M17.1 56.4h1.2" stroke="#a6c6e6"/><path d="M8.9 51.4h1.2M44.2 28.6h1.2M15.3 35.9h1.2M30.9 39.1h1.2M29.6 42.7h1.2M25.8 36.5h1.2M53.0 57.5h1.2M22.5 18.3h1.2M11.7 32.4h1.2M33.4 29.4h1.2M22.4 37.6h1.2M21.2 49.2h1.2M20.6 51.5h1.2M10.5 47.0h1.2M8.5 12.2h1.2M36.3 15.9h1.2M30.1 42.4h1.2M42.6 13.5h1.2M48.5 16.0h1.2M44.4 35.8h1.2M28.4 41.1h1.2M41.0 32.4h1.2M31.7 36.8h1.2M50.7 23.2h1.2M38.3 52.2h1.2M16.6 57.2h1.2M32.6 56.7h1.2M30.4 15.1h1.2M21.1 37.5h1.2M52.1 29.1h1.2M52.1 26.3h1.2M30.6 47.9h1.2M14.4 20.1h1.2M43.0 15.1h1.2M29.4 41.0h1.2M44.7 26.8h1.2M38.7 34.4h1.2M39.4 47.9h1.2M43.1 35.3h1.2M31.7 10.1h1.2M17.7 58.7h1.2M19.4 51.5h1.2M21.1 10.5h1.2M28.9 25.3h1.2M25.9 39.8h1.2M10.7 10.7h1.2M9.2 49.8h1.2M37.9 51.7h1.2M42.4 52.5h1.2M9.0 54.2h1.2M16.0 57.7h1.2M29.9 48.4h1.2M49.3 44.1h1.2M49.8 55.9h1.2M28.0 43.0h1.2M8.3 37.5h1.2M48.0 26.3h1.2M10.8 40.1h1.2M18.5 43.3h1.2M23.4 52.8h1.2M32.9 14.1h1.2M24.4 20.5h1.2M30.2 14.9h1.2M21.7 23.2h1.2M13.2 47.8h1.2M11.2 14.1h1.2M41.3 35.5h1.2M48.4 41.0h1.2M38.0 15.6h1.2M25.8 49.2h1.2M53.1 29.5h1.2M55.9 16.5h1.2M16.3 30.6h1.2M27.3 22.8h1.2M21.7 11.8h1.2M35.9 35.2h1.2M37.4 18.1h1.2M55.8 47.0h1.2M8.5 25.2h1.2M48.8 46.5h1.2M53.9 34.3h1.2M26.8 25.9h1.2M15.2 10.4h1.2M19.0 20.3h1.2M36.0 24.1h1.2M36.4 45.2h1.2M31.4 53.6h1.2M34.9 40.3h1.2M19.0 24.1h1.2M31.3 17.5h1.2M45.0 57.8h1.2M10.1 35.3h1.2M37.6 40.7h1.2M52.4 45.4h1.2M41.8 21.5h1.2M37.8 13.0h1.2M53.1 32.2h1.2M55.6 26.2h1.2M53.9 14.2h1.2M39.3 37.0h1.2M37.5 44.9h1.2M28.5 55.7h1.2M44.3 26.7h1.2M33.5 43.4h1.2M49.5 45.7h1.2M31.7 34.7h1.2M35.0 12.5h1.2" stroke="#5684c0"/></g><path d="M12.5,13.7 L54.8,31.3 L43.8,46.9 Q30,52 13.3,56.7 Z" fill="none" stroke="#3f6cb8" stroke-width="1.4" stroke-linejoin="round"/></g>
<rect x="350.80" y="462.10" width="64.80" height="64.80" fill="#bec1c4"/>
<rect x="370.8" y="462.1" width="2.6" height="64.8" fill="#c6c8ca" opacity="0.18"/>
<rect x="367.6" y="462.1" width="2.3" height="64.8" fill="#c6c8ca" opacity="0.18"/>
<rect x="386.2" y="462.1" width="2.8" height="64.8" fill="#c6c8ca" opacity="0.18"/>
<rect x="381.0" y="462.1" width="1.7" height="64.8" fill="#c6c8ca" opacity="0.18"/>
<rect x="368.6" y="462.1" width="1.7" height="64.8" fill="#c6c8ca" opacity="0.18"/>
<rect x="353.8" y="462.1" width="1.2" height="64.8" fill="#c6c8ca" opacity="0.18"/>
<g transform="translate(350.8,462.1)"><path d="M10.3,11.9 L51.5,13.3 Q50,45 13.5,59 L10.7,55.5 Z" fill="#74a2d2"/><clipPath id="gclip14"><path d="M10.3,11.9 L51.5,13.3 Q50,45 13.5,59 L10.7,55.5 Z"/></clipPath><g clip-path="url(#gclip14)" stroke-width="1.2" stroke-opacity="0.8"><path d="M53.2 27.7h1.2M22.1 41.5h1.2M13.6 36.2h1.2M14.9 49.3h1.2M29.1 48.3h1.2M10.1 54.8h1.2M8.3 25.3h1.2M51.6 55.4h1.2M55.4 37.7h1.2M12.0 31.3h1.2M19.7 31.1h1.2M33.0 28.3h1.2M9.4 16.0h1.2M8.5 43.7h1.2M19.2 25.7h1.2M18.1 52.6h1.2M39.9 12.5h1.2M48.2 39.7h1.2M19.3 13.2h1.2M31.2 54.3h1.2M51.6 44.0h1.2M24.7 27.3h1.2M18.8 35.8h1.2M9.5 54.0h1.2M28.5 19.7h1.2M53.6 27.4h1.2M21.4 49.1h1.2M10.2 33.0h1.2M38.7 27.9h1.2M22.5 40.4h1.2M31.4 44.0h1.2M45.9 45.6h1.2M28.0 17.8h1.2M41.0 26.4h1.2M51.6 45.0h1.2M37.3 45.5h1.2M43.4 26.1h1.2M20.6 13.8h1.2M31.8 31.1h1.2M13.9 57.8h1.2M35.7 15.7h1.2M43.1 27.5h1.2M19.0 46.6h1.2M35.9 25.1h1.2M38.1 30.4h1.2M40.8 29.3h1.2M33.6 56.8h1.2M24.3 29.5h1.2M31.9 47.7h1.2M51.4 39.6h1.2M10.3 10.1h1.2M20.4 34.7h1.2M34.9 43.8h1.2M47.5 14.8h1.2M49.6 51.7h1.2M41.7 28.8h1.2M44.7 45.5h1.2M55.0 18.8h1.2M43.0 29.3h1.2M17.8 21.1h1.2M28.5 54.7h1.2M52.0 23.1h1.2M41.4 19.2h1.2M16.0 22.5h1.2M16.0 44.0h1.2M22.0 22.7h1.2M13.5 31.9h1.2M30.6 54.2h1.2M28.6 11.6h1.2M34.5 39.9h1.2M10.1 13.6h1.2M47.7 37.9h1.2M12.8 22.5h1.2M14.9 47.2h1.2M16.0 41.0h1.2M42.8 46.5h1.2M28.3 29.0h1.2M38.3 14.1h1.2M35.7 49.5h1.2M20.0 28.9h1.2M21.4 27.2h1.2M15.7 29.6h1.2M34.7 18.8h1.2M31.9 19.9h1.2M48.1 42.1h1.2M22.3 33.6h1.2M38.1 53.9h1.2M15.0 44.1h1.2M31.6 32.6h1.2M16.5 57.9h1.2M14.8 46.9h1.2M18.0 45.3h1.2M39.8 16.6h1.2M41.9 17.6h1.2M45.6 45.8h1.2M38.3 56.3h1.2M42.1 56.8h1.2M13.1 44.2h1.2M45.5 46.3h1.2M31.6 29.8h1.2M26.3 33.3h1.2M19.9 49.8h1.2M18.8 54.7h1.2M40.4 59.3h1.2M34.1 37.3h1.2M25.7 43.6h1.2M22.3 18.6h1.2M48.9 22.2h1.2M31.9 16.6h1.2M27.1 16.0h1.2M54.1 43.5h1.2M41.7 47.6h1.2M9.8 24.1h1.2M29.1 53.5h1.2M13.0 10.9h1.2M32.6 28.0h1.2M15.0 51.1h1.2M55.8 22.3h1.2M35.4 52.1h1.2M31.9 57.8h1.2M37.3 47.6h1.2M55.7 41.3h1.2M17.5 34.5h1.2M17.8 57.5h1.2M47.1 51.7h1.2M8.1 23.3h1.2M49.7 41.7h1.2M24.5 44.7h1.2" stroke="#a6c6e6"/><path d="M15.1 25.7h1.2M49.9 25.9h1.2M8.1 23.0h1.2M42.4 46.9h1.2M29.8 25.5h1.2M30.8 25.4h1.2M19.4 59.8h1.2M33.1 43.7h1.2M11.3 14.3h1.2M35.8 24.6h1.2M10.2 54.4h1.2M16.7 32.3h1.2M51.2 34.6h1.2M14.4 57.4h1.2M55.1 26.1h1.2M48.2 56.7h1.2M11.5 24.0h1.2M20.8 30.6h1.2M36.6 47.6h1.2M17.4 47.0h1.2M37.5 33.8h1.2M13.4 11.8h1.2M16.2 54.2h1.2M53.4 31.9h1.2M52.7 41.1h1.2M9.2 11.1h1.2M25.2 31.8h1.2M55.5 19.2h1.2M38.9 24.4h1.2M47.9 24.4h1.2M23.9 58.9h1.2M30.6 38.1h1.2M35.9 39.9h1.2M37.8 52.7h1.2M25.8 48.0h1.2M43.9 37.4h1.2M47.1 47.4h1.2M26.6 16.6h1.2M18.3 43.4h1.2M21.1 10.1h1.2M45.9 39.4h1.2M34.3 40.4h1.2M37.0 35.0h1.2M16.2 27.9h1.2M39.5 34.5h1.2M23.7 27.6h1.2M40.6 31.3h1.2M9.3 36.8h1.2M50.2 19.7h1.2M39.9 42.1h1.2M40.8 13.5h1.2M15.0 19.5h1.2M19.6 28.4h1.2M17.2 55.2h1.2M40.7 23.3h1.2M37.3 57.8h1.2M15.2 20.1h1.2M35.9 36.4h1.2M35.7 41.9h1.2M50.9 40.4h1.2M21.0 28.2h1.2M30.2 20.5h1.2M40.8 23.7h1.2M13.1 25.8h1.2M25.4 51.8h1.2M33.1 22.8h1.2M20.8 52.8h1.2M52.6 21.4h1.2M34.0 22.9h1.2M25.7 54.2h1.2M28.0 28.5h1.2M8.3 33.4h1.2M53.7 44.4h1.2M36.9 60.0h1.2M30.1 34.8h1.2M39.9 34.4h1.2M56.0 59.8h1.2M48.0 42.5h1.2M51.8 31.8h1.2M28.2 56.2h1.2M39.5 53.4h1.2M36.7 29.2h1.2M19.5 41.5h1.2M33.8 38.1h1.2M19.7 22.3h1.2M17.4 48.8h1.2M55.9 39.8h1.2M55.6 56.2h1.2M11.0 45.1h1.2M11.6 17.3h1.2M30.2 21.6h1.2M23.6 33.4h1.2M46.5 16.8h1.2M47.3 27.2h1.2M53.1 13.5h1.2M49.3 41.5h1.2M16.8 50.2h1.2M33.6 58.3h1.2M20.7 44.2h1.2M45.5 29.4h1.2M14.0 53.7h1.2M28.0 22.0h1.2M37.0 25.0h1.2M44.5 26.9h1.2M28.3 44.6h1.2M15.3 28.4h1.2M42.9 32.6h1.2M10.0 57.6h1.2M12.7 20.1h1.2M32.4 47.4h1.2M14.6 47.4h1.2M22.5 29.3h1.2M22.1 32.2h1.2M14.2 57.2h1.2M29.0 18.6h1.2M18.8 52.8h1.2M45.5 59.8h1.2M18.5 26.3h1.2M33.3 11.6h1.2M29.9 41.5h1.2M31.4 55.2h1.2M45.5 46.3h1.2M9.2 18.9h1.2M42.0 27.7h1.2M15.8 42.9h1.2M45.6 38.1h1.2M11.5 13.7h1.2M40.8 38.1h1.2M26.8 58.5h1.2M15.3 50.9h1.2M43.8 37.9h1.2M10.7 55.2h1.2" stroke="#5684c0"/></g><path d="M10.3,11.9 L51.5,13.3 Q50,45 13.5,59 L10.7,55.5 Z" fill="none" stroke="#3f6cb8" stroke-width="1.4" stroke-linejoin="round"/></g>
<rect x="58.60" y="388.00" width="38.40" height="6.50" fill="#000"/>
<line x1="426.00" y1="384.50" x2="426.00" y2="450.00" stroke="#222" stroke-width="1.3"/>
<line x1="426.00" y1="462.70" x2="426.00" y2="528.00" stroke="#222" stroke-width="1.3"/>
<text transform="translate(441.0,418.3) rotate(-90)" x="0" y="0" font-size="13.6" text-anchor="middle">−TGFβ</text>
<text transform="translate(441.0,495.8) rotate(-90)" x="0" y="0" font-size="13.6" text-anchor="middle">+TGFβ</text>
<line x1="85.10" y1="527.00" x2="85.10" y2="530.50" stroke="#333" stroke-width="1"/>
<text x="85.1" y="542.0" font-size="13.6" text-anchor="middle">1</text>
<line x1="159.90" y1="527.00" x2="159.90" y2="530.50" stroke="#333" stroke-width="1"/>
<text x="159.9" y="542.0" font-size="13.6" text-anchor="middle">4</text>
<line x1="233.40" y1="527.00" x2="233.40" y2="530.50" stroke="#333" stroke-width="1"/>
<text x="233.4" y="542.0" font-size="13.6" text-anchor="middle">7</text>
<line x1="308.40" y1="527.00" x2="308.40" y2="530.50" stroke="#333" stroke-width="1"/>
<text x="308.4" y="542.0" font-size="13.6" text-anchor="middle">14</text>
<line x1="383.20" y1="527.00" x2="383.20" y2="530.50" stroke="#333" stroke-width="1"/>
<text x="383.2" y="542.0" font-size="13.6" text-anchor="middle">21</text>
<text x="234.0" y="560.0" font-size="13.6" text-anchor="middle">Days in agarose</text>
<text x="3.5" y="450.0" font-size="13.6" fill="#4a80c4">Alcian</text>
<text x="3.5" y="468.0" font-size="13.6" fill="#4a80c4">blue</text>
<text x="474.8" y="383.0" font-size="19" fill="#000" font-weight="bold">e</text>
<text x="646.0" y="396.2" font-size="13.6" text-anchor="middle">−TGFβ</text>
<text x="846.5" y="397.0" font-size="13.6" text-anchor="middle">+TGFβ</text>
<line x1="551.40" y1="403.00" x2="740.80" y2="403.00" stroke="#111" stroke-width="1.4"/>
<line x1="752.00" y1="403.00" x2="937.00" y2="403.00" stroke="#111" stroke-width="1.4"/>
<rect x="551.40" y="410.60" width="190.30" height="111.70" fill="#fff"/>
<line x1="551.40" y1="501.53" x2="741.70" y2="501.53" stroke="#f3f3f3" stroke-width="0.6"/>
<line x1="551.40" y1="469.39" x2="741.70" y2="469.39" stroke="#f3f3f3" stroke-width="0.6"/>
<line x1="551.40" y1="437.25" x2="741.70" y2="437.25" stroke="#f3f3f3" stroke-width="0.6"/>
<line x1="551.40" y1="517.60" x2="741.70" y2="517.60" stroke="#e4e4e4" stroke-width="0.7"/>
<line x1="551.40" y1="485.46" x2="741.70" y2="485.46" stroke="#e4e4e4" stroke-width="0.7"/>
<line x1="551.40" y1="453.32" x2="741.70" y2="453.32" stroke="#e4e4e4" stroke-width="0.7"/>
<line x1="551.40" y1="421.18" x2="741.70" y2="421.18" stroke="#e4e4e4" stroke-width="0.7"/>
<line x1="575.00" y1="410.60" x2="575.00" y2="522.30" stroke="#e4e4e4" stroke-width="0.7"/>
<line x1="610.50" y1="410.60" x2="610.50" y2="522.30" stroke="#e4e4e4" stroke-width="0.7"/>
<line x1="646.00" y1="410.60" x2="646.00" y2="522.30" stroke="#e4e4e4" stroke-width="0.7"/>
<line x1="681.30" y1="410.60" x2="681.30" y2="522.30" stroke="#e4e4e4" stroke-width="0.7"/>
<line x1="716.50" y1="410.60" x2="716.50" y2="522.30" stroke="#e4e4e4" stroke-width="0.7"/>
<rect x="564.50" y="506.35" width="7.00" height="11.25" fill="#c6c6c6"/>
<line x1="568.00" y1="506.35" x2="568.00" y2="504.74" stroke="#111" stroke-width="1.1"/>
<line x1="566.00" y1="504.74" x2="570.00" y2="504.74" stroke="#111" stroke-width="1.3"/>
<rect x="571.50" y="514.06" width="7.00" height="3.54" fill="#8e8e8e"/>
<line x1="575.00" y1="514.06" x2="575.00" y2="513.42" stroke="#111" stroke-width="1.1"/>
<line x1="573.00" y1="513.42" x2="577.00" y2="513.42" stroke="#111" stroke-width="1.3"/>
<rect x="578.50" y="508.28" width="7.00" height="9.32" fill="#5e5e5e"/>
<line x1="582.00" y1="508.28" x2="582.00" y2="506.99" stroke="#111" stroke-width="1.1"/>
<line x1="580.00" y1="506.99" x2="584.00" y2="506.99" stroke="#111" stroke-width="1.3"/>
<rect x="560.60" y="509.24" width="28.80" height="8.36" fill="rgb(120,188,120)" stroke="#1a1a1a" stroke-width="1.3" fill-opacity="0.64"/>
<rect x="600.00" y="508.76" width="7.00" height="8.84" fill="#c6c6c6"/>
<line x1="603.50" y1="508.76" x2="603.50" y2="507.96" stroke="#111" stroke-width="1.1"/>
<line x1="601.50" y1="507.96" x2="605.50" y2="507.96" stroke="#111" stroke-width="1.3"/>
<rect x="607.00" y="508.76" width="7.00" height="8.84" fill="#8e8e8e"/>
<line x1="610.50" y1="508.76" x2="610.50" y2="506.67" stroke="#111" stroke-width="1.1"/>
<line x1="608.50" y1="506.67" x2="612.50" y2="506.67" stroke="#111" stroke-width="1.3"/>
<rect x="614.00" y="509.56" width="7.00" height="8.04" fill="#5e5e5e"/>
<line x1="617.50" y1="509.56" x2="617.50" y2="508.76" stroke="#111" stroke-width="1.1"/>
<line x1="615.50" y1="508.76" x2="619.50" y2="508.76" stroke="#111" stroke-width="1.3"/>
<rect x="596.10" y="509.24" width="28.80" height="8.36" fill="rgb(120,188,120)" stroke="#1a1a1a" stroke-width="1.3" fill-opacity="0.64"/>
<rect x="635.50" y="511.98" width="7.00" height="5.62" fill="#c6c6c6"/>
<line x1="639.00" y1="511.98" x2="639.00" y2="510.69" stroke="#111" stroke-width="1.1"/>
<line x1="637.00" y1="510.69" x2="641.00" y2="510.69" stroke="#111" stroke-width="1.3"/>
<rect x="642.50" y="516.31" width="7.00" height="1.29" fill="#8e8e8e"/>
<line x1="646.00" y1="516.31" x2="646.00" y2="515.99" stroke="#111" stroke-width="1.1"/>
<line x1="644.00" y1="515.99" x2="648.00" y2="515.99" stroke="#111" stroke-width="1.3"/>
<rect x="649.50" y="516.80" width="7.00" height="0.80" fill="#5e5e5e"/>
<line x1="653.00" y1="516.80" x2="653.00" y2="516.48" stroke="#111" stroke-width="1.1"/>
<line x1="651.00" y1="516.48" x2="655.00" y2="516.48" stroke="#111" stroke-width="1.3"/>
<rect x="631.60" y="515.03" width="28.80" height="2.57" fill="rgb(120,188,120)" stroke="#1a1a1a" stroke-width="1.3" fill-opacity="0.64"/>
<rect x="670.80" y="515.67" width="7.00" height="1.93" fill="#c6c6c6"/>
<line x1="674.30" y1="515.67" x2="674.30" y2="514.39" stroke="#111" stroke-width="1.1"/>
<line x1="672.30" y1="514.39" x2="676.30" y2="514.39" stroke="#111" stroke-width="1.3"/>
<rect x="677.80" y="516.31" width="7.00" height="1.29" fill="#8e8e8e"/>
<line x1="681.30" y1="516.31" x2="681.30" y2="515.99" stroke="#111" stroke-width="1.1"/>
<line x1="679.30" y1="515.99" x2="683.30" y2="515.99" stroke="#111" stroke-width="1.3"/>
<rect x="684.80" y="516.80" width="7.00" height="0.80" fill="#5e5e5e"/>
<line x1="688.30" y1="516.80" x2="688.30" y2="516.48" stroke="#111" stroke-width="1.1"/>
<line x1="686.30" y1="516.48" x2="690.30" y2="516.48" stroke="#111" stroke-width="1.3"/>
<rect x="666.90" y="516.31" width="28.80" height="1.29" fill="rgb(120,188,120)" stroke="#1a1a1a" stroke-width="1.3" fill-opacity="0.64"/>
<rect x="706.00" y="513.58" width="7.00" height="4.02" fill="#c6c6c6"/>
<line x1="709.50" y1="513.58" x2="709.50" y2="512.30" stroke="#111" stroke-width="1.1"/>
<line x1="707.50" y1="512.30" x2="711.50" y2="512.30" stroke="#111" stroke-width="1.3"/>
<rect x="713.00" y="514.71" width="7.00" height="2.89" fill="#8e8e8e"/>
<line x1="716.50" y1="514.71" x2="716.50" y2="514.06" stroke="#111" stroke-width="1.1"/>
<line x1="714.50" y1="514.06" x2="718.50" y2="514.06" stroke="#111" stroke-width="1.3"/>
<rect x="720.00" y="515.99" width="7.00" height="1.61" fill="#5e5e5e"/>
<line x1="723.50" y1="515.99" x2="723.50" y2="515.35" stroke="#111" stroke-width="1.1"/>
<line x1="721.50" y1="515.35" x2="725.50" y2="515.35" stroke="#111" stroke-width="1.3"/>
<rect x="702.10" y="515.19" width="28.80" height="2.41" fill="rgb(120,188,120)" stroke="#1a1a1a" stroke-width="1.3" fill-opacity="0.64"/>
<rect x="551.40" y="410.60" width="190.30" height="111.70" fill="none" stroke="#1a1a1a" stroke-width="1.5"/>
<line x1="575.00" y1="522.30" x2="575.00" y2="525.80" stroke="#333" stroke-width="1"/>
<line x1="610.50" y1="522.30" x2="610.50" y2="525.80" stroke="#333" stroke-width="1"/>
<line x1="646.00" y1="522.30" x2="646.00" y2="525.80" stroke="#333" stroke-width="1"/>
<line x1="681.30" y1="522.30" x2="681.30" y2="525.80" stroke="#333" stroke-width="1"/>
<line x1="716.50" y1="522.30" x2="716.50" y2="525.80" stroke="#333" stroke-width="1"/>
<rect x="753.00" y="410.30" width="186.30" height="111.70" fill="#fff"/>
<line x1="753.00" y1="501.53" x2="939.30" y2="501.53" stroke="#f3f3f3" stroke-width="0.6"/>
<line x1="753.00" y1="469.39" x2="939.30" y2="469.39" stroke="#f3f3f3" stroke-width="0.6"/>
<line x1="753.00" y1="437.25" x2="939.30" y2="437.25" stroke="#f3f3f3" stroke-width="0.6"/>
<line x1="753.00" y1="517.60" x2="939.30" y2="517.60" stroke="#e4e4e4" stroke-width="0.7"/>
<line x1="753.00" y1="485.46" x2="939.30" y2="485.46" stroke="#e4e4e4" stroke-width="0.7"/>
<line x1="753.00" y1="453.32" x2="939.30" y2="453.32" stroke="#e4e4e4" stroke-width="0.7"/>
<line x1="753.00" y1="421.18" x2="939.30" y2="421.18" stroke="#e4e4e4" stroke-width="0.7"/>
<line x1="773.50" y1="410.30" x2="773.50" y2="522.00" stroke="#e4e4e4" stroke-width="0.7"/>
<line x1="809.50" y1="410.30" x2="809.50" y2="522.00" stroke="#e4e4e4" stroke-width="0.7"/>
<line x1="845.30" y1="410.30" x2="845.30" y2="522.00" stroke="#e4e4e4" stroke-width="0.7"/>
<line x1="881.00" y1="410.30" x2="881.00" y2="522.00" stroke="#e4e4e4" stroke-width="0.7"/>
<line x1="916.70" y1="410.30" x2="916.70" y2="522.00" stroke="#e4e4e4" stroke-width="0.7"/>
<rect x="763.00" y="477.43" width="7.00" height="40.18" fill="#c6c6c6"/>
<line x1="766.50" y1="477.43" x2="766.50" y2="474.53" stroke="#111" stroke-width="1.1"/>
<line x1="764.50" y1="474.53" x2="768.50" y2="474.53" stroke="#111" stroke-width="1.3"/>
<rect x="770.00" y="503.62" width="7.00" height="13.98" fill="#8e8e8e"/>
<line x1="773.50" y1="503.62" x2="773.50" y2="502.33" stroke="#111" stroke-width="1.1"/>
<line x1="771.50" y1="502.33" x2="775.50" y2="502.33" stroke="#111" stroke-width="1.3"/>
<rect x="777.00" y="459.59" width="7.00" height="58.01" fill="#5e5e5e"/>
<line x1="780.50" y1="459.59" x2="780.50" y2="456.21" stroke="#111" stroke-width="1.1"/>
<line x1="778.50" y1="456.21" x2="782.50" y2="456.21" stroke="#111" stroke-width="1.3"/>
<rect x="759.10" y="480.00" width="28.80" height="37.60" fill="rgb(120,188,120)" stroke="#1a1a1a" stroke-width="1.3" fill-opacity="0.64"/>
<rect x="799.00" y="446.89" width="7.00" height="70.71" fill="#c6c6c6"/>
<line x1="802.50" y1="446.89" x2="802.50" y2="444.00" stroke="#111" stroke-width="1.1"/>
<line x1="800.50" y1="444.00" x2="804.50" y2="444.00" stroke="#111" stroke-width="1.3"/>
<rect x="806.00" y="493.66" width="7.00" height="23.94" fill="#8e8e8e"/>
<line x1="809.50" y1="493.66" x2="809.50" y2="492.21" stroke="#111" stroke-width="1.1"/>
<line x1="807.50" y1="492.21" x2="811.50" y2="492.21" stroke="#111" stroke-width="1.3"/>
<rect x="813.00" y="473.57" width="7.00" height="44.03" fill="#5e5e5e"/>
<line x1="816.50" y1="473.57" x2="816.50" y2="470.84" stroke="#111" stroke-width="1.1"/>
<line x1="814.50" y1="470.84" x2="818.50" y2="470.84" stroke="#111" stroke-width="1.3"/>
<rect x="795.10" y="471.64" width="28.80" height="45.96" fill="rgb(120,188,120)" stroke="#1a1a1a" stroke-width="1.3" fill-opacity="0.64"/>
<rect x="834.80" y="436.13" width="7.00" height="81.47" fill="#c6c6c6"/>
<line x1="838.30" y1="436.13" x2="838.30" y2="432.43" stroke="#111" stroke-width="1.1"/>
<line x1="836.30" y1="432.43" x2="840.30" y2="432.43" stroke="#111" stroke-width="1.3"/>
<rect x="841.80" y="485.30" width="7.00" height="32.30" fill="#8e8e8e"/>
<line x1="845.30" y1="485.30" x2="845.30" y2="483.69" stroke="#111" stroke-width="1.1"/>
<line x1="843.30" y1="483.69" x2="847.30" y2="483.69" stroke="#111" stroke-width="1.3"/>
<rect x="848.80" y="445.61" width="7.00" height="71.99" fill="#5e5e5e"/>
<line x1="852.30" y1="445.61" x2="852.30" y2="442.87" stroke="#111" stroke-width="1.1"/>
<line x1="850.30" y1="442.87" x2="854.30" y2="442.87" stroke="#111" stroke-width="1.3"/>
<rect x="830.90" y="456.05" width="28.80" height="61.55" fill="rgb(120,188,120)" stroke="#1a1a1a" stroke-width="1.3" fill-opacity="0.64"/>
<rect x="870.50" y="460.23" width="7.00" height="57.37" fill="#c6c6c6"/>
<line x1="874.00" y1="460.23" x2="874.00" y2="456.53" stroke="#111" stroke-width="1.1"/>
<line x1="872.00" y1="456.53" x2="876.00" y2="456.53" stroke="#111" stroke-width="1.3"/>
<rect x="877.50" y="487.55" width="7.00" height="30.05" fill="#8e8e8e"/>
<line x1="881.00" y1="487.55" x2="881.00" y2="486.26" stroke="#111" stroke-width="1.1"/>
<line x1="879.00" y1="486.26" x2="883.00" y2="486.26" stroke="#111" stroke-width="1.3"/>
<rect x="884.50" y="479.51" width="7.00" height="38.09" fill="#5e5e5e"/>
<line x1="888.00" y1="479.51" x2="888.00" y2="477.43" stroke="#111" stroke-width="1.1"/>
<line x1="886.00" y1="477.43" x2="890.00" y2="477.43" stroke="#111" stroke-width="1.3"/>
<rect x="866.60" y="476.30" width="28.80" height="41.30" fill="rgb(120,188,120)" stroke="#1a1a1a" stroke-width="1.3" fill-opacity="0.64"/>
<rect x="906.20" y="463.60" width="7.00" height="54.00" fill="#c6c6c6"/>
<line x1="909.70" y1="463.60" x2="909.70" y2="458.94" stroke="#111" stroke-width="1.1"/>
<line x1="907.70" y1="458.94" x2="911.70" y2="458.94" stroke="#111" stroke-width="1.3"/>
<rect x="913.20" y="501.53" width="7.00" height="16.07" fill="#8e8e8e"/>
<line x1="916.70" y1="501.53" x2="916.70" y2="500.24" stroke="#111" stroke-width="1.1"/>
<line x1="914.70" y1="500.24" x2="918.70" y2="500.24" stroke="#111" stroke-width="1.3"/>
<rect x="920.20" y="499.60" width="7.00" height="18.00" fill="#5e5e5e"/>
<line x1="923.70" y1="499.60" x2="923.70" y2="498.32" stroke="#111" stroke-width="1.1"/>
<line x1="921.70" y1="498.32" x2="925.70" y2="498.32" stroke="#111" stroke-width="1.3"/>
<rect x="902.30" y="495.91" width="28.80" height="21.69" fill="rgb(120,188,120)" stroke="#1a1a1a" stroke-width="1.3" fill-opacity="0.64"/>
<rect x="753.00" y="410.30" width="186.30" height="111.70" fill="none" stroke="#1a1a1a" stroke-width="1.5"/>
<line x1="773.50" y1="522.00" x2="773.50" y2="525.50" stroke="#333" stroke-width="1"/>
<line x1="809.50" y1="522.00" x2="809.50" y2="525.50" stroke="#333" stroke-width="1"/>
<line x1="845.30" y1="522.00" x2="845.30" y2="525.50" stroke="#333" stroke-width="1"/>
<line x1="881.00" y1="522.00" x2="881.00" y2="525.50" stroke="#333" stroke-width="1"/>
<line x1="916.70" y1="522.00" x2="916.70" y2="525.50" stroke="#333" stroke-width="1"/>
<line x1="546.50" y1="517.60" x2="551.40" y2="517.60" stroke="#333" stroke-width="1"/>
<text x="545.0" y="522.4" font-size="13.6" text-anchor="end">0</text>
<line x1="546.50" y1="485.46" x2="551.40" y2="485.46" stroke="#333" stroke-width="1"/>
<text x="545.0" y="490.3" font-size="13.6" text-anchor="end">200</text>
<line x1="546.50" y1="453.32" x2="551.40" y2="453.32" stroke="#333" stroke-width="1"/>
<text x="545.0" y="458.1" font-size="13.6" text-anchor="end">400</text>
<line x1="546.50" y1="421.18" x2="551.40" y2="421.18" stroke="#333" stroke-width="1"/>
<text x="545.0" y="426.0" font-size="13.6" text-anchor="end">600</text>
<text transform="translate(494.5,467.5) rotate(-90)" x="0" y="0" font-size="13.6" text-anchor="middle">Mean aggrecan</text>
<text transform="translate(511.5,467.5) rotate(-90)" x="0" y="0" font-size="13.6" text-anchor="middle">RNA per cell</text>
<text x="575.0" y="541.8" font-size="13.6" text-anchor="middle">1</text>
<text x="610.5" y="541.8" font-size="13.6" text-anchor="middle">4</text>
<text x="646.0" y="541.8" font-size="13.6" text-anchor="middle">7</text>
<text x="681.3" y="541.8" font-size="13.6" text-anchor="middle">14</text>
<text x="716.5" y="541.8" font-size="13.6" text-anchor="middle">21</text>
<text x="773.5" y="541.8" font-size="13.6" text-anchor="middle">1</text>
<text x="809.5" y="541.8" font-size="13.6" text-anchor="middle">4</text>
<text x="845.3" y="541.8" font-size="13.6" text-anchor="middle">7</text>
<text x="881.0" y="541.8" font-size="13.6" text-anchor="middle">14</text>
<text x="916.7" y="541.8" font-size="13.6" text-anchor="middle">21</text>
<text x="749.0" y="560.0" font-size="13.6" text-anchor="middle">Days in agarose</text>
<rect x="560.00" y="413.00" width="47.60" height="73.00" fill="#fff" stroke="#1a1a1a" stroke-width="1.3"/>
<text x="564.7" y="427.5" font-size="11.3">Donor</text>
<rect x="564.00" y="431.60" width="17.00" height="16.80" fill="#c6c6c6"/>
<rect x="564.00" y="448.40" width="17.00" height="16.30" fill="#8e8e8e"/>
<rect x="564.00" y="464.70" width="17.00" height="17.20" fill="#5e5e5e"/>
<line x1="564.00" y1="448.40" x2="581.00" y2="448.40" stroke="#fff" stroke-width="0.6"/>
<line x1="564.00" y1="464.70" x2="581.00" y2="464.70" stroke="#fff" stroke-width="0.6"/>
<text x="584.0" y="444.6" font-size="11.3">A</text>
<text x="584.0" y="461.0" font-size="11.3">B</text>
<text x="584.0" y="477.2" font-size="11.3">C</text>
<path d="M773.1,421.2 L773.1,417.4 L916.9,417.4 L916.9,421.2" fill="none" stroke="#222" stroke-width="1.1"/>
<line x1="809.40" y1="417.40" x2="809.40" y2="421.20" stroke="#222" stroke-width="1.1"/>
<line x1="845.90" y1="417.40" x2="845.90" y2="421.20" stroke="#222" stroke-width="1.1"/>
<line x1="880.80" y1="417.40" x2="880.80" y2="421.20" stroke="#222" stroke-width="1.1"/>
<polygon points="843.10,411.20 843.83,413.19 845.95,413.27 844.29,414.59 844.86,416.63 843.10,415.45 841.34,416.63 841.91,414.59 840.25,413.27 842.37,413.19" fill="#000"/>
<polygon points="850.20,411.20 850.93,413.19 853.05,413.27 851.39,414.59 851.96,416.63 850.20,415.45 848.44,416.63 849.01,414.59 847.35,413.27 849.47,413.19" fill="#000"/>
<text x="1.2" y="591.0" font-size="19" fill="#000" font-weight="bold">f</text>
<rect x="53.80" y="599.60" width="167.80" height="106.70" fill="#fff"/>
<line x1="53.80" y1="687.90" x2="221.60" y2="687.90" stroke="#f2f2f2" stroke-width="0.6"/>
<line x1="53.80" y1="660.30" x2="221.60" y2="660.30" stroke="#f2f2f2" stroke-width="0.6"/>
<line x1="53.80" y1="632.70" x2="221.60" y2="632.70" stroke="#f2f2f2" stroke-width="0.6"/>
<line x1="53.80" y1="605.10" x2="221.60" y2="605.10" stroke="#f2f2f2" stroke-width="0.6"/>
<line x1="86.50" y1="599.60" x2="86.50" y2="706.30" stroke="#f2f2f2" stroke-width="0.6"/>
<line x1="128.70" y1="599.60" x2="128.70" y2="706.30" stroke="#f2f2f2" stroke-width="0.6"/>
<line x1="170.90" y1="599.60" x2="170.90" y2="706.30" stroke="#f2f2f2" stroke-width="0.6"/>
<line x1="213.10" y1="599.60" x2="213.10" y2="706.30" stroke="#f2f2f2" stroke-width="0.6"/>
<line x1="53.80" y1="701.70" x2="221.60" y2="701.70" stroke="#e2e2e2" stroke-width="0.7"/>
<line x1="53.80" y1="674.10" x2="221.60" y2="674.10" stroke="#e2e2e2" stroke-width="0.7"/>
<line x1="53.80" y1="646.50" x2="221.60" y2="646.50" stroke="#e2e2e2" stroke-width="0.7"/>
<line x1="53.80" y1="618.90" x2="221.60" y2="618.90" stroke="#e2e2e2" stroke-width="0.7"/>
<line x1="65.40" y1="599.60" x2="65.40" y2="706.30" stroke="#e2e2e2" stroke-width="0.7"/>
<line x1="107.60" y1="599.60" x2="107.60" y2="706.30" stroke="#e2e2e2" stroke-width="0.7"/>
<line x1="149.80" y1="599.60" x2="149.80" y2="706.30" stroke="#e2e2e2" stroke-width="0.7"/>
<line x1="192.00" y1="599.60" x2="192.00" y2="706.30" stroke="#e2e2e2" stroke-width="0.7"/>
<line x1="60.80" y1="701.70" x2="214.00" y2="701.70" stroke="#555" stroke-width="1.1"/>
<rect x="65.40" y="674.10" width="4.67" height="27.60" fill="#6db8a9" stroke="#1f3f3a" stroke-width="0.9"/>
<rect x="70.07" y="687.90" width="4.67" height="13.80" fill="#6db8a9" stroke="#1f3f3a" stroke-width="0.9"/>
<rect x="74.74" y="674.10" width="4.67" height="27.60" fill="#6db8a9" stroke="#1f3f3a" stroke-width="0.9"/>
<rect x="79.41" y="674.10" width="4.67" height="27.60" fill="#6db8a9" stroke="#1f3f3a" stroke-width="0.9"/>
<rect x="84.08" y="687.90" width="4.67" height="13.80" fill="#6db8a9" stroke="#1f3f3a" stroke-width="0.9"/>
<rect x="88.75" y="646.50" width="4.67" height="55.20" fill="#6db8a9" stroke="#1f3f3a" stroke-width="0.9"/>
<rect x="93.42" y="660.30" width="4.67" height="41.40" fill="#6db8a9" stroke="#1f3f3a" stroke-width="0.9"/>
<rect x="98.09" y="605.10" width="4.67" height="96.60" fill="#6db8a9" stroke="#1f3f3a" stroke-width="0.9"/>
<rect x="102.76" y="605.10" width="4.67" height="96.60" fill="#6db8a9" stroke="#1f3f3a" stroke-width="0.9"/>
<rect x="107.43" y="674.10" width="4.67" height="27.60" fill="#6db8a9" stroke="#1f3f3a" stroke-width="0.9"/>
<rect x="112.10" y="632.70" width="4.67" height="69.00" fill="#6db8a9" stroke="#1f3f3a" stroke-width="0.9"/>
<rect x="116.77" y="687.90" width="4.67" height="13.80" fill="#6db8a9" stroke="#1f3f3a" stroke-width="0.9"/>
<rect x="121.44" y="632.70" width="4.67" height="69.00" fill="#6db8a9" stroke="#1f3f3a" stroke-width="0.9"/>
<rect x="126.11" y="674.10" width="4.67" height="27.60" fill="#6db8a9" stroke="#1f3f3a" stroke-width="0.9"/>
<rect x="130.78" y="687.90" width="4.67" height="13.80" fill="#6db8a9" stroke="#1f3f3a" stroke-width="0.9"/>
<rect x="135.45" y="674.10" width="4.67" height="27.60" fill="#6db8a9" stroke="#1f3f3a" stroke-width="0.9"/>
<rect x="140.12" y="687.90" width="4.67" height="13.80" fill="#6db8a9" stroke="#1f3f3a" stroke-width="0.9"/>
<rect x="144.79" y="660.30" width="4.67" height="41.40" fill="#6db8a9" stroke="#1f3f3a" stroke-width="0.9"/>
<rect x="158.80" y="646.50" width="4.67" height="55.20" fill="#6db8a9" stroke="#1f3f3a" stroke-width="0.9"/>
<rect x="205.50" y="687.90" width="4.67" height="13.80" fill="#6db8a9" stroke="#1f3f3a" stroke-width="0.9"/>
<rect x="53.80" y="599.60" width="167.80" height="106.70" fill="none" stroke="#4a4a4a" stroke-width="1.1"/>
<rect x="53.80" y="710.60" width="167.80" height="105.90" fill="#fff"/>
<line x1="53.80" y1="800.30" x2="221.60" y2="800.30" stroke="#f2f2f2" stroke-width="0.6"/>
<line x1="53.80" y1="777.30" x2="221.60" y2="777.30" stroke="#f2f2f2" stroke-width="0.6"/>
<line x1="53.80" y1="754.30" x2="221.60" y2="754.30" stroke="#f2f2f2" stroke-width="0.6"/>
<line x1="53.80" y1="731.30" x2="221.60" y2="731.30" stroke="#f2f2f2" stroke-width="0.6"/>
<line x1="86.50" y1="710.60" x2="86.50" y2="816.50" stroke="#f2f2f2" stroke-width="0.6"/>
<line x1="128.70" y1="710.60" x2="128.70" y2="816.50" stroke="#f2f2f2" stroke-width="0.6"/>
<line x1="170.90" y1="710.60" x2="170.90" y2="816.50" stroke="#f2f2f2" stroke-width="0.6"/>
<line x1="213.10" y1="710.60" x2="213.10" y2="816.50" stroke="#f2f2f2" stroke-width="0.6"/>
<line x1="53.80" y1="811.80" x2="221.60" y2="811.80" stroke="#e2e2e2" stroke-width="0.7"/>
<line x1="53.80" y1="788.80" x2="221.60" y2="788.80" stroke="#e2e2e2" stroke-width="0.7"/>
<line x1="53.80" y1="765.80" x2="221.60" y2="765.80" stroke="#e2e2e2" stroke-width="0.7"/>
<line x1="53.80" y1="742.80" x2="221.60" y2="742.80" stroke="#e2e2e2" stroke-width="0.7"/>
<line x1="53.80" y1="719.80" x2="221.60" y2="719.80" stroke="#e2e2e2" stroke-width="0.7"/>
<line x1="65.40" y1="710.60" x2="65.40" y2="816.50" stroke="#e2e2e2" stroke-width="0.7"/>
<line x1="107.60" y1="710.60" x2="107.60" y2="816.50" stroke="#e2e2e2" stroke-width="0.7"/>
<line x1="149.80" y1="710.60" x2="149.80" y2="816.50" stroke="#e2e2e2" stroke-width="0.7"/>
<line x1="192.00" y1="710.60" x2="192.00" y2="816.50" stroke="#e2e2e2" stroke-width="0.7"/>
<line x1="60.80" y1="811.80" x2="214.00" y2="811.80" stroke="#555" stroke-width="1.1"/>
<rect x="65.40" y="715.20" width="4.67" height="96.60" fill="#6db8a9" stroke="#1f3f3a" stroke-width="0.9"/>
<rect x="70.07" y="765.80" width="4.67" height="46.00" fill="#6db8a9" stroke="#1f3f3a" stroke-width="0.9"/>
<rect x="74.74" y="793.40" width="4.67" height="18.40" fill="#6db8a9" stroke="#1f3f3a" stroke-width="0.9"/>
<rect x="79.41" y="798.00" width="4.67" height="13.80" fill="#6db8a9" stroke="#1f3f3a" stroke-width="0.9"/>
<rect x="88.75" y="798.00" width="4.67" height="13.80" fill="#6db8a9" stroke="#1f3f3a" stroke-width="0.9"/>
<rect x="93.42" y="802.60" width="4.67" height="9.20" fill="#6db8a9" stroke="#1f3f3a" stroke-width="0.9"/>
<rect x="98.09" y="798.00" width="4.67" height="13.80" fill="#6db8a9" stroke="#1f3f3a" stroke-width="0.9"/>
<rect x="121.44" y="807.20" width="4.67" height="4.60" fill="#6db8a9" stroke="#1f3f3a" stroke-width="0.9"/>
<rect x="168.14" y="807.20" width="4.67" height="4.60" fill="#6db8a9" stroke="#1f3f3a" stroke-width="0.9"/>
<rect x="177.48" y="807.20" width="4.67" height="4.60" fill="#6db8a9" stroke="#1f3f3a" stroke-width="0.9"/>
<rect x="53.80" y="710.60" width="167.80" height="105.90" fill="none" stroke="#4a4a4a" stroke-width="1.1"/>
<line x1="50.30" y1="701.70" x2="53.80" y2="701.70" stroke="#333" stroke-width="1"/>
<text x="47.5" y="706.5" font-size="13.6" text-anchor="end">0</text>
<line x1="50.30" y1="674.10" x2="53.80" y2="674.10" stroke="#333" stroke-width="1"/>
<text x="47.5" y="678.9" font-size="13.6" text-anchor="end">2</text>
<line x1="50.30" y1="646.50" x2="53.80" y2="646.50" stroke="#333" stroke-width="1"/>
<text x="47.5" y="651.3" font-size="13.6" text-anchor="end">4</text>
<line x1="50.30" y1="618.90" x2="53.80" y2="618.90" stroke="#333" stroke-width="1"/>
<text x="47.5" y="623.7" font-size="13.6" text-anchor="end">6</text>
<line x1="50.30" y1="811.80" x2="53.80" y2="811.80" stroke="#333" stroke-width="1"/>
<text x="47.5" y="816.6" font-size="13.6" text-anchor="end">0</text>
<line x1="50.30" y1="788.80" x2="53.80" y2="788.80" stroke="#333" stroke-width="1"/>
<text x="47.5" y="793.6" font-size="13.6" text-anchor="end">5</text>
<line x1="50.30" y1="765.80" x2="53.80" y2="765.80" stroke="#333" stroke-width="1"/>
<text x="47.5" y="770.6" font-size="13.6" text-anchor="end">10</text>
<line x1="50.30" y1="742.80" x2="53.80" y2="742.80" stroke="#333" stroke-width="1"/>
<text x="47.5" y="747.6" font-size="13.6" text-anchor="end">15</text>
<line x1="50.30" y1="719.80" x2="53.80" y2="719.80" stroke="#333" stroke-width="1"/>
<text x="47.5" y="724.6" font-size="13.6" text-anchor="end">20</text>
<line x1="65.40" y1="816.50" x2="65.40" y2="820.00" stroke="#333" stroke-width="1"/>
<text x="65.4" y="834.0" font-size="13.6" text-anchor="middle">0</text>
<line x1="107.60" y1="816.50" x2="107.60" y2="820.00" stroke="#333" stroke-width="1"/>
<text x="107.6" y="834.0" font-size="13.6" text-anchor="middle">200</text>
<line x1="149.80" y1="816.50" x2="149.80" y2="820.00" stroke="#333" stroke-width="1"/>
<text x="149.8" y="834.0" font-size="13.6" text-anchor="middle">400</text>
<line x1="192.00" y1="816.50" x2="192.00" y2="820.00" stroke="#333" stroke-width="1"/>
<text x="192.0" y="834.0" font-size="13.6" text-anchor="middle">600</text>
<text x="129.0" y="852.5" font-size="13.6" text-anchor="middle">Aggrecan mRNA</text>
<text transform="translate(23.0,708.5) rotate(-90)" x="0" y="0" font-size="13.6" text-anchor="middle">Number of cells</text>
<text x="219.0" y="615.0" font-size="13.6" text-anchor="end">Chondrocytes</text>
<text x="219.0" y="630.7" font-size="13.6" text-anchor="end">on glass</text>
<text x="219.0" y="724.5" font-size="13.6" text-anchor="end">MSCs on glass</text>
<text x="246.0" y="590.0" font-size="19" fill="#000" font-weight="bold">g</text>
<rect x="287.00" y="601.60" width="168.20" height="105.00" fill="#fff"/>
<line x1="287.00" y1="686.00" x2="455.20" y2="686.00" stroke="#f2f2f2" stroke-width="0.6"/>
<line x1="287.00" y1="654.20" x2="455.20" y2="654.20" stroke="#f2f2f2" stroke-width="0.6"/>
<line x1="287.00" y1="622.40" x2="455.20" y2="622.40" stroke="#f2f2f2" stroke-width="0.6"/>
<line x1="323.10" y1="601.60" x2="323.10" y2="706.60" stroke="#f2f2f2" stroke-width="0.6"/>
<line x1="371.30" y1="601.60" x2="371.30" y2="706.60" stroke="#f2f2f2" stroke-width="0.6"/>
<line x1="419.50" y1="601.60" x2="419.50" y2="706.60" stroke="#f2f2f2" stroke-width="0.6"/>
<line x1="287.00" y1="701.90" x2="455.20" y2="701.90" stroke="#e2e2e2" stroke-width="0.7"/>
<line x1="287.00" y1="670.10" x2="455.20" y2="670.10" stroke="#e2e2e2" stroke-width="0.7"/>
<line x1="287.00" y1="638.30" x2="455.20" y2="638.30" stroke="#e2e2e2" stroke-width="0.7"/>
<line x1="287.00" y1="606.50" x2="455.20" y2="606.50" stroke="#e2e2e2" stroke-width="0.7"/>
<line x1="299.00" y1="601.60" x2="299.00" y2="706.60" stroke="#e2e2e2" stroke-width="0.7"/>
<line x1="347.20" y1="601.60" x2="347.20" y2="706.60" stroke="#e2e2e2" stroke-width="0.7"/>
<line x1="395.40" y1="601.60" x2="395.40" y2="706.60" stroke="#e2e2e2" stroke-width="0.7"/>
<line x1="443.60" y1="601.60" x2="443.60" y2="706.60" stroke="#e2e2e2" stroke-width="0.7"/>
<line x1="293.00" y1="701.90" x2="450.00" y2="701.90" stroke="#555" stroke-width="1.1"/>
<rect x="299.00" y="651.02" width="4.83" height="50.88" fill="#8cc8a5" stroke="#2f4f3f" stroke-width="0.9"/>
<rect x="303.83" y="663.74" width="4.83" height="38.16" fill="#8cc8a5" stroke="#2f4f3f" stroke-width="0.9"/>
<rect x="308.66" y="606.50" width="4.83" height="95.40" fill="#8cc8a5" stroke="#2f4f3f" stroke-width="0.9"/>
<rect x="313.49" y="657.38" width="4.83" height="44.52" fill="#8cc8a5" stroke="#2f4f3f" stroke-width="0.9"/>
<rect x="318.32" y="619.22" width="4.83" height="82.68" fill="#8cc8a5" stroke="#2f4f3f" stroke-width="0.9"/>
<rect x="323.15" y="657.38" width="4.83" height="44.52" fill="#8cc8a5" stroke="#2f4f3f" stroke-width="0.9"/>
<rect x="327.98" y="663.74" width="4.83" height="38.16" fill="#8cc8a5" stroke="#2f4f3f" stroke-width="0.9"/>
<rect x="332.81" y="651.02" width="4.83" height="50.88" fill="#8cc8a5" stroke="#2f4f3f" stroke-width="0.9"/>
<rect x="337.64" y="644.66" width="4.83" height="57.24" fill="#8cc8a5" stroke="#2f4f3f" stroke-width="0.9"/>
<rect x="342.47" y="631.94" width="4.83" height="69.96" fill="#8cc8a5" stroke="#2f4f3f" stroke-width="0.9"/>
<rect x="347.30" y="676.46" width="4.83" height="25.44" fill="#8cc8a5" stroke="#2f4f3f" stroke-width="0.9"/>
<rect x="352.13" y="689.18" width="4.83" height="12.72" fill="#8cc8a5" stroke="#2f4f3f" stroke-width="0.9"/>
<rect x="356.96" y="695.54" width="4.83" height="6.36" fill="#8cc8a5" stroke="#2f4f3f" stroke-width="0.9"/>
<rect x="361.79" y="682.82" width="4.83" height="19.08" fill="#8cc8a5" stroke="#2f4f3f" stroke-width="0.9"/>
<rect x="366.62" y="695.54" width="4.83" height="6.36" fill="#8cc8a5" stroke="#2f4f3f" stroke-width="0.9"/>
<rect x="376.28" y="695.54" width="4.83" height="6.36" fill="#8cc8a5" stroke="#2f4f3f" stroke-width="0.9"/>
<rect x="390.77" y="689.18" width="4.83" height="12.72" fill="#8cc8a5" stroke="#2f4f3f" stroke-width="0.9"/>
<rect x="395.60" y="695.54" width="4.83" height="6.36" fill="#8cc8a5" stroke="#2f4f3f" stroke-width="0.9"/>
<rect x="287.00" y="601.60" width="168.20" height="105.00" fill="none" stroke="#4a4a4a" stroke-width="1.1"/>
<rect x="287.00" y="709.80" width="168.20" height="106.00" fill="#fff"/>
<line x1="287.00" y1="787.35" x2="455.20" y2="787.35" stroke="#f2f2f2" stroke-width="0.6"/>
<line x1="287.00" y1="739.45" x2="455.20" y2="739.45" stroke="#f2f2f2" stroke-width="0.6"/>
<line x1="323.10" y1="709.80" x2="323.10" y2="815.80" stroke="#f2f2f2" stroke-width="0.6"/>
<line x1="371.30" y1="709.80" x2="371.30" y2="815.80" stroke="#f2f2f2" stroke-width="0.6"/>
<line x1="419.50" y1="709.80" x2="419.50" y2="815.80" stroke="#f2f2f2" stroke-width="0.6"/>
<line x1="287.00" y1="811.30" x2="455.20" y2="811.30" stroke="#e2e2e2" stroke-width="0.7"/>
<line x1="287.00" y1="763.40" x2="455.20" y2="763.40" stroke="#e2e2e2" stroke-width="0.7"/>
<line x1="287.00" y1="715.50" x2="455.20" y2="715.50" stroke="#e2e2e2" stroke-width="0.7"/>
<line x1="299.00" y1="709.80" x2="299.00" y2="815.80" stroke="#e2e2e2" stroke-width="0.7"/>
<line x1="347.20" y1="709.80" x2="347.20" y2="815.80" stroke="#e2e2e2" stroke-width="0.7"/>
<line x1="395.40" y1="709.80" x2="395.40" y2="815.80" stroke="#e2e2e2" stroke-width="0.7"/>
<line x1="443.60" y1="709.80" x2="443.60" y2="815.80" stroke="#e2e2e2" stroke-width="0.7"/>
<line x1="293.00" y1="811.30" x2="450.00" y2="811.30" stroke="#555" stroke-width="1.1"/>
<rect x="299.00" y="734.66" width="4.83" height="76.64" fill="#468287" stroke="#1f3a3d" stroke-width="0.9"/>
<rect x="303.83" y="782.56" width="4.83" height="28.74" fill="#468287" stroke="#1f3a3d" stroke-width="0.9"/>
<rect x="313.49" y="763.40" width="4.83" height="47.90" fill="#468287" stroke="#1f3a3d" stroke-width="0.9"/>
<rect x="318.32" y="744.24" width="4.83" height="67.06" fill="#468287" stroke="#1f3a3d" stroke-width="0.9"/>
<rect x="323.15" y="715.50" width="4.83" height="95.80" fill="#468287" stroke="#1f3a3d" stroke-width="0.9"/>
<rect x="327.98" y="763.40" width="4.83" height="47.90" fill="#468287" stroke="#1f3a3d" stroke-width="0.9"/>
<rect x="332.81" y="744.24" width="4.83" height="67.06" fill="#468287" stroke="#1f3a3d" stroke-width="0.9"/>
<rect x="337.64" y="782.56" width="4.83" height="28.74" fill="#468287" stroke="#1f3a3d" stroke-width="0.9"/>
<rect x="342.47" y="772.98" width="4.83" height="38.32" fill="#468287" stroke="#1f3a3d" stroke-width="0.9"/>
<rect x="347.30" y="763.40" width="4.83" height="47.90" fill="#468287" stroke="#1f3a3d" stroke-width="0.9"/>
<rect x="352.13" y="801.72" width="4.83" height="9.58" fill="#468287" stroke="#1f3a3d" stroke-width="0.9"/>
<rect x="356.96" y="753.82" width="4.83" height="57.48" fill="#468287" stroke="#1f3a3d" stroke-width="0.9"/>
<rect x="361.79" y="763.40" width="4.83" height="47.90" fill="#468287" stroke="#1f3a3d" stroke-width="0.9"/>
<rect x="366.62" y="792.14" width="4.83" height="19.16" fill="#468287" stroke="#1f3a3d" stroke-width="0.9"/>
<rect x="381.11" y="801.72" width="4.83" height="9.58" fill="#468287" stroke="#1f3a3d" stroke-width="0.9"/>
<rect x="385.94" y="782.56" width="4.83" height="28.74" fill="#468287" stroke="#1f3a3d" stroke-width="0.9"/>
<rect x="390.77" y="801.72" width="4.83" height="9.58" fill="#468287" stroke="#1f3a3d" stroke-width="0.9"/>
<rect x="414.92" y="801.72" width="4.83" height="9.58" fill="#468287" stroke="#1f3a3d" stroke-width="0.9"/>
<rect x="424.58" y="801.72" width="4.83" height="9.58" fill="#468287" stroke="#1f3a3d" stroke-width="0.9"/>
<rect x="443.90" y="801.72" width="4.83" height="9.58" fill="#468287" stroke="#1f3a3d" stroke-width="0.9"/>
<rect x="287.00" y="709.80" width="168.20" height="106.00" fill="none" stroke="#4a4a4a" stroke-width="1.1"/>
<line x1="283.50" y1="701.90" x2="287.00" y2="701.90" stroke="#333" stroke-width="1"/>
<text x="282.5" y="706.7" font-size="13.6" text-anchor="end">0</text>
<line x1="283.50" y1="670.10" x2="287.00" y2="670.10" stroke="#333" stroke-width="1"/>
<text x="282.5" y="674.9" font-size="13.6" text-anchor="end">5</text>
<line x1="283.50" y1="638.30" x2="287.00" y2="638.30" stroke="#333" stroke-width="1"/>
<text x="282.5" y="643.1" font-size="13.6" text-anchor="end">10</text>
<line x1="283.50" y1="606.50" x2="287.00" y2="606.50" stroke="#333" stroke-width="1"/>
<text x="282.5" y="611.3" font-size="13.6" text-anchor="end">15</text>
<line x1="283.50" y1="811.30" x2="287.00" y2="811.30" stroke="#333" stroke-width="1"/>
<text x="282.5" y="816.1" font-size="13.6" text-anchor="end">0</text>
<line x1="283.50" y1="763.40" x2="287.00" y2="763.40" stroke="#333" stroke-width="1"/>
<text x="282.5" y="768.2" font-size="13.6" text-anchor="end">5</text>
<line x1="283.50" y1="715.50" x2="287.00" y2="715.50" stroke="#333" stroke-width="1"/>
<text x="282.5" y="720.3" font-size="13.6" text-anchor="end">10</text>
<line x1="299.00" y1="815.80" x2="299.00" y2="819.30" stroke="#333" stroke-width="1"/>
<text x="299.0" y="833.7" font-size="13.6" text-anchor="middle">0</text>
<line x1="347.20" y1="815.80" x2="347.20" y2="819.30" stroke="#333" stroke-width="1"/>
<text x="347.2" y="833.7" font-size="13.6" text-anchor="middle">400</text>
<line x1="395.40" y1="815.80" x2="395.40" y2="819.30" stroke="#333" stroke-width="1"/>
<text x="395.4" y="833.7" font-size="13.6" text-anchor="middle">800</text>
<line x1="443.60" y1="815.80" x2="443.60" y2="819.30" stroke="#333" stroke-width="1"/>
<text x="443.6" y="833.7" font-size="13.6" text-anchor="middle">1,200</text>
<text x="364.0" y="851.6" font-size="13.6" text-anchor="middle">Aggrecan mRNA</text>
<text transform="translate(258.0,708.4) rotate(-90)" x="0" y="0" font-size="13.6" text-anchor="middle">Number of cells</text>
<rect x="356.30" y="605.60" width="10.60" height="9.80" fill="#8cc8a5"/>
<text x="370.8" y="614.8" font-size="13.6">MSCs, day 1</text>
<text x="371.3" y="630.0" font-size="13.6">+TGFβ</text>
<rect x="352.30" y="715.00" width="11.40" height="10.60" fill="#468287"/>
<text x="366.9" y="724.3" font-size="13.6">MSCs, day 21</text>
<text x="366.9" y="739.6" font-size="13.6">+TGFβ</text>
<text x="480.5" y="590.0" font-size="19" fill="#000" font-weight="bold">h</text>
<rect x="540.90" y="599.60" width="176.40" height="216.30" fill="#fff"/>
<line x1="540.90" y1="774.90" x2="717.30" y2="774.90" stroke="#f2f2f2" stroke-width="0.6"/>
<line x1="540.90" y1="711.70" x2="717.30" y2="711.70" stroke="#f2f2f2" stroke-width="0.6"/>
<line x1="540.90" y1="648.50" x2="717.30" y2="648.50" stroke="#f2f2f2" stroke-width="0.6"/>
<line x1="540.90" y1="806.50" x2="717.30" y2="806.50" stroke="#e2e2e2" stroke-width="0.7"/>
<line x1="540.90" y1="743.30" x2="717.30" y2="743.30" stroke="#e2e2e2" stroke-width="0.7"/>
<line x1="540.90" y1="680.10" x2="717.30" y2="680.10" stroke="#e2e2e2" stroke-width="0.7"/>
<line x1="540.90" y1="616.90" x2="717.30" y2="616.90" stroke="#e2e2e2" stroke-width="0.7"/>
<line x1="573.60" y1="599.60" x2="573.60" y2="815.90" stroke="#e2e2e2" stroke-width="0.7"/>
<line x1="628.80" y1="599.60" x2="628.80" y2="815.90" stroke="#e2e2e2" stroke-width="0.7"/>
<line x1="684.30" y1="599.60" x2="684.30" y2="815.90" stroke="#e2e2e2" stroke-width="0.7"/>
<g fill="#82bf9e" opacity="0.85"><circle cx="576.01" cy="761.68" r="3.20" fill="#82bf9e"/><circle cx="571.45" cy="782.64" r="3.20" fill="#82bf9e"/><circle cx="566.20" cy="783.77" r="3.20" fill="#82bf9e"/><circle cx="567.05" cy="763.01" r="3.20" fill="#82bf9e"/><circle cx="567.58" cy="750.57" r="3.20" fill="#82bf9e"/><circle cx="580.76" cy="778.99" r="3.20" fill="#82bf9e"/><circle cx="581.22" cy="741.21" r="3.20" fill="#82bf9e"/><circle cx="570.23" cy="769.79" r="3.20" fill="#82bf9e"/><circle cx="570.54" cy="799.28" r="3.20" fill="#82bf9e"/><circle cx="574.91" cy="728.47" r="3.20" fill="#82bf9e"/><circle cx="574.36" cy="741.60" r="3.20" fill="#82bf9e"/><circle cx="568.90" cy="801.60" r="3.20" fill="#82bf9e"/><circle cx="570.63" cy="740.70" r="3.20" fill="#82bf9e"/><circle cx="570.40" cy="740.28" r="3.20" fill="#82bf9e"/><circle cx="569.51" cy="706.70" r="3.20" fill="#82bf9e"/><circle cx="579.60" cy="739.09" r="3.20" fill="#82bf9e"/><circle cx="581.28" cy="742.99" r="3.20" fill="#82bf9e"/><circle cx="577.71" cy="787.32" r="3.20" fill="#82bf9e"/><circle cx="566.23" cy="784.50" r="3.20" fill="#82bf9e"/><circle cx="574.77" cy="735.16" r="3.20" fill="#82bf9e"/><circle cx="576.72" cy="724.47" r="3.20" fill="#82bf9e"/><circle cx="572.90" cy="738.20" r="3.20" fill="#82bf9e"/><circle cx="573.19" cy="691.48" r="3.20" fill="#82bf9e"/><circle cx="576.82" cy="746.73" r="3.20" fill="#82bf9e"/><circle cx="578.75" cy="731.41" r="3.20" fill="#82bf9e"/><circle cx="576.30" cy="757.82" r="3.20" fill="#82bf9e"/><circle cx="568.29" cy="785.59" r="3.20" fill="#82bf9e"/><circle cx="577.89" cy="801.62" r="3.20" fill="#82bf9e"/><circle cx="571.86" cy="794.11" r="3.20" fill="#82bf9e"/><circle cx="572.79" cy="730.52" r="3.20" fill="#82bf9e"/><circle cx="578.71" cy="733.21" r="3.20" fill="#82bf9e"/><circle cx="572.24" cy="725.65" r="3.20" fill="#82bf9e"/><circle cx="580.92" cy="749.63" r="3.20" fill="#82bf9e"/><circle cx="569.31" cy="796.96" r="3.20" fill="#82bf9e"/><circle cx="575.03" cy="784.66" r="3.20" fill="#82bf9e"/><circle cx="572.30" cy="764.09" r="3.20" fill="#82bf9e"/><circle cx="580.85" cy="754.85" r="3.20" fill="#82bf9e"/><circle cx="575.48" cy="739.25" r="3.20" fill="#82bf9e"/><circle cx="579.99" cy="746.84" r="3.20" fill="#82bf9e"/><circle cx="578.37" cy="696.10" r="3.20" fill="#82bf9e"/><circle cx="567.26" cy="757.60" r="3.20" fill="#82bf9e"/><circle cx="566.68" cy="746.70" r="3.20" fill="#82bf9e"/><circle cx="571.04" cy="797.51" r="3.20" fill="#82bf9e"/><circle cx="568.02" cy="803.96" r="3.20" fill="#82bf9e"/><circle cx="566.01" cy="789.49" r="3.20" fill="#82bf9e"/><circle cx="567.98" cy="711.31" r="3.20" fill="#82bf9e"/><circle cx="571.43" cy="758.45" r="3.20" fill="#82bf9e"/><circle cx="581.49" cy="770.17" r="3.20" fill="#82bf9e"/><circle cx="566.97" cy="756.21" r="3.20" fill="#82bf9e"/><circle cx="569.84" cy="790.33" r="3.20" fill="#82bf9e"/><circle cx="565.97" cy="728.93" r="3.20" fill="#82bf9e"/><circle cx="567.95" cy="715.58" r="3.20" fill="#82bf9e"/><circle cx="574.05" cy="747.28" r="3.20" fill="#82bf9e"/><circle cx="576.74" cy="696.82" r="3.20" fill="#82bf9e"/><circle cx="568.27" cy="758.13" r="3.20" fill="#82bf9e"/><circle cx="578.06" cy="715.38" r="3.20" fill="#82bf9e"/><circle cx="578.58" cy="760.49" r="3.20" fill="#82bf9e"/><circle cx="578.50" cy="697.50" r="3.20" fill="#82bf9e"/><circle cx="569.23" cy="704.36" r="3.20" fill="#82bf9e"/><circle cx="566.06" cy="741.88" r="3.20" fill="#82bf9e"/><circle cx="569.75" cy="792.85" r="3.20" fill="#82bf9e"/><circle cx="572.76" cy="732.01" r="3.20" fill="#82bf9e"/><circle cx="580.88" cy="688.52" r="3.20" fill="#82bf9e"/><circle cx="569.23" cy="760.53" r="3.20" fill="#82bf9e"/><circle cx="575.59" cy="795.83" r="3.20" fill="#82bf9e"/><circle cx="573.27" cy="698.27" r="3.20" fill="#82bf9e"/><circle cx="566.96" cy="734.58" r="3.20" fill="#82bf9e"/><circle cx="578.12" cy="732.77" r="3.20" fill="#82bf9e"/><circle cx="568.46" cy="717.90" r="3.20" fill="#82bf9e"/><circle cx="578.41" cy="723.80" r="3.20" fill="#82bf9e"/><circle cx="572.02" cy="721.39" r="3.20" fill="#82bf9e"/><circle cx="568.32" cy="705.24" r="3.20" fill="#82bf9e"/><circle cx="635.28" cy="804.34" r="3.20" fill="#82bf9e"/><circle cx="634.02" cy="769.36" r="3.20" fill="#82bf9e"/><circle cx="626.41" cy="751.73" r="3.20" fill="#82bf9e"/><circle cx="621.03" cy="781.54" r="3.20" fill="#82bf9e"/><circle cx="629.23" cy="752.09" r="3.20" fill="#82bf9e"/><circle cx="634.75" cy="761.14" r="3.20" fill="#82bf9e"/><circle cx="624.83" cy="767.96" r="3.20" fill="#82bf9e"/><circle cx="630.18" cy="792.72" r="3.20" fill="#82bf9e"/><circle cx="622.90" cy="790.46" r="3.20" fill="#82bf9e"/><circle cx="628.13" cy="763.92" r="3.20" fill="#82bf9e"/><circle cx="627.53" cy="772.26" r="3.20" fill="#82bf9e"/><circle cx="629.31" cy="758.53" r="3.20" fill="#82bf9e"/><circle cx="627.84" cy="782.89" r="3.20" fill="#82bf9e"/><circle cx="633.59" cy="805.83" r="3.20" fill="#82bf9e"/><circle cx="632.40" cy="801.08" r="3.20" fill="#82bf9e"/><circle cx="629.09" cy="779.20" r="3.20" fill="#82bf9e"/><circle cx="622.50" cy="773.70" r="3.20" fill="#82bf9e"/><circle cx="625.23" cy="780.13" r="3.20" fill="#82bf9e"/><circle cx="629.79" cy="758.29" r="3.20" fill="#82bf9e"/><circle cx="627.89" cy="738.36" r="3.20" fill="#82bf9e"/><circle cx="628.99" cy="777.05" r="3.20" fill="#82bf9e"/><circle cx="629.33" cy="777.68" r="3.20" fill="#82bf9e"/><circle cx="631.99" cy="783.86" r="3.20" fill="#82bf9e"/><circle cx="624.95" cy="736.63" r="3.20" fill="#82bf9e"/><circle cx="634.24" cy="771.79" r="3.20" fill="#82bf9e"/><circle cx="627.87" cy="804.64" r="3.20" fill="#82bf9e"/><circle cx="621.97" cy="803.43" r="3.20" fill="#82bf9e"/><circle cx="635.15" cy="773.70" r="3.20" fill="#82bf9e"/><circle cx="631.36" cy="798.63" r="3.20" fill="#82bf9e"/><circle cx="636.28" cy="796.94" r="3.20" fill="#82bf9e"/><circle cx="627.17" cy="796.24" r="3.20" fill="#82bf9e"/><circle cx="634.12" cy="783.24" r="3.20" fill="#82bf9e"/><circle cx="629.05" cy="801.50" r="3.20" fill="#82bf9e"/><circle cx="625.90" cy="793.28" r="3.20" fill="#82bf9e"/><circle cx="629.66" cy="782.88" r="3.20" fill="#82bf9e"/><circle cx="626.10" cy="795.53" r="3.20" fill="#82bf9e"/><circle cx="621.83" cy="776.96" r="3.20" fill="#82bf9e"/><circle cx="636.35" cy="745.19" r="3.20" fill="#82bf9e"/><circle cx="621.43" cy="803.18" r="3.20" fill="#82bf9e"/><circle cx="622.87" cy="766.43" r="3.20" fill="#82bf9e"/><circle cx="633.90" cy="784.24" r="3.20" fill="#82bf9e"/><circle cx="635.51" cy="793.87" r="3.20" fill="#82bf9e"/><circle cx="622.23" cy="774.71" r="3.20" fill="#82bf9e"/><circle cx="627.61" cy="798.91" r="3.20" fill="#82bf9e"/><circle cx="630.95" cy="796.38" r="3.20" fill="#82bf9e"/><circle cx="634.50" cy="770.39" r="3.20" fill="#82bf9e"/><circle cx="628.06" cy="797.14" r="3.20" fill="#82bf9e"/><circle cx="635.63" cy="788.77" r="3.20" fill="#82bf9e"/><circle cx="629.23" cy="794.12" r="3.20" fill="#82bf9e"/><circle cx="623.38" cy="804.76" r="3.20" fill="#82bf9e"/><circle cx="625.79" cy="803.83" r="3.20" fill="#82bf9e"/><circle cx="625.44" cy="786.16" r="3.20" fill="#82bf9e"/><circle cx="626.35" cy="780.98" r="3.20" fill="#82bf9e"/><circle cx="621.05" cy="803.34" r="3.20" fill="#82bf9e"/><circle cx="623.83" cy="776.50" r="3.20" fill="#82bf9e"/><circle cx="678.00" cy="748.17" r="3.20" fill="#82bf9e"/><circle cx="684.22" cy="731.80" r="3.20" fill="#82bf9e"/><circle cx="684.41" cy="732.71" r="3.20" fill="#82bf9e"/><circle cx="681.78" cy="738.40" r="3.20" fill="#82bf9e"/><circle cx="686.48" cy="724.10" r="3.20" fill="#82bf9e"/><circle cx="677.17" cy="757.81" r="3.20" fill="#82bf9e"/><circle cx="688.15" cy="786.43" r="3.20" fill="#82bf9e"/><circle cx="677.65" cy="760.84" r="3.20" fill="#82bf9e"/><circle cx="687.03" cy="718.50" r="3.20" fill="#82bf9e"/><circle cx="680.99" cy="759.54" r="3.20" fill="#82bf9e"/><circle cx="683.43" cy="760.94" r="3.20" fill="#82bf9e"/><circle cx="691.86" cy="747.72" r="3.20" fill="#82bf9e"/><circle cx="691.75" cy="744.93" r="3.20" fill="#82bf9e"/><circle cx="676.32" cy="757.66" r="3.20" fill="#82bf9e"/><circle cx="684.34" cy="755.72" r="3.20" fill="#82bf9e"/><circle cx="676.38" cy="775.73" r="3.20" fill="#82bf9e"/><circle cx="682.69" cy="762.05" r="3.20" fill="#82bf9e"/><circle cx="681.17" cy="787.62" r="3.20" fill="#82bf9e"/><circle cx="684.77" cy="773.74" r="3.20" fill="#82bf9e"/><circle cx="687.76" cy="725.64" r="3.20" fill="#82bf9e"/><circle cx="681.52" cy="732.79" r="3.20" fill="#82bf9e"/><circle cx="687.89" cy="737.07" r="3.20" fill="#82bf9e"/><circle cx="689.66" cy="746.70" r="3.20" fill="#82bf9e"/><circle cx="688.04" cy="726.55" r="3.20" fill="#82bf9e"/><circle cx="684.68" cy="737.19" r="3.20" fill="#82bf9e"/><circle cx="689.17" cy="739.70" r="3.20" fill="#82bf9e"/><circle cx="690.59" cy="727.82" r="3.20" fill="#82bf9e"/><circle cx="679.98" cy="740.96" r="3.20" fill="#82bf9e"/><circle cx="682.07" cy="784.89" r="3.20" fill="#82bf9e"/><circle cx="685.24" cy="767.57" r="3.20" fill="#82bf9e"/><circle cx="687.19" cy="741.55" r="3.20" fill="#82bf9e"/><circle cx="689.06" cy="763.47" r="3.20" fill="#82bf9e"/><circle cx="684.86" cy="742.64" r="3.20" fill="#82bf9e"/><circle cx="688.09" cy="746.51" r="3.20" fill="#82bf9e"/><circle cx="680.55" cy="762.30" r="3.20" fill="#82bf9e"/><circle cx="688.14" cy="745.28" r="3.20" fill="#82bf9e"/><circle cx="682.42" cy="730.27" r="3.20" fill="#82bf9e"/><circle cx="688.57" cy="752.29" r="3.20" fill="#82bf9e"/><circle cx="677.54" cy="741.40" r="3.20" fill="#82bf9e"/><circle cx="688.19" cy="781.91" r="3.20" fill="#82bf9e"/><circle cx="676.50" cy="754.19" r="3.20" fill="#82bf9e"/><circle cx="687.05" cy="781.55" r="3.20" fill="#82bf9e"/><circle cx="680.95" cy="741.11" r="3.20" fill="#82bf9e"/><circle cx="683.76" cy="742.98" r="3.20" fill="#82bf9e"/><circle cx="679.49" cy="766.14" r="3.20" fill="#82bf9e"/><circle cx="676.58" cy="716.06" r="3.20" fill="#82bf9e"/><circle cx="691.79" cy="750.05" r="3.20" fill="#82bf9e"/><circle cx="679.66" cy="759.11" r="3.20" fill="#82bf9e"/><circle cx="577.10" cy="607.42" r="3.20" fill="#82bf9e"/><circle cx="568.60" cy="635.23" r="3.20" fill="#82bf9e"/><circle cx="575.60" cy="642.18" r="3.20" fill="#82bf9e"/><circle cx="577.60" cy="651.66" r="3.20" fill="#82bf9e"/><circle cx="570.60" cy="657.35" r="3.20" fill="#82bf9e"/><circle cx="571.60" cy="659.24" r="3.20" fill="#82bf9e"/><circle cx="578.60" cy="652.92" r="3.20" fill="#82bf9e"/><circle cx="578.60" cy="643.44" r="3.20" fill="#82bf9e"/><circle cx="577.60" cy="658.61" r="3.20" fill="#82bf9e"/><circle cx="681.30" cy="694.64" r="3.20" fill="#82bf9e"/></g>
<line x1="573.60" y1="731.29" x2="573.60" y2="687.68" stroke="#333" stroke-width="1.1"/>
<line x1="573.60" y1="764.16" x2="573.60" y2="803.97" stroke="#333" stroke-width="1.1"/>
<rect x="564.90" y="731.29" width="17.40" height="32.86" fill="#fff" stroke="#333" stroke-width="1.1" fill-opacity="0.72"/>
<line x1="564.90" y1="747.72" x2="582.30" y2="747.72" stroke="#333" stroke-width="1.1"/>
<line x1="628.80" y1="771.11" x2="628.80" y2="733.19" stroke="#333" stroke-width="1.1"/>
<line x1="628.80" y1="795.76" x2="628.80" y2="805.87" stroke="#333" stroke-width="1.1"/>
<rect x="620.10" y="771.11" width="17.40" height="24.65" fill="#fff" stroke="#333" stroke-width="1.1" fill-opacity="0.72"/>
<line x1="620.10" y1="783.12" x2="637.50" y2="783.12" stroke="#333" stroke-width="1.1"/>
<line x1="684.30" y1="738.24" x2="684.30" y2="713.60" stroke="#333" stroke-width="1.1"/>
<line x1="684.30" y1="763.52" x2="684.30" y2="788.17" stroke="#333" stroke-width="1.1"/>
<rect x="675.60" y="738.24" width="17.40" height="25.28" fill="#fff" stroke="#333" stroke-width="1.1" fill-opacity="0.72"/>
<line x1="675.60" y1="747.09" x2="693.00" y2="747.09" stroke="#333" stroke-width="1.1"/>
<circle cx="574.10" cy="607.42" r="3.20" fill="#000"/>
<circle cx="574.10" cy="634.60" r="3.20" fill="#000"/>
<circle cx="574.10" cy="642.18" r="3.20" fill="#000"/>
<circle cx="574.10" cy="651.66" r="3.20" fill="#000"/>
<circle cx="574.10" cy="656.72" r="3.20" fill="#000"/>
<circle cx="574.10" cy="658.61" r="3.20" fill="#000"/>
<circle cx="685.30" cy="693.37" r="3.20" fill="#000"/>
<line x1="540.90" y1="781.22" x2="717.30" y2="781.22" stroke="#444" stroke-width="1.1" stroke-dasharray="3.5 2.5"/>
<rect x="540.90" y="599.60" width="176.40" height="216.30" fill="none" stroke="#4a4a4a" stroke-width="1.1"/>
<line x1="537.00" y1="806.50" x2="540.90" y2="806.50" stroke="#333" stroke-width="1"/>
<text x="533.2" y="811.3" font-size="13.6" text-anchor="end">0</text>
<line x1="537.00" y1="743.30" x2="540.90" y2="743.30" stroke="#333" stroke-width="1"/>
<text x="533.2" y="748.1" font-size="13.6" text-anchor="end">500</text>
<line x1="537.00" y1="680.10" x2="540.90" y2="680.10" stroke="#333" stroke-width="1"/>
<text x="533.2" y="684.9" font-size="13.6" text-anchor="end">1,000</text>
<line x1="537.00" y1="616.90" x2="540.90" y2="616.90" stroke="#333" stroke-width="1"/>
<text x="533.2" y="621.7" font-size="13.6" text-anchor="end">1,500</text>
<line x1="573.60" y1="815.90" x2="573.60" y2="819.40" stroke="#333" stroke-width="1"/>
<text x="573.6" y="835.6" font-size="13.6" text-anchor="middle">A</text>
<line x1="628.80" y1="815.90" x2="628.80" y2="819.40" stroke="#333" stroke-width="1"/>
<text x="628.8" y="835.6" font-size="13.6" text-anchor="middle">B</text>
<line x1="684.30" y1="815.90" x2="684.30" y2="819.40" stroke="#333" stroke-width="1"/>
<text x="684.3" y="835.6" font-size="13.6" text-anchor="middle">C</text>
<text x="629.5" y="850.7" font-size="13.6" text-anchor="middle">Donor</text>
<text transform="translate(493.0,711.0) rotate(-90)" x="0" y="0" font-size="13.6" text-anchor="middle">Aggrecan mRNA</text>
<text x="631.6" y="612.7" font-size="13.6">MSCs, day 7</text>
<text x="631.6" y="628.5" font-size="13.6">+TGFβ</text>
<line x1="722.50" y1="781.50" x2="734.00" y2="781.50" stroke="#444" stroke-width="1.1"/>
<path d="M726,778 L721.5,781.5 L726,785" fill="none" stroke="#444" stroke-width="1.1"/>
<text x="738.0" y="776.2" font-size="13.6" fill="#444">Median of freshly isolated</text>
<text x="738.0" y="792.3" font-size="13.6" fill="#444">chondrocytes</text>
<text x="3.0" y="878.3" font-size="19" fill="#000" font-weight="bold">i</text>
<rect x="54.50" y="880.30" width="167.00" height="176.30" fill="#fff"/>
<line x1="54.50" y1="1029.55" x2="221.50" y2="1029.55" stroke="#f2f2f2" stroke-width="0.6"/>
<line x1="54.50" y1="989.05" x2="221.50" y2="989.05" stroke="#f2f2f2" stroke-width="0.6"/>
<line x1="54.50" y1="948.55" x2="221.50" y2="948.55" stroke="#f2f2f2" stroke-width="0.6"/>
<line x1="54.50" y1="908.05" x2="221.50" y2="908.05" stroke="#f2f2f2" stroke-width="0.6"/>
<line x1="77.60" y1="880.30" x2="77.60" y2="1056.60" stroke="#f2f2f2" stroke-width="0.6"/>
<line x1="109.60" y1="880.30" x2="109.60" y2="1056.60" stroke="#f2f2f2" stroke-width="0.6"/>
<line x1="141.60" y1="880.30" x2="141.60" y2="1056.60" stroke="#f2f2f2" stroke-width="0.6"/>
<line x1="173.60" y1="880.30" x2="173.60" y2="1056.60" stroke="#f2f2f2" stroke-width="0.6"/>
<line x1="205.60" y1="880.30" x2="205.60" y2="1056.60" stroke="#f2f2f2" stroke-width="0.6"/>
<line x1="54.50" y1="1049.80" x2="221.50" y2="1049.80" stroke="#e2e2e2" stroke-width="0.7"/>
<line x1="54.50" y1="1009.30" x2="221.50" y2="1009.30" stroke="#e2e2e2" stroke-width="0.7"/>
<line x1="54.50" y1="968.80" x2="221.50" y2="968.80" stroke="#e2e2e2" stroke-width="0.7"/>
<line x1="54.50" y1="928.30" x2="221.50" y2="928.30" stroke="#e2e2e2" stroke-width="0.7"/>
<line x1="54.50" y1="887.80" x2="221.50" y2="887.80" stroke="#e2e2e2" stroke-width="0.7"/>
<line x1="61.60" y1="880.30" x2="61.60" y2="1056.60" stroke="#e2e2e2" stroke-width="0.7"/>
<line x1="93.60" y1="880.30" x2="93.60" y2="1056.60" stroke="#e2e2e2" stroke-width="0.7"/>
<line x1="125.60" y1="880.30" x2="125.60" y2="1056.60" stroke="#e2e2e2" stroke-width="0.7"/>
<line x1="157.60" y1="880.30" x2="157.60" y2="1056.60" stroke="#e2e2e2" stroke-width="0.7"/>
<line x1="189.60" y1="880.30" x2="189.60" y2="1056.60" stroke="#e2e2e2" stroke-width="0.7"/>
<line x1="221.60" y1="880.30" x2="221.60" y2="1056.60" stroke="#e2e2e2" stroke-width="0.7"/>
<g fill="#86c6a0"><circle cx="159.7" cy="907.5" r="2.15"/><circle cx="103.4" cy="931.0" r="2.15"/><circle cx="122.4" cy="931.5" r="2.15"/><circle cx="130.4" cy="937.2" r="2.15"/><circle cx="148.1" cy="938.3" r="2.15"/><circle cx="106.7" cy="946.2" r="2.15"/><circle cx="119.7" cy="948.9" r="2.15"/><circle cx="96.6" cy="957.8" r="2.15"/><circle cx="108.5" cy="959.9" r="2.15"/><circle cx="113.7" cy="958.7" r="2.15"/><circle cx="86.5" cy="971.1" r="2.15"/><circle cx="90.4" cy="969.7" r="2.15"/><circle cx="106.7" cy="970.2" r="2.15"/><circle cx="63.8" cy="978.6" r="2.15"/><circle cx="93.1" cy="978.9" r="2.15"/><circle cx="101.1" cy="975.0" r="2.15"/><circle cx="93.1" cy="986.2" r="2.15"/><circle cx="98.0" cy="987.1" r="2.15"/><circle cx="101.1" cy="985.3" r="2.15"/><circle cx="96.6" cy="993.7" r="2.15"/><circle cx="67.3" cy="998.1" r="2.15"/><circle cx="71.8" cy="1001.8" r="2.15"/><circle cx="104.6" cy="997.2" r="2.15"/><circle cx="107.3" cy="999.0" r="2.15"/><circle cx="109.1" cy="996.3" r="2.15"/><circle cx="115.6" cy="996.3" r="2.15"/><circle cx="110.5" cy="1002.9" r="2.15"/><circle cx="125.0" cy="1000.1" r="2.15"/><circle cx="132.5" cy="1000.1" r="2.15"/><circle cx="162.0" cy="1005.0" r="2.15"/><circle cx="82.4" cy="1007.0" r="2.15"/><circle cx="75.3" cy="1010.5" r="2.15"/><circle cx="115.3" cy="1005.4" r="2.15"/><circle cx="110.8" cy="1014.1" r="2.15"/><circle cx="109.4" cy="1010.5" r="2.15"/><circle cx="62.5" cy="1014.3" r="2.15"/><circle cx="65.2" cy="1012.7" r="2.15"/><circle cx="77.1" cy="1015.3" r="2.15"/><circle cx="86.9" cy="1018.9" r="2.15"/><circle cx="82.9" cy="1017.6" r="2.15"/><circle cx="99.8" cy="1016.8" r="2.15"/><circle cx="70.9" cy="1021.4" r="2.15"/><circle cx="64.7" cy="1025.6" r="2.15"/><circle cx="73.5" cy="1030.1" r="2.15"/><circle cx="66.1" cy="1029.2" r="2.15"/><circle cx="80.6" cy="1026.2" r="2.15"/><circle cx="86.5" cy="1024.7" r="2.15"/><circle cx="80.6" cy="1031.0" r="2.15"/><circle cx="82.4" cy="1036.3" r="2.15"/><circle cx="85.1" cy="1038.1" r="2.15"/><circle cx="71.8" cy="1036.3" r="2.15"/><circle cx="73.5" cy="1039.8" r="2.15"/><circle cx="75.3" cy="1041.6" r="2.15"/><circle cx="72.6" cy="1035.4" r="2.15"/><circle cx="101.1" cy="1032.7" r="2.15"/><circle cx="103.7" cy="1034.5" r="2.15"/><circle cx="108.2" cy="1033.6" r="2.15"/><circle cx="115.3" cy="1033.6" r="2.15"/><circle cx="163.6" cy="1036.6" r="2.15"/><circle cx="62.0" cy="1042.0" r="2.15"/><circle cx="87.7" cy="1040.7" r="2.15"/><circle cx="92.2" cy="1042.5" r="2.15"/><circle cx="112.6" cy="1041.6" r="2.15"/><circle cx="104.6" cy="1046.4" r="2.15"/><circle cx="76.2" cy="1045.2" r="2.15"/><circle cx="78.9" cy="1040.7" r="2.15"/><circle cx="70.9" cy="1040.7" r="2.15"/></g><g fill="#3a7a80"><circle cx="121.1" cy="888.9" r="2.15"/><circle cx="112.6" cy="964.9" r="2.15"/><circle cx="112.6" cy="966.1" r="2.15"/><circle cx="135.3" cy="960.8" r="2.15"/><circle cx="134.5" cy="961.7" r="2.15"/><circle cx="126.8" cy="978.6" r="2.15"/><circle cx="128.6" cy="976.8" r="2.15"/><circle cx="155.2" cy="985.7" r="2.15"/><circle cx="154.0" cy="987.8" r="2.15"/><circle cx="184.5" cy="988.3" r="2.15"/><circle cx="129.8" cy="995.1" r="2.15"/><circle cx="128.2" cy="1001.3" r="2.15"/><circle cx="94.3" cy="1000.1" r="2.15"/><circle cx="89.5" cy="1007.9" r="2.15"/><circle cx="97.5" cy="1010.9" r="2.15"/><circle cx="91.3" cy="1012.3" r="2.15"/><circle cx="92.2" cy="1009.6" r="2.15"/><circle cx="108.2" cy="1008.4" r="2.15"/><circle cx="117.4" cy="1007.0" r="2.15"/><circle cx="150.4" cy="1010.9" r="2.15"/><circle cx="83.8" cy="1026.5" r="2.15"/><circle cx="91.3" cy="1027.4" r="2.15"/><circle cx="89.5" cy="1031.0" r="2.15"/><circle cx="87.7" cy="1034.2" r="2.15"/><circle cx="113.5" cy="1026.7" r="2.15"/><circle cx="125.6" cy="1024.7" r="2.15"/><circle cx="130.0" cy="1027.4" r="2.15"/><circle cx="128.2" cy="1031.8" r="2.15"/><circle cx="159.5" cy="1026.7" r="2.15"/><circle cx="102.8" cy="1035.4" r="2.15"/><circle cx="101.6" cy="1033.6" r="2.15"/><circle cx="65.5" cy="1037.4" r="2.15"/><circle cx="97.5" cy="1043.0" r="2.15"/><circle cx="137.8" cy="1040.4" r="2.15"/><circle cx="91.3" cy="1046.1" r="2.15"/><circle cx="92.7" cy="1046.6" r="2.15"/><circle cx="124.2" cy="1045.2" r="2.15"/><circle cx="108.2" cy="1047.8" r="2.15"/><circle cx="111.7" cy="1046.9" r="2.15"/><circle cx="115.3" cy="1047.8" r="2.15"/><circle cx="83.3" cy="1047.8" r="2.15"/><circle cx="86.0" cy="1046.9" r="2.15"/><circle cx="62.0" cy="1050.5" r="2.15"/><circle cx="63.8" cy="1050.5" r="2.15"/><circle cx="65.5" cy="1050.5" r="2.15"/><circle cx="67.3" cy="1050.5" r="2.15"/><circle cx="69.1" cy="1050.5" r="2.15"/><circle cx="70.9" cy="1050.5" r="2.15"/><circle cx="72.6" cy="1050.5" r="2.15"/><circle cx="78.9" cy="1050.5" r="2.15"/><circle cx="80.6" cy="1050.5" r="2.15"/><circle cx="82.4" cy="1050.5" r="2.15"/><circle cx="84.2" cy="1050.5" r="2.15"/><circle cx="86.0" cy="1050.5" r="2.15"/><circle cx="87.7" cy="1050.5" r="2.15"/><circle cx="94.0" cy="1050.5" r="2.15"/><circle cx="99.3" cy="1050.5" r="2.15"/><circle cx="101.1" cy="1050.5" r="2.15"/><circle cx="102.8" cy="1050.5" r="2.15"/><circle cx="104.6" cy="1050.5" r="2.15"/><circle cx="105.5" cy="1050.5" r="2.15"/><circle cx="109.1" cy="1050.5" r="2.15"/><circle cx="112.6" cy="1050.5" r="2.15"/><circle cx="115.3" cy="1050.5" r="2.15"/><circle cx="132.7" cy="1050.5" r="2.15"/><circle cx="156.7" cy="1050.5" r="2.15"/><circle cx="197.9" cy="1050.5" r="2.15"/><circle cx="214.4" cy="1050.5" r="2.15"/></g>
<rect x="54.50" y="880.30" width="167.00" height="176.30" fill="none" stroke="#4a4a4a" stroke-width="1.1"/>
<line x1="61.60" y1="1056.60" x2="61.60" y2="1060.10" stroke="#333" stroke-width="1"/>
<text x="61.6" y="1075.0" font-size="13.6" text-anchor="middle">0</text>
<line x1="93.60" y1="1056.60" x2="93.60" y2="1060.10" stroke="#333" stroke-width="1"/>
<text x="93.6" y="1075.0" font-size="13.6" text-anchor="middle">250</text>
<line x1="125.60" y1="1056.60" x2="125.60" y2="1060.10" stroke="#333" stroke-width="1"/>
<text x="125.6" y="1075.0" font-size="13.6" text-anchor="middle">500</text>
<line x1="157.60" y1="1056.60" x2="157.60" y2="1060.10" stroke="#333" stroke-width="1"/>
<text x="157.6" y="1075.0" font-size="13.6" text-anchor="middle">750</text>
<line x1="189.60" y1="1056.60" x2="189.60" y2="1060.10" stroke="#333" stroke-width="1"/>
<text x="189.6" y="1075.0" font-size="13.6" text-anchor="middle">1,000</text>
<line x1="221.60" y1="1056.60" x2="221.60" y2="1060.10" stroke="#333" stroke-width="1"/>
<text x="221.6" y="1075.0" font-size="13.6" text-anchor="middle">1,250</text>
<line x1="51.00" y1="1049.80" x2="54.50" y2="1049.80" stroke="#333" stroke-width="1"/>
<text x="48.2" y="1054.6" font-size="13.6" text-anchor="end">0</text>
<line x1="51.00" y1="1009.30" x2="54.50" y2="1009.30" stroke="#333" stroke-width="1"/>
<text x="48.2" y="1014.1" font-size="13.6" text-anchor="end">200</text>
<line x1="51.00" y1="968.80" x2="54.50" y2="968.80" stroke="#333" stroke-width="1"/>
<text x="48.2" y="973.6" font-size="13.6" text-anchor="end">400</text>
<line x1="51.00" y1="928.30" x2="54.50" y2="928.30" stroke="#333" stroke-width="1"/>
<text x="48.2" y="933.1" font-size="13.6" text-anchor="end">600</text>
<line x1="51.00" y1="887.80" x2="54.50" y2="887.80" stroke="#333" stroke-width="1"/>
<text x="48.2" y="892.6" font-size="13.6" text-anchor="end">800</text>
<text x="139.5" y="1095.4" font-size="13.6" text-anchor="middle">Aggrecan mRNA</text>
<text transform="translate(13.5,969.0) rotate(-90)" x="0" y="0" font-size="13.6" text-anchor="middle">Osteopontin mRNA</text>
<rect x="162.40" y="882.30" width="58.30" height="50.00" fill="#fff" stroke="#555" stroke-width="1.0"/>
<text x="217.5" y="897.3" font-size="13.2" text-anchor="end">+TGFβ</text>
<circle cx="168.70" cy="908.20" r="2.60" fill="#86c6a0"/>
<text x="175.0" y="912.1" font-size="13.2">Day 1</text>
<circle cx="168.70" cy="922.50" r="2.60" fill="#3a7a80"/>
<text x="175.0" y="926.6" font-size="13.2">Day 21</text>
<rect x="285.70" y="879.80" width="172.60" height="177.10" fill="#fff"/>
<line x1="285.70" y1="1018.70" x2="458.30" y2="1018.70" stroke="#f2f2f2" stroke-width="0.6"/>
<line x1="285.70" y1="956.50" x2="458.30" y2="956.50" stroke="#f2f2f2" stroke-width="0.6"/>
<line x1="285.70" y1="894.30" x2="458.30" y2="894.30" stroke="#f2f2f2" stroke-width="0.6"/>
<line x1="309.90" y1="879.80" x2="309.90" y2="1056.90" stroke="#f2f2f2" stroke-width="0.6"/>
<line x1="342.90" y1="879.80" x2="342.90" y2="1056.90" stroke="#f2f2f2" stroke-width="0.6"/>
<line x1="375.90" y1="879.80" x2="375.90" y2="1056.90" stroke="#f2f2f2" stroke-width="0.6"/>
<line x1="408.90" y1="879.80" x2="408.90" y2="1056.90" stroke="#f2f2f2" stroke-width="0.6"/>
<line x1="441.90" y1="879.80" x2="441.90" y2="1056.90" stroke="#f2f2f2" stroke-width="0.6"/>
<line x1="285.70" y1="1049.80" x2="458.30" y2="1049.80" stroke="#e2e2e2" stroke-width="0.7"/>
<line x1="285.70" y1="987.60" x2="458.30" y2="987.60" stroke="#e2e2e2" stroke-width="0.7"/>
<line x1="285.70" y1="925.40" x2="458.30" y2="925.40" stroke="#e2e2e2" stroke-width="0.7"/>
<line x1="293.40" y1="879.80" x2="293.40" y2="1056.90" stroke="#e2e2e2" stroke-width="0.7"/>
<line x1="326.40" y1="879.80" x2="326.40" y2="1056.90" stroke="#e2e2e2" stroke-width="0.7"/>
<line x1="359.40" y1="879.80" x2="359.40" y2="1056.90" stroke="#e2e2e2" stroke-width="0.7"/>
<line x1="392.40" y1="879.80" x2="392.40" y2="1056.90" stroke="#e2e2e2" stroke-width="0.7"/>
<line x1="425.40" y1="879.80" x2="425.40" y2="1056.90" stroke="#e2e2e2" stroke-width="0.7"/>
<line x1="458.40" y1="879.80" x2="458.40" y2="1056.90" stroke="#e2e2e2" stroke-width="0.7"/>
<g fill="#86c6a0"><circle cx="310.0" cy="888.1" r="2.15"/><circle cx="348.9" cy="888.1" r="2.15"/><circle cx="315.5" cy="937.8" r="2.15"/><circle cx="299.1" cy="975.2" r="2.15"/><circle cx="342.7" cy="975.2" r="2.15"/><circle cx="348.9" cy="975.2" r="2.15"/><circle cx="305.6" cy="987.6" r="2.15"/><circle cx="316.9" cy="987.6" r="2.15"/><circle cx="341.1" cy="987.6" r="2.15"/><circle cx="353.8" cy="987.6" r="2.15"/><circle cx="304.7" cy="1000.0" r="2.15"/><circle cx="314.2" cy="1000.0" r="2.15"/><circle cx="325.5" cy="1000.0" r="2.15"/><circle cx="342.5" cy="1000.0" r="2.15"/><circle cx="364.2" cy="1000.0" r="2.15"/><circle cx="368.7" cy="1000.0" r="2.15"/><circle cx="305.6" cy="1012.5" r="2.15"/><circle cx="307.5" cy="1012.5" r="2.15"/><circle cx="311.5" cy="1012.5" r="2.15"/><circle cx="319.1" cy="1012.5" r="2.15"/><circle cx="323.3" cy="1012.5" r="2.15"/><circle cx="330.2" cy="1012.5" r="2.15"/><circle cx="336.9" cy="1012.5" r="2.15"/><circle cx="359.6" cy="1012.5" r="2.15"/><circle cx="296.5" cy="1024.9" r="2.15"/><circle cx="300.2" cy="1024.9" r="2.15"/><circle cx="303.3" cy="1024.9" r="2.15"/><circle cx="306.0" cy="1024.9" r="2.15"/><circle cx="308.7" cy="1024.9" r="2.15"/><circle cx="316.0" cy="1024.9" r="2.15"/><circle cx="331.4" cy="1024.9" r="2.15"/><circle cx="333.3" cy="1024.9" r="2.15"/><circle cx="337.8" cy="1024.9" r="2.15"/><circle cx="342.4" cy="1024.9" r="2.15"/><circle cx="349.6" cy="1024.9" r="2.15"/><circle cx="306.0" cy="1037.4" r="2.15"/><circle cx="307.8" cy="1037.4" r="2.15"/><circle cx="320.5" cy="1037.4" r="2.15"/><circle cx="343.8" cy="1037.4" r="2.15"/><circle cx="397.8" cy="1037.4" r="2.15"/><circle cx="307.5" cy="1049.8" r="2.15"/><circle cx="367.8" cy="1049.8" r="2.15"/><circle cx="383.3" cy="1049.8" r="2.15"/><circle cx="396.0" cy="1049.8" r="2.15"/><circle cx="399.6" cy="1049.8" r="2.15"/></g><g fill="#3a7a80"><circle cx="346.0" cy="1012.5" r="2.15"/><circle cx="347.3" cy="1012.5" r="2.15"/><circle cx="294.2" cy="1024.9" r="2.15"/><circle cx="322.0" cy="1024.9" r="2.15"/><circle cx="323.3" cy="1024.9" r="2.15"/><circle cx="358.4" cy="1024.9" r="2.15"/><circle cx="315.5" cy="1037.4" r="2.15"/><circle cx="323.3" cy="1037.4" r="2.15"/><circle cx="325.1" cy="1037.4" r="2.15"/><circle cx="327.5" cy="1037.4" r="2.15"/><circle cx="334.2" cy="1037.4" r="2.15"/><circle cx="340.2" cy="1037.4" r="2.15"/><circle cx="345.6" cy="1037.4" r="2.15"/><circle cx="360.0" cy="1037.4" r="2.15"/><circle cx="363.3" cy="1037.4" r="2.15"/><circle cx="366.0" cy="1037.4" r="2.15"/><circle cx="370.2" cy="1037.4" r="2.15"/><circle cx="395.1" cy="1037.4" r="2.15"/><circle cx="294.2" cy="1049.8" r="2.15"/><circle cx="296.0" cy="1049.8" r="2.15"/><circle cx="297.8" cy="1049.8" r="2.15"/><circle cx="299.6" cy="1049.8" r="2.15"/><circle cx="301.5" cy="1049.8" r="2.15"/><circle cx="303.3" cy="1049.8" r="2.15"/><circle cx="305.1" cy="1049.8" r="2.15"/><circle cx="311.5" cy="1049.8" r="2.15"/><circle cx="313.3" cy="1049.8" r="2.15"/><circle cx="315.1" cy="1049.8" r="2.15"/><circle cx="316.9" cy="1049.8" r="2.15"/><circle cx="318.7" cy="1049.8" r="2.15"/><circle cx="320.5" cy="1049.8" r="2.15"/><circle cx="322.4" cy="1049.8" r="2.15"/><circle cx="324.2" cy="1049.8" r="2.15"/><circle cx="326.0" cy="1049.8" r="2.15"/><circle cx="327.8" cy="1049.8" r="2.15"/><circle cx="330.5" cy="1049.8" r="2.15"/><circle cx="332.4" cy="1049.8" r="2.15"/><circle cx="334.2" cy="1049.8" r="2.15"/><circle cx="336.0" cy="1049.8" r="2.15"/><circle cx="337.8" cy="1049.8" r="2.15"/><circle cx="341.4" cy="1049.8" r="2.15"/><circle cx="345.1" cy="1049.8" r="2.15"/><circle cx="346.9" cy="1049.8" r="2.15"/><circle cx="348.7" cy="1049.8" r="2.15"/><circle cx="350.5" cy="1049.8" r="2.15"/><circle cx="352.4" cy="1049.8" r="2.15"/><circle cx="356.0" cy="1049.8" r="2.15"/><circle cx="357.8" cy="1049.8" r="2.15"/><circle cx="361.4" cy="1049.8" r="2.15"/><circle cx="363.3" cy="1049.8" r="2.15"/><circle cx="365.1" cy="1049.8" r="2.15"/><circle cx="372.4" cy="1049.8" r="2.15"/><circle cx="385.6" cy="1049.8" r="2.15"/><circle cx="388.7" cy="1049.8" r="2.15"/><circle cx="390.5" cy="1049.8" r="2.15"/><circle cx="392.4" cy="1049.8" r="2.15"/><circle cx="420.5" cy="1049.8" r="2.15"/><circle cx="434.7" cy="1049.8" r="2.15"/><circle cx="451.4" cy="1049.8" r="2.15"/></g>
<rect x="285.70" y="879.80" width="172.60" height="177.10" fill="none" stroke="#4a4a4a" stroke-width="1.1"/>
<line x1="293.40" y1="1056.90" x2="293.40" y2="1060.40" stroke="#333" stroke-width="1"/>
<text x="293.4" y="1075.0" font-size="13.6" text-anchor="middle">0</text>
<line x1="326.40" y1="1056.90" x2="326.40" y2="1060.40" stroke="#333" stroke-width="1"/>
<text x="326.4" y="1075.0" font-size="13.6" text-anchor="middle">250</text>
<line x1="359.40" y1="1056.90" x2="359.40" y2="1060.40" stroke="#333" stroke-width="1"/>
<text x="359.4" y="1075.0" font-size="13.6" text-anchor="middle">500</text>
<line x1="392.40" y1="1056.90" x2="392.40" y2="1060.40" stroke="#333" stroke-width="1"/>
<text x="392.4" y="1075.0" font-size="13.6" text-anchor="middle">750</text>
<line x1="425.40" y1="1056.90" x2="425.40" y2="1060.40" stroke="#333" stroke-width="1"/>
<text x="425.4" y="1075.0" font-size="13.6" text-anchor="middle">1,000</text>
<line x1="458.40" y1="1056.90" x2="458.40" y2="1060.40" stroke="#333" stroke-width="1"/>
<text x="458.4" y="1075.0" font-size="13.6" text-anchor="middle">1,250</text>
<line x1="282.20" y1="1049.80" x2="285.70" y2="1049.80" stroke="#333" stroke-width="1"/>
<text x="278.6" y="1054.6" font-size="13.6" text-anchor="end">0</text>
<line x1="282.20" y1="987.60" x2="285.70" y2="987.60" stroke="#333" stroke-width="1"/>
<text x="278.6" y="992.4" font-size="13.6" text-anchor="end">5</text>
<line x1="282.20" y1="925.40" x2="285.70" y2="925.40" stroke="#333" stroke-width="1"/>
<text x="278.6" y="930.2" font-size="13.6" text-anchor="end">10</text>
<text x="372.0" y="1095.4" font-size="13.6" text-anchor="middle">Aggrecan mRNA</text>
<text transform="translate(255.5,969.0) rotate(-90)" x="0" y="0" font-size="13.6" text-anchor="middle">LPL mRNA</text>
<rect x="537.20" y="880.30" width="160.60" height="176.60" fill="#fff"/>
<line x1="537.20" y1="1037.15" x2="697.80" y2="1037.15" stroke="#f2f2f2" stroke-width="0.6"/>
<line x1="537.20" y1="1003.45" x2="697.80" y2="1003.45" stroke="#f2f2f2" stroke-width="0.6"/>
<line x1="537.20" y1="969.75" x2="697.80" y2="969.75" stroke="#f2f2f2" stroke-width="0.6"/>
<line x1="537.20" y1="936.05" x2="697.80" y2="936.05" stroke="#f2f2f2" stroke-width="0.6"/>
<line x1="537.20" y1="902.35" x2="697.80" y2="902.35" stroke="#f2f2f2" stroke-width="0.6"/>
<line x1="559.00" y1="880.30" x2="559.00" y2="1056.90" stroke="#f2f2f2" stroke-width="0.6"/>
<line x1="589.80" y1="880.30" x2="589.80" y2="1056.90" stroke="#f2f2f2" stroke-width="0.6"/>
<line x1="620.60" y1="880.30" x2="620.60" y2="1056.90" stroke="#f2f2f2" stroke-width="0.6"/>
<line x1="651.40" y1="880.30" x2="651.40" y2="1056.90" stroke="#f2f2f2" stroke-width="0.6"/>
<line x1="682.20" y1="880.30" x2="682.20" y2="1056.90" stroke="#f2f2f2" stroke-width="0.6"/>
<line x1="537.20" y1="1054.00" x2="697.80" y2="1054.00" stroke="#e2e2e2" stroke-width="0.7"/>
<line x1="537.20" y1="1020.30" x2="697.80" y2="1020.30" stroke="#e2e2e2" stroke-width="0.7"/>
<line x1="537.20" y1="986.60" x2="697.80" y2="986.60" stroke="#e2e2e2" stroke-width="0.7"/>
<line x1="537.20" y1="952.90" x2="697.80" y2="952.90" stroke="#e2e2e2" stroke-width="0.7"/>
<line x1="537.20" y1="919.20" x2="697.80" y2="919.20" stroke="#e2e2e2" stroke-width="0.7"/>
<line x1="537.20" y1="885.50" x2="697.80" y2="885.50" stroke="#e2e2e2" stroke-width="0.7"/>
<line x1="543.60" y1="880.30" x2="543.60" y2="1056.90" stroke="#e2e2e2" stroke-width="0.7"/>
<line x1="574.40" y1="880.30" x2="574.40" y2="1056.90" stroke="#e2e2e2" stroke-width="0.7"/>
<line x1="605.20" y1="880.30" x2="605.20" y2="1056.90" stroke="#e2e2e2" stroke-width="0.7"/>
<line x1="636.00" y1="880.30" x2="636.00" y2="1056.90" stroke="#e2e2e2" stroke-width="0.7"/>
<line x1="666.80" y1="880.30" x2="666.80" y2="1056.90" stroke="#e2e2e2" stroke-width="0.7"/>
<line x1="697.60" y1="880.30" x2="697.60" y2="1056.90" stroke="#e2e2e2" stroke-width="0.7"/>
<g fill="#86c6a0"><circle cx="627.7" cy="889.0" r="2.15"/><circle cx="596.6" cy="892.3" r="2.15"/><circle cx="545.9" cy="921.4" r="2.15"/><circle cx="549.8" cy="920.3" r="2.15"/><circle cx="545.0" cy="929.4" r="2.15"/><circle cx="594.0" cy="929.0" r="2.15"/><circle cx="590.1" cy="935.3" r="2.15"/><circle cx="610.5" cy="942.1" r="2.15"/><circle cx="568.1" cy="944.0" r="2.15"/><circle cx="582.6" cy="952.2" r="2.15"/><circle cx="586.0" cy="957.1" r="2.15"/><circle cx="581.8" cy="959.7" r="2.15"/><circle cx="556.2" cy="958.3" r="2.15"/><circle cx="564.2" cy="956.6" r="2.15"/><circle cx="563.7" cy="960.0" r="2.15"/><circle cx="600.8" cy="956.1" r="2.15"/><circle cx="603.4" cy="954.9" r="2.15"/><circle cx="605.9" cy="954.2" r="2.15"/><circle cx="642.9" cy="963.1" r="2.15"/><circle cx="589.4" cy="968.0" r="2.15"/><circle cx="595.7" cy="967.7" r="2.15"/><circle cx="547.7" cy="973.3" r="2.15"/><circle cx="558.3" cy="975.3" r="2.15"/><circle cx="562.5" cy="976.7" r="2.15"/><circle cx="567.3" cy="975.0" r="2.15"/><circle cx="582.4" cy="972.1" r="2.15"/><circle cx="590.1" cy="974.1" r="2.15"/><circle cx="595.7" cy="977.5" r="2.15"/><circle cx="549.3" cy="982.1" r="2.15"/><circle cx="553.7" cy="980.8" r="2.15"/><circle cx="557.9" cy="984.2" r="2.15"/><circle cx="578.7" cy="979.9" r="2.15"/><circle cx="550.6" cy="988.4" r="2.15"/><circle cx="557.1" cy="988.4" r="2.15"/><circle cx="565.1" cy="990.6" r="2.15"/><circle cx="569.8" cy="988.9" r="2.15"/><circle cx="571.9" cy="984.2" r="2.15"/><circle cx="573.6" cy="984.7" r="2.15"/><circle cx="587.5" cy="986.9" r="2.15"/><circle cx="592.3" cy="986.4" r="2.15"/><circle cx="588.1" cy="990.1" r="2.15"/><circle cx="612.2" cy="986.4" r="2.15"/><circle cx="554.9" cy="992.3" r="2.15"/><circle cx="554.0" cy="994.4" r="2.15"/><circle cx="549.8" cy="996.8" r="2.15"/><circle cx="569.8" cy="992.3" r="2.15"/><circle cx="572.7" cy="993.2" r="2.15"/><circle cx="574.4" cy="997.4" r="2.15"/><circle cx="582.1" cy="993.2" r="2.15"/><circle cx="589.8" cy="997.4" r="2.15"/><circle cx="591.5" cy="997.9" r="2.15"/><circle cx="594.4" cy="997.4" r="2.15"/><circle cx="641.2" cy="996.2" r="2.15"/><circle cx="548.1" cy="1001.4" r="2.15"/><circle cx="572.2" cy="1000.8" r="2.15"/><circle cx="580.9" cy="1001.4" r="2.15"/><circle cx="579.2" cy="1004.2" r="2.15"/><circle cx="589.3" cy="1002.5" r="2.15"/><circle cx="590.6" cy="1005.9" r="2.15"/><circle cx="555.4" cy="1005.1" r="2.15"/><circle cx="556.6" cy="1004.2" r="2.15"/><circle cx="554.9" cy="1005.9" r="2.15"/><circle cx="639.1" cy="1004.2" r="2.15"/><circle cx="545.2" cy="1008.5" r="2.15"/><circle cx="546.7" cy="1006.3" r="2.15"/><circle cx="557.1" cy="1010.5" r="2.15"/><circle cx="559.1" cy="1011.1" r="2.15"/><circle cx="562.5" cy="1011.1" r="2.15"/><circle cx="564.2" cy="1014.5" r="2.15"/><circle cx="572.2" cy="1005.9" r="2.15"/><circle cx="575.0" cy="1007.6" r="2.15"/><circle cx="583.0" cy="1009.4" r="2.15"/><circle cx="585.5" cy="1011.9" r="2.15"/><circle cx="594.0" cy="1013.6" r="2.15"/><circle cx="577.8" cy="1013.9" r="2.15"/><circle cx="610.5" cy="1009.7" r="2.15"/><circle cx="589.8" cy="1015.0" r="2.15"/><circle cx="556.2" cy="1017.9" r="2.15"/><circle cx="555.4" cy="1019.6" r="2.15"/><circle cx="565.1" cy="1017.9" r="2.15"/><circle cx="565.9" cy="1021.3" r="2.15"/><circle cx="583.8" cy="1021.3" r="2.15"/><circle cx="614.4" cy="1019.9" r="2.15"/><circle cx="567.6" cy="1023.0" r="2.15"/></g><g fill="#3a7a80"><circle cx="601.8" cy="934.1" r="2.15"/><circle cx="607.1" cy="961.7" r="2.15"/><circle cx="610.2" cy="966.8" r="2.15"/><circle cx="630.1" cy="969.5" r="2.15"/><circle cx="638.8" cy="972.8" r="2.15"/><circle cx="570.2" cy="976.7" r="2.15"/><circle cx="585.2" cy="980.1" r="2.15"/><circle cx="582.4" cy="983.3" r="2.15"/><circle cx="598.3" cy="981.8" r="2.15"/><circle cx="575.3" cy="985.2" r="2.15"/><circle cx="575.8" cy="991.7" r="2.15"/><circle cx="608.8" cy="988.9" r="2.15"/><circle cx="615.6" cy="986.7" r="2.15"/><circle cx="593.5" cy="994.4" r="2.15"/><circle cx="633.5" cy="993.5" r="2.15"/><circle cx="662.6" cy="991.5" r="2.15"/><circle cx="691.5" cy="992.3" r="2.15"/><circle cx="563.0" cy="1000.5" r="2.15"/><circle cx="583.3" cy="1004.8" r="2.15"/><circle cx="589.4" cy="1003.4" r="2.15"/><circle cx="634.9" cy="1000.3" r="2.15"/><circle cx="582.6" cy="1009.4" r="2.15"/><circle cx="592.3" cy="1010.2" r="2.15"/><circle cx="571.0" cy="1012.4" r="2.15"/><circle cx="604.7" cy="1012.8" r="2.15"/><circle cx="606.8" cy="1011.9" r="2.15"/><circle cx="608.8" cy="1012.8" r="2.15"/><circle cx="613.1" cy="1009.4" r="2.15"/><circle cx="566.8" cy="1016.2" r="2.15"/><circle cx="569.3" cy="1017.0" r="2.15"/><circle cx="571.9" cy="1018.2" r="2.15"/><circle cx="574.8" cy="1022.1" r="2.15"/><circle cx="580.9" cy="1020.4" r="2.15"/><circle cx="587.7" cy="1020.4" r="2.15"/><circle cx="617.8" cy="1017.5" r="2.15"/><circle cx="610.2" cy="1017.0" r="2.15"/><circle cx="608.5" cy="1021.3" r="2.15"/><circle cx="548.6" cy="1021.8" r="2.15"/><circle cx="564.2" cy="1025.5" r="2.15"/><circle cx="571.0" cy="1024.3" r="2.15"/><circle cx="578.7" cy="1024.3" r="2.15"/><circle cx="581.6" cy="1024.7" r="2.15"/><circle cx="553.7" cy="1027.2" r="2.15"/><circle cx="603.9" cy="1025.0" r="2.15"/><circle cx="547.7" cy="1032.3" r="2.15"/><circle cx="569.3" cy="1028.9" r="2.15"/><circle cx="572.7" cy="1030.6" r="2.15"/><circle cx="574.4" cy="1032.3" r="2.15"/><circle cx="583.0" cy="1030.1" r="2.15"/><circle cx="565.4" cy="1032.3" r="2.15"/><circle cx="574.4" cy="1033.2" r="2.15"/><circle cx="573.3" cy="1034.0" r="2.15"/><circle cx="551.8" cy="1036.6" r="2.15"/><circle cx="563.9" cy="1036.1" r="2.15"/><circle cx="595.7" cy="1032.7" r="2.15"/><circle cx="594.9" cy="1034.0" r="2.15"/><circle cx="594.0" cy="1035.7" r="2.15"/><circle cx="675.7" cy="1029.3" r="2.15"/><circle cx="636.2" cy="1036.6" r="2.15"/><circle cx="545.2" cy="1040.0" r="2.15"/><circle cx="546.4" cy="1038.3" r="2.15"/><circle cx="569.8" cy="1038.3" r="2.15"/><circle cx="596.2" cy="1039.6" r="2.15"/><circle cx="549.8" cy="1044.8" r="2.15"/><circle cx="561.7" cy="1043.1" r="2.15"/><circle cx="561.7" cy="1044.8" r="2.15"/><circle cx="566.3" cy="1041.3" r="2.15"/><circle cx="564.2" cy="1046.5" r="2.15"/><circle cx="571.0" cy="1045.9" r="2.15"/><circle cx="584.7" cy="1043.1" r="2.15"/><circle cx="589.8" cy="1043.9" r="2.15"/><circle cx="554.9" cy="1050.7" r="2.15"/><circle cx="603.9" cy="1046.5" r="2.15"/></g>
<rect x="537.20" y="880.30" width="160.60" height="176.60" fill="none" stroke="#4a4a4a" stroke-width="1.1"/>
<line x1="543.60" y1="1056.90" x2="543.60" y2="1060.40" stroke="#333" stroke-width="1"/>
<text x="543.6" y="1075.0" font-size="13.6" text-anchor="middle">0</text>
<line x1="574.40" y1="1056.90" x2="574.40" y2="1060.40" stroke="#333" stroke-width="1"/>
<text x="574.4" y="1075.0" font-size="13.6" text-anchor="middle">250</text>
<line x1="605.20" y1="1056.90" x2="605.20" y2="1060.40" stroke="#333" stroke-width="1"/>
<text x="605.2" y="1075.0" font-size="13.6" text-anchor="middle">500</text>
<line x1="636.00" y1="1056.90" x2="636.00" y2="1060.40" stroke="#333" stroke-width="1"/>
<text x="636.0" y="1075.0" font-size="13.6" text-anchor="middle">750</text>
<line x1="666.80" y1="1056.90" x2="666.80" y2="1060.40" stroke="#333" stroke-width="1"/>
<text x="666.8" y="1075.0" font-size="13.6" text-anchor="middle">1,000</text>
<line x1="697.60" y1="1056.90" x2="697.60" y2="1060.40" stroke="#333" stroke-width="1"/>
<text x="697.6" y="1075.0" font-size="13.6" text-anchor="middle">1,250</text>
<line x1="533.70" y1="1054.00" x2="537.20" y2="1054.00" stroke="#333" stroke-width="1"/>
<text x="530.9" y="1058.8" font-size="13.6" text-anchor="end">0</text>
<line x1="533.70" y1="1020.30" x2="537.20" y2="1020.30" stroke="#333" stroke-width="1"/>
<text x="530.9" y="1025.1" font-size="13.6" text-anchor="end">250</text>
<line x1="533.70" y1="986.60" x2="537.20" y2="986.60" stroke="#333" stroke-width="1"/>
<text x="530.9" y="991.4" font-size="13.6" text-anchor="end">500</text>
<line x1="533.70" y1="952.90" x2="537.20" y2="952.90" stroke="#333" stroke-width="1"/>
<text x="530.9" y="957.7" font-size="13.6" text-anchor="end">750</text>
<line x1="533.70" y1="919.20" x2="537.20" y2="919.20" stroke="#333" stroke-width="1"/>
<text x="530.9" y="924.0" font-size="13.6" text-anchor="end">1,000</text>
<line x1="533.70" y1="885.50" x2="537.20" y2="885.50" stroke="#333" stroke-width="1"/>
<text x="530.9" y="890.3" font-size="13.6" text-anchor="end">1,250</text>
<text x="620.0" y="1095.4" font-size="13.6" text-anchor="middle">Aggrecan mRNA</text>
<text transform="translate(489.0,969.0) rotate(-90)" x="0" y="0" font-size="13.6" text-anchor="middle">GAPDH mRNA</text>
<rect x="767.60" y="880.30" width="161.10" height="176.60" fill="#fff"/>
<line x1="767.60" y1="1029.55" x2="928.70" y2="1029.55" stroke="#f2f2f2" stroke-width="0.6"/>
<line x1="767.60" y1="989.05" x2="928.70" y2="989.05" stroke="#f2f2f2" stroke-width="0.6"/>
<line x1="767.60" y1="948.55" x2="928.70" y2="948.55" stroke="#f2f2f2" stroke-width="0.6"/>
<line x1="767.60" y1="908.05" x2="928.70" y2="908.05" stroke="#f2f2f2" stroke-width="0.6"/>
<line x1="787.25" y1="880.30" x2="787.25" y2="1056.90" stroke="#f2f2f2" stroke-width="0.6"/>
<line x1="817.75" y1="880.30" x2="817.75" y2="1056.90" stroke="#f2f2f2" stroke-width="0.6"/>
<line x1="848.25" y1="880.30" x2="848.25" y2="1056.90" stroke="#f2f2f2" stroke-width="0.6"/>
<line x1="878.75" y1="880.30" x2="878.75" y2="1056.90" stroke="#f2f2f2" stroke-width="0.6"/>
<line x1="909.25" y1="880.30" x2="909.25" y2="1056.90" stroke="#f2f2f2" stroke-width="0.6"/>
<line x1="767.60" y1="1049.80" x2="928.70" y2="1049.80" stroke="#e2e2e2" stroke-width="0.7"/>
<line x1="767.60" y1="1009.30" x2="928.70" y2="1009.30" stroke="#e2e2e2" stroke-width="0.7"/>
<line x1="767.60" y1="968.80" x2="928.70" y2="968.80" stroke="#e2e2e2" stroke-width="0.7"/>
<line x1="767.60" y1="928.30" x2="928.70" y2="928.30" stroke="#e2e2e2" stroke-width="0.7"/>
<line x1="767.60" y1="887.80" x2="928.70" y2="887.80" stroke="#e2e2e2" stroke-width="0.7"/>
<line x1="772.00" y1="880.30" x2="772.00" y2="1056.90" stroke="#e2e2e2" stroke-width="0.7"/>
<line x1="802.50" y1="880.30" x2="802.50" y2="1056.90" stroke="#e2e2e2" stroke-width="0.7"/>
<line x1="833.00" y1="880.30" x2="833.00" y2="1056.90" stroke="#e2e2e2" stroke-width="0.7"/>
<line x1="863.50" y1="880.30" x2="863.50" y2="1056.90" stroke="#e2e2e2" stroke-width="0.7"/>
<line x1="894.00" y1="880.30" x2="894.00" y2="1056.90" stroke="#e2e2e2" stroke-width="0.7"/>
<line x1="924.50" y1="880.30" x2="924.50" y2="1056.90" stroke="#e2e2e2" stroke-width="0.7"/>
<g fill="#86c6a0"><circle cx="815.8" cy="907.8" r="2.15"/><circle cx="808.6" cy="930.7" r="2.15"/><circle cx="859.8" cy="931.4" r="2.15"/><circle cx="872.1" cy="937.2" r="2.15"/><circle cx="919.9" cy="938.2" r="2.15"/><circle cx="801.2" cy="946.3" r="2.15"/><circle cx="859.1" cy="948.9" r="2.15"/><circle cx="806.9" cy="957.9" r="2.15"/><circle cx="821.4" cy="958.8" r="2.15"/><circle cx="801.8" cy="961.7" r="2.15"/><circle cx="807.2" cy="966.7" r="2.15"/><circle cx="814.1" cy="969.4" r="2.15"/><circle cx="827.8" cy="970.3" r="2.15"/><circle cx="799.2" cy="971.3" r="2.15"/><circle cx="825.7" cy="974.7" r="2.15"/><circle cx="812.4" cy="979.0" r="2.15"/><circle cx="890.6" cy="978.5" r="2.15"/><circle cx="844.6" cy="985.2" r="2.15"/><circle cx="816.6" cy="987.1" r="2.15"/><circle cx="821.8" cy="986.2" r="2.15"/><circle cx="813.7" cy="995.8" r="2.15"/><circle cx="837.7" cy="993.9" r="2.15"/><circle cx="842.7" cy="997.2" r="2.15"/><circle cx="848.3" cy="997.5" r="2.15"/><circle cx="858.1" cy="997.5" r="2.15"/><circle cx="860.8" cy="999.9" r="2.15"/><circle cx="892.0" cy="998.0" r="2.15"/><circle cx="917.0" cy="996.1" r="2.15"/><circle cx="822.6" cy="998.2" r="2.15"/><circle cx="831.5" cy="999.9" r="2.15"/><circle cx="814.9" cy="1001.6" r="2.15"/><circle cx="815.4" cy="1003.3" r="2.15"/><circle cx="822.6" cy="1005.0" r="2.15"/><circle cx="818.4" cy="1009.3" r="2.15"/><circle cx="841.5" cy="1008.0" r="2.15"/><circle cx="848.8" cy="1005.6" r="2.15"/><circle cx="858.6" cy="1007.1" r="2.15"/><circle cx="878.1" cy="1010.0" r="2.15"/><circle cx="814.9" cy="1010.5" r="2.15"/><circle cx="820.4" cy="1013.3" r="2.15"/><circle cx="811.2" cy="1014.8" r="2.15"/><circle cx="814.6" cy="1017.0" r="2.15"/><circle cx="818.4" cy="1016.7" r="2.15"/><circle cx="831.5" cy="1014.5" r="2.15"/><circle cx="842.8" cy="1013.3" r="2.15"/><circle cx="843.5" cy="1015.3" r="2.15"/><circle cx="802.4" cy="1018.1" r="2.15"/><circle cx="807.6" cy="1018.9" r="2.15"/><circle cx="836.8" cy="1018.8" r="2.15"/><circle cx="838.0" cy="1021.2" r="2.15"/><circle cx="870.1" cy="1021.8" r="2.15"/><circle cx="800.4" cy="1025.9" r="2.15"/><circle cx="813.7" cy="1026.1" r="2.15"/><circle cx="818.4" cy="1029.0" r="2.15"/><circle cx="828.6" cy="1029.0" r="2.15"/><circle cx="830.3" cy="1029.0" r="2.15"/><circle cx="833.8" cy="1027.3" r="2.15"/><circle cx="841.0" cy="1026.5" r="2.15"/><circle cx="803.5" cy="1029.9" r="2.15"/><circle cx="807.6" cy="1030.4" r="2.15"/><circle cx="811.2" cy="1030.7" r="2.15"/><circle cx="796.1" cy="1035.0" r="2.15"/><circle cx="805.5" cy="1033.7" r="2.15"/><circle cx="809.8" cy="1035.0" r="2.15"/><circle cx="824.7" cy="1032.5" r="2.15"/><circle cx="827.8" cy="1033.8" r="2.15"/><circle cx="835.5" cy="1030.7" r="2.15"/><circle cx="842.3" cy="1031.6" r="2.15"/><circle cx="836.3" cy="1034.2" r="2.15"/><circle cx="855.7" cy="1033.3" r="2.15"/><circle cx="862.5" cy="1032.1" r="2.15"/><circle cx="797.8" cy="1036.2" r="2.15"/><circle cx="806.4" cy="1036.7" r="2.15"/><circle cx="824.4" cy="1036.7" r="2.15"/><circle cx="828.3" cy="1035.9" r="2.15"/><circle cx="800.9" cy="1039.3" r="2.15"/><circle cx="805.5" cy="1040.2" r="2.15"/><circle cx="813.2" cy="1039.0" r="2.15"/><circle cx="816.3" cy="1037.3" r="2.15"/><circle cx="826.1" cy="1040.5" r="2.15"/><circle cx="830.3" cy="1039.7" r="2.15"/><circle cx="853.1" cy="1036.7" r="2.15"/><circle cx="856.0" cy="1039.3" r="2.15"/><circle cx="808.9" cy="1041.4" r="2.15"/><circle cx="791.3" cy="1042.7" r="2.15"/><circle cx="833.8" cy="1042.7" r="2.15"/><circle cx="837.7" cy="1042.4" r="2.15"/><circle cx="883.4" cy="1041.5" r="2.15"/><circle cx="804.7" cy="1044.1" r="2.15"/></g><g fill="#3a7a80"><circle cx="879.1" cy="888.9" r="2.15"/><circle cx="831.5" cy="960.9" r="2.15"/><circle cx="824.4" cy="964.8" r="2.15"/><circle cx="829.5" cy="976.8" r="2.15"/><circle cx="854.0" cy="979.0" r="2.15"/><circle cx="819.2" cy="985.3" r="2.15"/><circle cx="826.1" cy="988.3" r="2.15"/><circle cx="827.3" cy="988.3" r="2.15"/><circle cx="803.5" cy="995.1" r="2.15"/><circle cx="807.7" cy="1001.3" r="2.15"/><circle cx="826.9" cy="1000.3" r="2.15"/><circle cx="808.1" cy="1007.6" r="2.15"/><circle cx="816.6" cy="1008.3" r="2.15"/><circle cx="832.9" cy="1008.8" r="2.15"/><circle cx="836.0" cy="1006.8" r="2.15"/><circle cx="791.5" cy="1011.9" r="2.15"/><circle cx="797.5" cy="1010.7" r="2.15"/><circle cx="846.6" cy="1010.9" r="2.15"/><circle cx="788.4" cy="1027.0" r="2.15"/><circle cx="804.3" cy="1026.8" r="2.15"/><circle cx="808.6" cy="1024.7" r="2.15"/><circle cx="844.0" cy="1026.8" r="2.15"/><circle cx="849.5" cy="1027.7" r="2.15"/><circle cx="792.3" cy="1032.1" r="2.15"/><circle cx="797.0" cy="1031.3" r="2.15"/><circle cx="800.4" cy="1031.6" r="2.15"/><circle cx="777.6" cy="1035.0" r="2.15"/><circle cx="788.7" cy="1037.3" r="2.15"/><circle cx="834.6" cy="1035.0" r="2.15"/><circle cx="837.5" cy="1037.3" r="2.15"/><circle cx="803.0" cy="1040.7" r="2.15"/><circle cx="803.5" cy="1041.9" r="2.15"/><circle cx="796.1" cy="1043.2" r="2.15"/><circle cx="799.2" cy="1045.3" r="2.15"/><circle cx="807.2" cy="1044.4" r="2.15"/><circle cx="808.1" cy="1045.8" r="2.15"/><circle cx="773.5" cy="1050.4" r="2.15"/><circle cx="777.3" cy="1050.4" r="2.15"/><circle cx="779.8" cy="1048.7" r="2.15"/><circle cx="782.1" cy="1047.0" r="2.15"/><circle cx="784.1" cy="1049.6" r="2.15"/><circle cx="786.7" cy="1048.7" r="2.15"/><circle cx="787.5" cy="1046.5" r="2.15"/><circle cx="791.0" cy="1050.4" r="2.15"/><circle cx="794.4" cy="1050.4" r="2.15"/><circle cx="797.0" cy="1049.6" r="2.15"/><circle cx="798.7" cy="1047.0" r="2.15"/><circle cx="800.4" cy="1050.1" r="2.15"/><circle cx="803.8" cy="1050.4" r="2.15"/><circle cx="810.7" cy="1049.6" r="2.15"/><circle cx="811.5" cy="1050.8" r="2.15"/><circle cx="815.4" cy="1050.4" r="2.15"/><circle cx="819.2" cy="1048.4" r="2.15"/><circle cx="826.6" cy="1050.4" r="2.15"/><circle cx="841.0" cy="1050.4" r="2.15"/></g>
<rect x="767.60" y="880.30" width="161.10" height="176.60" fill="none" stroke="#4a4a4a" stroke-width="1.1"/>
<line x1="772.00" y1="1056.90" x2="772.00" y2="1060.40" stroke="#333" stroke-width="1"/>
<text x="772.0" y="1075.0" font-size="13.6" text-anchor="middle">0</text>
<line x1="802.50" y1="1056.90" x2="802.50" y2="1060.40" stroke="#333" stroke-width="1"/>
<text x="802.5" y="1075.0" font-size="13.6" text-anchor="middle">250</text>
<line x1="833.00" y1="1056.90" x2="833.00" y2="1060.40" stroke="#333" stroke-width="1"/>
<text x="833.0" y="1075.0" font-size="13.6" text-anchor="middle">500</text>
<line x1="863.50" y1="1056.90" x2="863.50" y2="1060.40" stroke="#333" stroke-width="1"/>
<text x="863.5" y="1075.0" font-size="13.6" text-anchor="middle">750</text>
<line x1="894.00" y1="1056.90" x2="894.00" y2="1060.40" stroke="#333" stroke-width="1"/>
<text x="894.0" y="1075.0" font-size="13.6" text-anchor="middle">1,000</text>
<line x1="924.50" y1="1056.90" x2="924.50" y2="1060.40" stroke="#333" stroke-width="1"/>
<text x="924.5" y="1075.0" font-size="13.6" text-anchor="middle">1,250</text>
<line x1="764.10" y1="1049.80" x2="767.60" y2="1049.80" stroke="#333" stroke-width="1"/>
<text x="761.8" y="1054.6" font-size="13.6" text-anchor="end">0</text>
<line x1="764.10" y1="1009.30" x2="767.60" y2="1009.30" stroke="#333" stroke-width="1"/>
<text x="761.8" y="1014.1" font-size="13.6" text-anchor="end">200</text>
<line x1="764.10" y1="968.80" x2="767.60" y2="968.80" stroke="#333" stroke-width="1"/>
<text x="761.8" y="973.6" font-size="13.6" text-anchor="end">400</text>
<line x1="764.10" y1="928.30" x2="767.60" y2="928.30" stroke="#333" stroke-width="1"/>
<text x="761.8" y="933.1" font-size="13.6" text-anchor="end">600</text>
<line x1="764.10" y1="887.80" x2="767.60" y2="887.80" stroke="#333" stroke-width="1"/>
<text x="761.8" y="892.6" font-size="13.6" text-anchor="end">800</text>
<text x="848.0" y="1095.4" font-size="13.6" text-anchor="middle">GAPDH mRNA</text>
<text transform="translate(728.5,969.0) rotate(-90)" x="0" y="0" font-size="13.6" text-anchor="middle">Osteopontin mRNA</text>
</svg>
</body></html>
